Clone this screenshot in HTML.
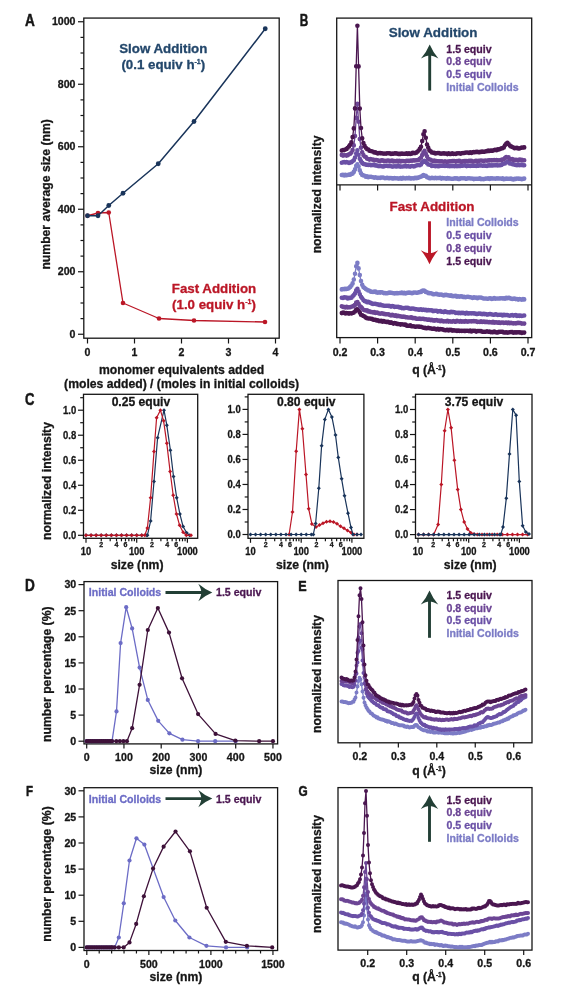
<!DOCTYPE html>
<html><head><meta charset="utf-8"><style>
html,body{margin:0;padding:0;background:#fff;width:564px;height:1000px;overflow:hidden}
svg{display:block;will-change:transform}
text{font-family:"Liberation Sans", sans-serif;stroke-width:0.3px;stroke-linejoin:round}
</style></head><body>
<svg width="564" height="1000" viewBox="0 0 564 1000">
<rect width="564" height="1000" fill="#fff"/>
<text transform="translate(25.06,26.45) scale(0.82,1)" font-size="16.6" text-anchor="start" fill="#161616" stroke="#161616" font-weight="bold" style="stroke-width:0.5px">A</text>
<text transform="translate(299.67,26.20) scale(0.7,1)" font-size="16.9" text-anchor="start" fill="#161616" stroke="#161616" font-weight="bold" style="stroke-width:0.5px">B</text>
<text transform="translate(25.01,405.20) scale(0.77,1)" font-size="17.0" text-anchor="start" fill="#161616" stroke="#161616" font-weight="bold" style="stroke-width:0.5px">C</text>
<text transform="translate(24.98,590.95) scale(0.85,1)" font-size="16.0" text-anchor="start" fill="#161616" stroke="#161616" font-weight="bold" style="stroke-width:0.5px">D</text>
<text transform="translate(298.13,590.80) scale(0.85,1)" font-size="14.8" text-anchor="start" fill="#161616" stroke="#161616" font-weight="bold" style="stroke-width:0.5px">E</text>
<text transform="translate(25.97,795.95) scale(0.75,1)" font-size="15.3" text-anchor="start" fill="#161616" stroke="#161616" font-weight="bold" style="stroke-width:0.5px">F</text>
<text transform="translate(298.49,795.95) scale(0.85,1)" font-size="13.9" text-anchor="start" fill="#161616" stroke="#161616" font-weight="bold" style="stroke-width:0.5px">G</text>
<rect x="83.80" y="18.07" width="195.40" height="320.13" fill="none" stroke="#161616" stroke-width="1.3"/>
<line x1="78.00" y1="334.25" x2="83.80" y2="334.25" stroke="#161616" stroke-width="1.2"/>
<text x="75.50" y="337.75" font-size="10.6" text-anchor="end" fill="#161616" stroke="#161616" font-weight="bold" >0</text>
<line x1="80.50" y1="318.62" x2="83.80" y2="318.62" stroke="#161616" stroke-width="1.2"/>
<line x1="80.50" y1="303.00" x2="83.80" y2="303.00" stroke="#161616" stroke-width="1.2"/>
<line x1="80.50" y1="287.38" x2="83.80" y2="287.38" stroke="#161616" stroke-width="1.2"/>
<line x1="78.00" y1="271.75" x2="83.80" y2="271.75" stroke="#161616" stroke-width="1.2"/>
<text x="75.50" y="275.25" font-size="10.6" text-anchor="end" fill="#161616" stroke="#161616" font-weight="bold" >200</text>
<line x1="80.50" y1="256.12" x2="83.80" y2="256.12" stroke="#161616" stroke-width="1.2"/>
<line x1="80.50" y1="240.50" x2="83.80" y2="240.50" stroke="#161616" stroke-width="1.2"/>
<line x1="80.50" y1="224.88" x2="83.80" y2="224.88" stroke="#161616" stroke-width="1.2"/>
<line x1="78.00" y1="209.25" x2="83.80" y2="209.25" stroke="#161616" stroke-width="1.2"/>
<text x="75.50" y="212.75" font-size="10.6" text-anchor="end" fill="#161616" stroke="#161616" font-weight="bold" >400</text>
<line x1="80.50" y1="193.62" x2="83.80" y2="193.62" stroke="#161616" stroke-width="1.2"/>
<line x1="80.50" y1="178.00" x2="83.80" y2="178.00" stroke="#161616" stroke-width="1.2"/>
<line x1="80.50" y1="162.38" x2="83.80" y2="162.38" stroke="#161616" stroke-width="1.2"/>
<line x1="78.00" y1="146.75" x2="83.80" y2="146.75" stroke="#161616" stroke-width="1.2"/>
<text x="75.50" y="150.25" font-size="10.6" text-anchor="end" fill="#161616" stroke="#161616" font-weight="bold" >600</text>
<line x1="80.50" y1="131.12" x2="83.80" y2="131.12" stroke="#161616" stroke-width="1.2"/>
<line x1="80.50" y1="115.50" x2="83.80" y2="115.50" stroke="#161616" stroke-width="1.2"/>
<line x1="80.50" y1="99.88" x2="83.80" y2="99.88" stroke="#161616" stroke-width="1.2"/>
<line x1="78.00" y1="84.25" x2="83.80" y2="84.25" stroke="#161616" stroke-width="1.2"/>
<text x="75.50" y="87.75" font-size="10.6" text-anchor="end" fill="#161616" stroke="#161616" font-weight="bold" >800</text>
<line x1="80.50" y1="68.62" x2="83.80" y2="68.62" stroke="#161616" stroke-width="1.2"/>
<line x1="80.50" y1="53.00" x2="83.80" y2="53.00" stroke="#161616" stroke-width="1.2"/>
<line x1="80.50" y1="37.38" x2="83.80" y2="37.38" stroke="#161616" stroke-width="1.2"/>
<line x1="78.00" y1="21.75" x2="83.80" y2="21.75" stroke="#161616" stroke-width="1.2"/>
<text x="75.50" y="25.25" font-size="10.6" text-anchor="end" fill="#161616" stroke="#161616" font-weight="bold" >1000</text>
<line x1="87.50" y1="338.20" x2="87.50" y2="343.50" stroke="#161616" stroke-width="1.2"/>
<text x="87.50" y="356.20" font-size="10.6" text-anchor="middle" fill="#161616" stroke="#161616" font-weight="bold" >0</text>
<line x1="134.50" y1="338.20" x2="134.50" y2="343.50" stroke="#161616" stroke-width="1.2"/>
<text x="134.50" y="356.20" font-size="10.6" text-anchor="middle" fill="#161616" stroke="#161616" font-weight="bold" >1</text>
<line x1="181.50" y1="338.20" x2="181.50" y2="343.50" stroke="#161616" stroke-width="1.2"/>
<text x="181.50" y="356.20" font-size="10.6" text-anchor="middle" fill="#161616" stroke="#161616" font-weight="bold" >2</text>
<line x1="228.50" y1="338.20" x2="228.50" y2="343.50" stroke="#161616" stroke-width="1.2"/>
<text x="228.50" y="356.20" font-size="10.6" text-anchor="middle" fill="#161616" stroke="#161616" font-weight="bold" >3</text>
<line x1="275.50" y1="338.20" x2="275.50" y2="343.50" stroke="#161616" stroke-width="1.2"/>
<text x="275.50" y="356.20" font-size="10.6" text-anchor="middle" fill="#161616" stroke="#161616" font-weight="bold" >4</text>
<text transform="translate(50.20,194.40) rotate(-90)" font-size="12.2" text-anchor="middle" fill="#161616" stroke="#161616" font-weight="bold">number average size (nm)</text>
<text x="181.50" y="374.00" font-size="12.2" text-anchor="middle" fill="#161616" stroke="#161616" font-weight="bold" >monomer equivalents added</text>
<text x="181.60" y="388.00" font-size="12.2" text-anchor="middle" fill="#161616" stroke="#161616" font-weight="bold" >(moles added) / (moles in initial colloids)</text>
<polyline points="87.50,215.75 98.00,213.00 108.75,212.50 123.00,303.00 159.00,318.50 194.00,320.50 265.00,322.00" fill="none" stroke="#bb1626" stroke-width="1.3" stroke-linejoin="round" stroke-linecap="round" />
<circle cx="87.50" cy="215.75" r="2.3" fill="#bb1626"/>
<circle cx="98.00" cy="213.00" r="2.3" fill="#bb1626"/>
<circle cx="108.75" cy="212.50" r="2.3" fill="#bb1626"/>
<circle cx="123.00" cy="303.00" r="2.3" fill="#bb1626"/>
<circle cx="159.00" cy="318.50" r="2.3" fill="#bb1626"/>
<circle cx="194.00" cy="320.50" r="2.3" fill="#bb1626"/>
<circle cx="265.00" cy="322.00" r="2.3" fill="#bb1626"/>
<polyline points="87.50,215.75 98.00,215.75 108.75,205.50 123.00,193.25 158.25,163.75 194.00,121.50 265.25,28.75" fill="none" stroke="#19345a" stroke-width="1.5" stroke-linejoin="round" stroke-linecap="round" />
<circle cx="87.50" cy="215.75" r="2.4" fill="#19345a"/>
<circle cx="98.00" cy="215.75" r="2.4" fill="#19345a"/>
<circle cx="108.75" cy="205.50" r="2.4" fill="#19345a"/>
<circle cx="123.00" cy="193.25" r="2.4" fill="#19345a"/>
<circle cx="158.25" cy="163.75" r="2.4" fill="#19345a"/>
<circle cx="194.00" cy="121.50" r="2.4" fill="#19345a"/>
<circle cx="265.25" cy="28.75" r="2.4" fill="#19345a"/>
<text x="163.30" y="53.40" font-size="13.3" text-anchor="middle" fill="#23476b" stroke="#23476b" font-weight="bold" >Slow Addition</text>
<text x="163.3" y="69.2" font-size="13.3" text-anchor="middle" fill="#23476b" stroke="#23476b" font-weight="bold">(0.1 equiv h<tspan font-size="7" dy="-5">-1</tspan><tspan dy="5">)</tspan></text>
<text x="214.00" y="293.40" font-size="13.3" text-anchor="middle" fill="#bb1626" stroke="#bb1626" font-weight="bold" >Fast Addition</text>
<text x="214" y="309.4" font-size="13.3" text-anchor="middle" fill="#bb1626" stroke="#bb1626" font-weight="bold">(1.0 equiv h<tspan font-size="7" dy="-5">-1</tspan><tspan dy="5">)</tspan></text>
<rect x="336.70" y="18.10" width="195.00" height="319.50" fill="none" stroke="#161616" stroke-width="1.3"/>
<line x1="336.70" y1="184.90" x2="531.70" y2="184.90" stroke="#161616" stroke-width="1.2"/>
<line x1="340.00" y1="184.90" x2="340.00" y2="190.50" stroke="#161616" stroke-width="1.2"/>
<line x1="340.00" y1="337.60" x2="340.00" y2="343.50" stroke="#161616" stroke-width="1.2"/>
<text x="340.00" y="356.30" font-size="10.6" text-anchor="middle" fill="#161616" stroke="#161616" font-weight="bold" >0.2</text>
<line x1="377.60" y1="184.90" x2="377.60" y2="190.50" stroke="#161616" stroke-width="1.2"/>
<line x1="377.60" y1="337.60" x2="377.60" y2="343.50" stroke="#161616" stroke-width="1.2"/>
<text x="377.60" y="356.30" font-size="10.6" text-anchor="middle" fill="#161616" stroke="#161616" font-weight="bold" >0.3</text>
<line x1="415.20" y1="184.90" x2="415.20" y2="190.50" stroke="#161616" stroke-width="1.2"/>
<line x1="415.20" y1="337.60" x2="415.20" y2="343.50" stroke="#161616" stroke-width="1.2"/>
<text x="415.20" y="356.30" font-size="10.6" text-anchor="middle" fill="#161616" stroke="#161616" font-weight="bold" >0.4</text>
<line x1="452.80" y1="184.90" x2="452.80" y2="190.50" stroke="#161616" stroke-width="1.2"/>
<line x1="452.80" y1="337.60" x2="452.80" y2="343.50" stroke="#161616" stroke-width="1.2"/>
<text x="452.80" y="356.30" font-size="10.6" text-anchor="middle" fill="#161616" stroke="#161616" font-weight="bold" >0.5</text>
<line x1="490.40" y1="184.90" x2="490.40" y2="190.50" stroke="#161616" stroke-width="1.2"/>
<line x1="490.40" y1="337.60" x2="490.40" y2="343.50" stroke="#161616" stroke-width="1.2"/>
<text x="490.40" y="356.30" font-size="10.6" text-anchor="middle" fill="#161616" stroke="#161616" font-weight="bold" >0.6</text>
<line x1="528.00" y1="184.90" x2="528.00" y2="190.50" stroke="#161616" stroke-width="1.2"/>
<line x1="528.00" y1="337.60" x2="528.00" y2="343.50" stroke="#161616" stroke-width="1.2"/>
<text x="528.00" y="356.30" font-size="10.6" text-anchor="middle" fill="#161616" stroke="#161616" font-weight="bold" >0.7</text>
<text transform="translate(320.50,194.40) rotate(-90)" font-size="12.2" text-anchor="middle" fill="#161616" stroke="#161616" font-weight="bold">normalized intensity</text>
<text x="429" y="374" font-size="12.2" text-anchor="middle" fill="#161616" stroke="#161616" font-weight="bold">q (Å<tspan font-size="6.5" dy="-4.5">-1</tspan><tspan dy="4.5">)</tspan></text>
<polyline points="341.80,175.04 343.00,174.90 344.20,175.36 345.40,174.84 346.60,175.24 347.80,175.02 349.00,174.61 350.20,174.78 351.40,173.94 352.60,173.56 353.80,171.88 355.00,169.42 356.20,165.90 357.40,164.16 358.60,166.50 359.80,170.44 361.00,173.25 362.20,174.94 363.40,175.45 364.60,175.84 365.80,176.75 367.00,176.20 368.20,177.16 369.40,176.83 370.60,176.85 371.80,176.96 373.00,177.24 374.20,177.80 375.40,177.31 376.60,177.75 377.80,177.87 379.00,177.69 380.20,177.89 381.40,177.50 382.60,177.54 383.80,177.71 385.00,178.17 386.20,177.98 387.40,177.90 388.60,178.18 389.80,178.08 391.00,177.97 392.20,178.43 393.40,178.37 394.60,177.98 395.80,178.29 397.00,178.26 398.20,178.58 399.40,178.46 400.60,178.07 401.80,178.70 403.00,177.93 404.20,178.20 405.40,178.51 406.60,177.96 407.80,178.25 409.00,177.84 410.20,178.38 411.40,178.44 412.60,178.24 413.80,178.46 415.00,177.88 416.20,178.11 417.40,177.86 418.60,177.59 419.80,177.07 421.00,176.77 422.20,176.04 423.40,175.09 424.60,175.66 425.80,175.95 427.00,177.21 428.20,177.60 429.40,178.19 430.60,178.22 431.80,177.85 433.00,178.03 434.20,178.34 435.40,177.81 436.60,178.24 437.80,178.00 439.00,177.98 440.20,177.94 441.40,178.60 442.60,178.04 443.80,178.16 445.00,178.30 446.20,178.75 447.40,178.05 448.60,178.39 449.80,178.49 451.00,178.80 452.20,178.76 453.40,178.81 454.60,178.29 455.80,178.43 457.00,178.39 458.20,178.87 459.40,178.95 460.60,178.23 461.80,178.26 463.00,178.32 464.20,178.33 465.40,178.57 466.60,178.67 467.80,178.39 469.00,178.16 470.20,178.55 471.40,178.51 472.60,178.70 473.80,179.05 475.00,178.83 476.20,178.68 477.40,178.78 478.60,178.84 479.80,178.29 481.00,179.06 482.20,178.96 483.40,179.05 484.60,178.99 485.80,178.63 487.00,178.65 488.20,178.39 489.40,178.88 490.60,178.37 491.80,178.38 493.00,178.52 494.20,178.48 495.40,178.65 496.60,178.40 497.80,178.36 499.00,178.51 500.20,178.47 501.40,178.71 502.60,178.42 503.80,179.19 505.00,178.96 506.20,178.55 507.40,178.66 508.60,178.75 509.80,178.77 511.00,178.56 512.20,179.22 513.40,179.36 514.60,178.90 515.80,178.92 517.00,178.57 518.20,178.59 519.40,178.82 520.60,178.76 521.80,179.27 523.00,178.68 524.20,178.56" fill="none" stroke="#7c7cc6" stroke-width="1.3" stroke-linejoin="round" stroke-linecap="round" />
<path d="M341.8 175.0h0M343.0 174.9h0M344.2 175.4h0M345.4 174.8h0M346.6 175.2h0M347.8 175.0h0M349.0 174.6h0M350.2 174.8h0M351.4 173.9h0M352.6 173.6h0M353.8 171.9h0M355.0 169.4h0M356.2 165.9h0M357.4 164.2h0M358.6 166.5h0M359.8 170.4h0M361.0 173.2h0M362.2 174.9h0M363.4 175.5h0M364.6 175.8h0M365.8 176.8h0M367.0 176.2h0M368.2 177.2h0M369.4 176.8h0M370.6 176.8h0M371.8 177.0h0M373.0 177.2h0M374.2 177.8h0M375.4 177.3h0M376.6 177.7h0M377.8 177.9h0M379.0 177.7h0M380.2 177.9h0M381.4 177.5h0M382.6 177.5h0M383.8 177.7h0M385.0 178.2h0M386.2 178.0h0M387.4 177.9h0M388.6 178.2h0M389.8 178.1h0M391.0 178.0h0M392.2 178.4h0M393.4 178.4h0M394.6 178.0h0M395.8 178.3h0M397.0 178.3h0M398.2 178.6h0M399.4 178.5h0M400.6 178.1h0M401.8 178.7h0M403.0 177.9h0M404.2 178.2h0M405.4 178.5h0M406.6 178.0h0M407.8 178.3h0M409.0 177.8h0M410.2 178.4h0M411.4 178.4h0M412.6 178.2h0M413.8 178.5h0M415.0 177.9h0M416.2 178.1h0M417.4 177.9h0M418.6 177.6h0M419.8 177.1h0M421.0 176.8h0M422.2 176.0h0M423.4 175.1h0M424.6 175.7h0M425.8 175.9h0M427.0 177.2h0M428.2 177.6h0M429.4 178.2h0M430.6 178.2h0M431.8 177.9h0M433.0 178.0h0M434.2 178.3h0M435.4 177.8h0M436.6 178.2h0M437.8 178.0h0M439.0 178.0h0M440.2 177.9h0M441.4 178.6h0M442.6 178.0h0M443.8 178.2h0M445.0 178.3h0M446.2 178.7h0M447.4 178.0h0M448.6 178.4h0M449.8 178.5h0M451.0 178.8h0M452.2 178.8h0M453.4 178.8h0M454.6 178.3h0M455.8 178.4h0M457.0 178.4h0M458.2 178.9h0M459.4 178.9h0M460.6 178.2h0M461.8 178.3h0M463.0 178.3h0M464.2 178.3h0M465.4 178.6h0M466.6 178.7h0M467.8 178.4h0M469.0 178.2h0M470.2 178.5h0M471.4 178.5h0M472.6 178.7h0M473.8 179.1h0M475.0 178.8h0M476.2 178.7h0M477.4 178.8h0M478.6 178.8h0M479.8 178.3h0M481.0 179.1h0M482.2 179.0h0M483.4 179.1h0M484.6 179.0h0M485.8 178.6h0M487.0 178.6h0M488.2 178.4h0M489.4 178.9h0M490.6 178.4h0M491.8 178.4h0M493.0 178.5h0M494.2 178.5h0M495.4 178.7h0M496.6 178.4h0M497.8 178.4h0M499.0 178.5h0M500.2 178.5h0M501.4 178.7h0M502.6 178.4h0M503.8 179.2h0M505.0 179.0h0M506.2 178.6h0M507.4 178.7h0M508.6 178.7h0M509.8 178.8h0M511.0 178.6h0M512.2 179.2h0M513.4 179.4h0M514.6 178.9h0M515.8 178.9h0M517.0 178.6h0M518.2 178.6h0M519.4 178.8h0M520.6 178.8h0M521.8 179.3h0M523.0 178.7h0M524.2 178.6h0" stroke="#7c7cc6" stroke-width="4.6" stroke-linecap="round" fill="none"/>
<polyline points="341.80,162.67 343.00,162.35 344.20,162.07 345.40,162.48 346.60,162.05 347.80,162.51 349.00,162.87 350.20,162.63 351.40,162.21 352.60,161.25 353.80,160.19 355.00,157.57 356.20,153.56 357.40,150.29 358.60,154.74 359.80,158.81 361.00,161.13 362.20,162.94 363.40,163.86 364.60,164.24 365.80,164.56 367.00,164.84 368.20,165.00 369.40,164.72 370.60,165.15 371.80,165.14 373.00,164.97 374.20,165.08 375.40,165.40 376.60,165.47 377.80,165.94 379.00,166.24 380.20,165.83 381.40,166.32 382.60,166.41 383.80,166.42 385.00,165.92 386.20,165.82 387.40,165.86 388.60,165.86 389.80,165.89 391.00,166.29 392.20,166.56 393.40,166.52 394.60,166.21 395.80,166.38 397.00,166.52 398.20,165.88 399.40,166.41 400.60,166.63 401.80,166.52 403.00,166.49 404.20,166.23 405.40,165.96 406.60,166.49 407.80,166.06 409.00,166.46 410.20,166.59 411.40,166.03 412.60,165.99 413.80,166.41 415.00,166.12 416.20,165.50 417.40,165.28 418.60,165.02 419.80,165.24 421.00,164.37 422.20,162.43 423.40,161.24 424.60,160.76 425.80,161.96 427.00,163.32 428.20,164.50 429.40,164.70 430.60,164.93 431.80,165.99 433.00,165.83 434.20,165.80 435.40,166.23 436.60,165.82 437.80,166.24 439.00,166.21 440.20,165.67 441.40,165.71 442.60,165.75 443.80,165.71 445.00,166.02 446.20,165.72 447.40,165.86 448.60,165.60 449.80,166.30 451.00,165.79 452.20,165.88 453.40,165.99 454.60,166.27 455.80,165.83 457.00,166.27 458.20,165.88 459.40,165.90 460.60,165.88 461.80,165.42 463.00,165.78 464.20,165.54 465.40,165.37 466.60,166.07 467.80,165.49 469.00,165.75 470.20,165.96 471.40,165.79 472.60,165.57 473.80,165.72 475.00,165.74 476.20,165.93 477.40,165.30 478.60,165.69 479.80,165.39 481.00,165.39 482.20,165.82 483.40,165.56 484.60,165.58 485.80,165.74 487.00,165.85 488.20,165.40 489.40,165.53 490.60,165.40 491.80,165.37 493.00,165.49 494.20,165.23 495.40,165.25 496.60,165.14 497.80,165.47 499.00,165.15 500.20,165.16 501.40,165.01 502.60,164.07 503.80,163.84 505.00,163.44 506.20,162.55 507.40,161.74 508.60,162.36 509.80,163.42 511.00,163.64 512.20,164.13 513.40,164.18 514.60,164.85 515.80,165.03 517.00,165.19 518.20,164.55 519.40,165.08 520.60,165.04 521.80,164.58 523.00,165.25 524.20,165.32" fill="none" stroke="#6a50a6" stroke-width="1.3" stroke-linejoin="round" stroke-linecap="round" />
<path d="M341.8 162.7h0M343.0 162.3h0M344.2 162.1h0M345.4 162.5h0M346.6 162.1h0M347.8 162.5h0M349.0 162.9h0M350.2 162.6h0M351.4 162.2h0M352.6 161.2h0M353.8 160.2h0M355.0 157.6h0M356.2 153.6h0M357.4 150.3h0M358.6 154.7h0M359.8 158.8h0M361.0 161.1h0M362.2 162.9h0M363.4 163.9h0M364.6 164.2h0M365.8 164.6h0M367.0 164.8h0M368.2 165.0h0M369.4 164.7h0M370.6 165.1h0M371.8 165.1h0M373.0 165.0h0M374.2 165.1h0M375.4 165.4h0M376.6 165.5h0M377.8 165.9h0M379.0 166.2h0M380.2 165.8h0M381.4 166.3h0M382.6 166.4h0M383.8 166.4h0M385.0 165.9h0M386.2 165.8h0M387.4 165.9h0M388.6 165.9h0M389.8 165.9h0M391.0 166.3h0M392.2 166.6h0M393.4 166.5h0M394.6 166.2h0M395.8 166.4h0M397.0 166.5h0M398.2 165.9h0M399.4 166.4h0M400.6 166.6h0M401.8 166.5h0M403.0 166.5h0M404.2 166.2h0M405.4 166.0h0M406.6 166.5h0M407.8 166.1h0M409.0 166.5h0M410.2 166.6h0M411.4 166.0h0M412.6 166.0h0M413.8 166.4h0M415.0 166.1h0M416.2 165.5h0M417.4 165.3h0M418.6 165.0h0M419.8 165.2h0M421.0 164.4h0M422.2 162.4h0M423.4 161.2h0M424.6 160.8h0M425.8 162.0h0M427.0 163.3h0M428.2 164.5h0M429.4 164.7h0M430.6 164.9h0M431.8 166.0h0M433.0 165.8h0M434.2 165.8h0M435.4 166.2h0M436.6 165.8h0M437.8 166.2h0M439.0 166.2h0M440.2 165.7h0M441.4 165.7h0M442.6 165.8h0M443.8 165.7h0M445.0 166.0h0M446.2 165.7h0M447.4 165.9h0M448.6 165.6h0M449.8 166.3h0M451.0 165.8h0M452.2 165.9h0M453.4 166.0h0M454.6 166.3h0M455.8 165.8h0M457.0 166.3h0M458.2 165.9h0M459.4 165.9h0M460.6 165.9h0M461.8 165.4h0M463.0 165.8h0M464.2 165.5h0M465.4 165.4h0M466.6 166.1h0M467.8 165.5h0M469.0 165.7h0M470.2 166.0h0M471.4 165.8h0M472.6 165.6h0M473.8 165.7h0M475.0 165.7h0M476.2 165.9h0M477.4 165.3h0M478.6 165.7h0M479.8 165.4h0M481.0 165.4h0M482.2 165.8h0M483.4 165.6h0M484.6 165.6h0M485.8 165.7h0M487.0 165.9h0M488.2 165.4h0M489.4 165.5h0M490.6 165.4h0M491.8 165.4h0M493.0 165.5h0M494.2 165.2h0M495.4 165.3h0M496.6 165.1h0M497.8 165.5h0M499.0 165.2h0M500.2 165.2h0M501.4 165.0h0M502.6 164.1h0M503.8 163.8h0M505.0 163.4h0M506.2 162.5h0M507.4 161.7h0M508.6 162.4h0M509.8 163.4h0M511.0 163.6h0M512.2 164.1h0M513.4 164.2h0M514.6 164.8h0M515.8 165.0h0M517.0 165.2h0M518.2 164.6h0M519.4 165.1h0M520.6 165.0h0M521.8 164.6h0M523.0 165.2h0M524.2 165.3h0" stroke="#6a50a6" stroke-width="4.6" stroke-linecap="round" fill="none"/>
<polyline points="341.80,154.93 343.00,155.62 344.20,155.16 345.40,155.23 346.60,155.59 347.80,155.24 349.00,154.24 350.20,153.78 351.40,152.60 352.60,150.12 353.80,145.45 355.00,136.05 356.20,117.86 357.40,103.86 358.60,121.83 359.80,139.14 361.00,147.56 362.20,152.29 363.40,155.04 364.60,156.47 365.80,157.09 367.00,158.64 368.20,158.99 369.40,159.57 370.60,159.11 371.80,159.51 373.00,159.51 374.20,160.35 375.40,160.03 376.60,160.02 377.80,160.38 379.00,160.90 380.20,160.88 381.40,160.43 382.60,160.38 383.80,161.12 385.00,160.85 386.20,161.00 387.40,160.49 388.60,160.49 389.80,161.09 391.00,160.88 392.20,160.59 393.40,161.39 394.60,161.14 395.80,161.31 397.00,160.68 398.20,161.39 399.40,160.69 400.60,161.42 401.80,161.06 403.00,160.96 404.20,161.16 405.40,161.49 406.60,160.89 407.80,160.75 409.00,161.09 410.20,160.80 411.40,160.64 412.60,160.62 413.80,160.43 415.00,160.44 416.20,160.35 417.40,160.05 418.60,160.00 419.80,158.82 421.00,157.69 422.20,155.12 423.40,152.20 424.60,150.87 425.80,153.67 427.00,156.29 428.20,158.70 429.40,159.55 430.60,159.82 431.80,160.45 433.00,161.11 434.20,160.54 435.40,161.30 436.60,161.04 437.80,161.17 439.00,161.52 440.20,161.16 441.40,161.30 442.60,161.48 443.80,161.77 445.00,161.21 446.20,161.66 447.40,161.55 448.60,161.49 449.80,161.29 451.00,161.23 452.20,160.97 453.40,161.03 454.60,160.97 455.80,161.57 457.00,161.12 458.20,161.03 459.40,160.95 460.60,161.62 461.80,161.63 463.00,161.43 464.20,161.07 465.40,161.01 466.60,161.04 467.80,161.17 469.00,160.88 470.20,161.12 471.40,160.93 472.60,161.54 473.80,161.52 475.00,161.12 476.20,160.82 477.40,161.44 478.60,160.82 479.80,160.84 481.00,160.49 482.20,160.80 483.40,160.85 484.60,160.85 485.80,160.54 487.00,160.78 488.20,160.29 489.40,160.49 490.60,160.29 491.80,160.52 493.00,160.15 494.20,160.08 495.40,160.27 496.60,160.13 497.80,160.35 499.00,160.18 500.20,160.22 501.40,159.90 502.60,159.61 503.80,159.23 505.00,158.00 506.20,157.11 507.40,157.51 508.60,157.41 509.80,158.72 511.00,159.20 512.20,159.01 513.40,159.92 514.60,160.10 515.80,159.94 517.00,160.08 518.20,160.17 519.40,159.58 520.60,159.93 521.80,159.91 523.00,160.20 524.20,160.17" fill="none" stroke="#6c4595" stroke-width="1.3" stroke-linejoin="round" stroke-linecap="round" />
<path d="M341.8 154.9h0M343.0 155.6h0M344.2 155.2h0M345.4 155.2h0M346.6 155.6h0M347.8 155.2h0M349.0 154.2h0M350.2 153.8h0M351.4 152.6h0M352.6 150.1h0M353.8 145.4h0M355.0 136.0h0M356.2 117.9h0M357.4 103.9h0M358.6 121.8h0M359.8 139.1h0M361.0 147.6h0M362.2 152.3h0M363.4 155.0h0M364.6 156.5h0M365.8 157.1h0M367.0 158.6h0M368.2 159.0h0M369.4 159.6h0M370.6 159.1h0M371.8 159.5h0M373.0 159.5h0M374.2 160.4h0M375.4 160.0h0M376.6 160.0h0M377.8 160.4h0M379.0 160.9h0M380.2 160.9h0M381.4 160.4h0M382.6 160.4h0M383.8 161.1h0M385.0 160.8h0M386.2 161.0h0M387.4 160.5h0M388.6 160.5h0M389.8 161.1h0M391.0 160.9h0M392.2 160.6h0M393.4 161.4h0M394.6 161.1h0M395.8 161.3h0M397.0 160.7h0M398.2 161.4h0M399.4 160.7h0M400.6 161.4h0M401.8 161.1h0M403.0 161.0h0M404.2 161.2h0M405.4 161.5h0M406.6 160.9h0M407.8 160.8h0M409.0 161.1h0M410.2 160.8h0M411.4 160.6h0M412.6 160.6h0M413.8 160.4h0M415.0 160.4h0M416.2 160.3h0M417.4 160.1h0M418.6 160.0h0M419.8 158.8h0M421.0 157.7h0M422.2 155.1h0M423.4 152.2h0M424.6 150.9h0M425.8 153.7h0M427.0 156.3h0M428.2 158.7h0M429.4 159.5h0M430.6 159.8h0M431.8 160.5h0M433.0 161.1h0M434.2 160.5h0M435.4 161.3h0M436.6 161.0h0M437.8 161.2h0M439.0 161.5h0M440.2 161.2h0M441.4 161.3h0M442.6 161.5h0M443.8 161.8h0M445.0 161.2h0M446.2 161.7h0M447.4 161.6h0M448.6 161.5h0M449.8 161.3h0M451.0 161.2h0M452.2 161.0h0M453.4 161.0h0M454.6 161.0h0M455.8 161.6h0M457.0 161.1h0M458.2 161.0h0M459.4 160.9h0M460.6 161.6h0M461.8 161.6h0M463.0 161.4h0M464.2 161.1h0M465.4 161.0h0M466.6 161.0h0M467.8 161.2h0M469.0 160.9h0M470.2 161.1h0M471.4 160.9h0M472.6 161.5h0M473.8 161.5h0M475.0 161.1h0M476.2 160.8h0M477.4 161.4h0M478.6 160.8h0M479.8 160.8h0M481.0 160.5h0M482.2 160.8h0M483.4 160.9h0M484.6 160.8h0M485.8 160.5h0M487.0 160.8h0M488.2 160.3h0M489.4 160.5h0M490.6 160.3h0M491.8 160.5h0M493.0 160.2h0M494.2 160.1h0M495.4 160.3h0M496.6 160.1h0M497.8 160.4h0M499.0 160.2h0M500.2 160.2h0M501.4 159.9h0M502.6 159.6h0M503.8 159.2h0M505.0 158.0h0M506.2 157.1h0M507.4 157.5h0M508.6 157.4h0M509.8 158.7h0M511.0 159.2h0M512.2 159.0h0M513.4 159.9h0M514.6 160.1h0M515.8 159.9h0M517.0 160.1h0M518.2 160.2h0M519.4 159.6h0M520.6 159.9h0M521.8 159.9h0M523.0 160.2h0M524.2 160.2h0" stroke="#6c4595" stroke-width="4.6" stroke-linecap="round" fill="none"/>
<polyline points="341.80,150.49 343.00,150.06 344.20,150.05 345.40,149.47 346.60,148.94 347.80,147.74 349.00,146.43 350.20,144.78 351.40,142.17 352.60,137.05 353.80,128.40 355.00,108.40 356.20,66.22 357.40,25.66 358.60,66.39 359.80,108.58 361.00,128.02 362.20,138.17 363.40,143.14 364.60,145.86 365.80,147.76 367.00,149.15 368.20,149.54 369.40,150.85 370.60,150.96 371.80,151.25 373.00,151.78 374.20,152.51 375.40,152.29 376.60,152.99 377.80,153.37 379.00,153.08 380.20,153.08 381.40,153.25 382.60,153.51 383.80,153.65 385.00,153.57 386.20,153.64 387.40,153.18 388.60,153.28 389.80,153.41 391.00,153.88 392.20,153.52 393.40,153.78 394.60,153.30 395.80,153.36 397.00,153.56 398.20,153.94 399.40,153.96 400.60,153.95 401.80,153.60 403.00,153.79 404.20,153.73 405.40,153.71 406.60,153.37 407.80,154.02 409.00,153.33 410.20,153.95 411.40,153.81 412.60,152.83 413.80,153.03 415.00,153.07 416.20,152.79 417.40,151.71 418.60,150.57 419.80,148.89 421.00,146.69 422.20,140.97 423.40,134.16 424.60,131.29 425.80,137.74 427.00,144.51 428.20,147.60 429.40,150.36 430.60,151.33 431.80,152.44 433.00,152.78 434.20,152.70 435.40,153.53 436.60,153.33 437.80,153.04 439.00,153.12 440.20,153.62 441.40,153.63 442.60,153.53 443.80,153.41 445.00,153.61 446.20,153.59 447.40,154.06 448.60,153.30 449.80,153.97 451.00,154.03 452.20,153.36 453.40,154.05 454.60,153.82 455.80,153.94 457.00,153.33 458.20,153.35 459.40,153.30 460.60,153.78 461.80,153.33 463.00,153.05 464.20,153.02 465.40,152.80 466.60,152.50 467.80,152.45 469.00,153.02 470.20,152.42 471.40,152.90 472.60,152.18 473.80,152.09 475.00,152.20 476.20,151.80 477.40,151.85 478.60,152.27 479.80,152.09 481.00,151.91 482.20,151.63 483.40,151.77 484.60,151.68 485.80,151.21 487.00,151.25 488.20,150.53 489.40,151.02 490.60,150.65 491.80,150.79 493.00,150.56 494.20,150.09 495.40,149.71 496.60,150.31 497.80,149.37 499.00,149.41 500.20,148.95 501.40,148.45 502.60,148.17 503.80,147.37 505.00,145.24 506.20,143.87 507.40,142.82 508.60,144.08 509.80,145.46 511.00,146.36 512.20,147.03 513.40,147.45 514.60,148.29 515.80,148.03 517.00,147.82 518.20,148.44 519.40,148.49 520.60,147.96 521.80,147.62 523.00,147.60 524.20,147.43" fill="none" stroke="#4a1650" stroke-width="1.3" stroke-linejoin="round" stroke-linecap="round" />
<path d="M341.8 150.5h0M343.0 150.1h0M344.2 150.1h0M345.4 149.5h0M346.6 148.9h0M347.8 147.7h0M349.0 146.4h0M350.2 144.8h0M351.4 142.2h0M352.6 137.1h0M353.8 128.4h0M355.0 108.4h0M356.2 66.2h0M357.4 25.7h0M358.6 66.4h0M359.8 108.6h0M361.0 128.0h0M362.2 138.2h0M363.4 143.1h0M364.6 145.9h0M365.8 147.8h0M367.0 149.1h0M368.2 149.5h0M369.4 150.8h0M370.6 151.0h0M371.8 151.2h0M373.0 151.8h0M374.2 152.5h0M375.4 152.3h0M376.6 153.0h0M377.8 153.4h0M379.0 153.1h0M380.2 153.1h0M381.4 153.3h0M382.6 153.5h0M383.8 153.6h0M385.0 153.6h0M386.2 153.6h0M387.4 153.2h0M388.6 153.3h0M389.8 153.4h0M391.0 153.9h0M392.2 153.5h0M393.4 153.8h0M394.6 153.3h0M395.8 153.4h0M397.0 153.6h0M398.2 153.9h0M399.4 154.0h0M400.6 153.9h0M401.8 153.6h0M403.0 153.8h0M404.2 153.7h0M405.4 153.7h0M406.6 153.4h0M407.8 154.0h0M409.0 153.3h0M410.2 154.0h0M411.4 153.8h0M412.6 152.8h0M413.8 153.0h0M415.0 153.1h0M416.2 152.8h0M417.4 151.7h0M418.6 150.6h0M419.8 148.9h0M421.0 146.7h0M422.2 141.0h0M423.4 134.2h0M424.6 131.3h0M425.8 137.7h0M427.0 144.5h0M428.2 147.6h0M429.4 150.4h0M430.6 151.3h0M431.8 152.4h0M433.0 152.8h0M434.2 152.7h0M435.4 153.5h0M436.6 153.3h0M437.8 153.0h0M439.0 153.1h0M440.2 153.6h0M441.4 153.6h0M442.6 153.5h0M443.8 153.4h0M445.0 153.6h0M446.2 153.6h0M447.4 154.1h0M448.6 153.3h0M449.8 154.0h0M451.0 154.0h0M452.2 153.4h0M453.4 154.0h0M454.6 153.8h0M455.8 153.9h0M457.0 153.3h0M458.2 153.3h0M459.4 153.3h0M460.6 153.8h0M461.8 153.3h0M463.0 153.0h0M464.2 153.0h0M465.4 152.8h0M466.6 152.5h0M467.8 152.5h0M469.0 153.0h0M470.2 152.4h0M471.4 152.9h0M472.6 152.2h0M473.8 152.1h0M475.0 152.2h0M476.2 151.8h0M477.4 151.9h0M478.6 152.3h0M479.8 152.1h0M481.0 151.9h0M482.2 151.6h0M483.4 151.8h0M484.6 151.7h0M485.8 151.2h0M487.0 151.2h0M488.2 150.5h0M489.4 151.0h0M490.6 150.6h0M491.8 150.8h0M493.0 150.6h0M494.2 150.1h0M495.4 149.7h0M496.6 150.3h0M497.8 149.4h0M499.0 149.4h0M500.2 149.0h0M501.4 148.4h0M502.6 148.2h0M503.8 147.4h0M505.0 145.2h0M506.2 143.9h0M507.4 142.8h0M508.6 144.1h0M509.8 145.5h0M511.0 146.4h0M512.2 147.0h0M513.4 147.5h0M514.6 148.3h0M515.8 148.0h0M517.0 147.8h0M518.2 148.4h0M519.4 148.5h0M520.6 148.0h0M521.8 147.6h0M523.0 147.6h0M524.2 147.4h0" stroke="#4a1650" stroke-width="4.6" stroke-linecap="round" fill="none"/>
<polyline points="341.80,313.10 343.00,312.58 344.20,312.87 345.40,313.44 346.60,313.04 347.80,313.16 349.00,313.56 350.20,313.35 351.40,313.46 352.60,313.01 353.80,312.65 355.00,311.45 356.20,309.58 357.40,309.39 358.60,310.64 359.80,312.39 361.00,314.76 362.20,315.28 363.40,316.01 364.60,316.58 365.80,317.57 367.00,318.20 368.20,318.49 369.40,318.49 370.60,318.68 371.80,318.75 373.00,319.59 374.20,319.79 375.40,319.85 376.60,320.36 377.80,320.42 379.00,321.09 380.20,321.12 381.40,320.90 382.60,321.70 383.80,321.14 385.00,321.79 386.20,321.88 387.40,321.94 388.60,321.98 389.80,322.83 391.00,322.34 392.20,323.02 393.40,323.57 394.60,323.05 395.80,323.29 397.00,323.85 398.20,323.95 399.40,324.26 400.60,324.60 401.80,324.21 403.00,324.52 404.20,324.69 405.40,324.65 406.60,325.58 407.80,325.66 409.00,325.78 410.20,325.31 411.40,326.24 412.60,326.32 413.80,326.24 415.00,326.65 416.20,326.56 417.40,326.51 418.60,326.57 419.80,326.84 421.00,326.82 422.20,327.24 423.40,327.76 424.60,327.86 425.80,328.15 427.00,328.17 428.20,327.91 429.40,328.31 430.60,328.34 431.80,328.80 433.00,328.69 434.20,328.59 435.40,329.05 436.60,329.47 437.80,328.92 439.00,329.63 440.20,328.96 441.40,329.28 442.60,329.36 443.80,329.91 445.00,330.18 446.20,330.09 447.40,329.79 448.60,330.37 449.80,329.95 451.00,329.94 452.20,330.61 453.40,330.42 454.60,330.54 455.80,330.58 457.00,330.91 458.20,330.51 459.40,330.90 460.60,330.82 461.80,331.01 463.00,330.68 464.20,330.99 465.40,330.90 466.60,330.71 467.80,330.66 469.00,331.08 470.20,330.63 471.40,331.43 472.60,330.78 473.80,330.72 475.00,330.84 476.20,331.63 477.40,331.15 478.60,331.01 479.80,330.96 481.00,331.03 482.20,331.66 483.40,331.66 484.60,331.76 485.80,331.84 487.00,331.28 488.20,331.80 489.40,331.64 490.60,332.09 491.80,332.13 493.00,332.23 494.20,331.53 495.40,332.29 496.60,332.37 497.80,332.43 499.00,331.71 500.20,331.84 501.40,331.79 502.60,331.75 503.80,332.52 505.00,332.52 506.20,332.39 507.40,332.60 508.60,332.46 509.80,332.18 511.00,332.05 512.20,332.08 513.40,332.70 514.60,332.24 515.80,332.38 517.00,332.50 518.20,332.18 519.40,332.42 520.60,332.48 521.80,332.91 523.00,332.63 524.20,332.63" fill="none" stroke="#4a1650" stroke-width="1.3" stroke-linejoin="round" stroke-linecap="round" />
<path d="M341.8 313.1h0M343.0 312.6h0M344.2 312.9h0M345.4 313.4h0M346.6 313.0h0M347.8 313.2h0M349.0 313.6h0M350.2 313.3h0M351.4 313.5h0M352.6 313.0h0M353.8 312.6h0M355.0 311.5h0M356.2 309.6h0M357.4 309.4h0M358.6 310.6h0M359.8 312.4h0M361.0 314.8h0M362.2 315.3h0M363.4 316.0h0M364.6 316.6h0M365.8 317.6h0M367.0 318.2h0M368.2 318.5h0M369.4 318.5h0M370.6 318.7h0M371.8 318.7h0M373.0 319.6h0M374.2 319.8h0M375.4 319.8h0M376.6 320.4h0M377.8 320.4h0M379.0 321.1h0M380.2 321.1h0M381.4 320.9h0M382.6 321.7h0M383.8 321.1h0M385.0 321.8h0M386.2 321.9h0M387.4 321.9h0M388.6 322.0h0M389.8 322.8h0M391.0 322.3h0M392.2 323.0h0M393.4 323.6h0M394.6 323.0h0M395.8 323.3h0M397.0 323.9h0M398.2 324.0h0M399.4 324.3h0M400.6 324.6h0M401.8 324.2h0M403.0 324.5h0M404.2 324.7h0M405.4 324.6h0M406.6 325.6h0M407.8 325.7h0M409.0 325.8h0M410.2 325.3h0M411.4 326.2h0M412.6 326.3h0M413.8 326.2h0M415.0 326.7h0M416.2 326.6h0M417.4 326.5h0M418.6 326.6h0M419.8 326.8h0M421.0 326.8h0M422.2 327.2h0M423.4 327.8h0M424.6 327.9h0M425.8 328.1h0M427.0 328.2h0M428.2 327.9h0M429.4 328.3h0M430.6 328.3h0M431.8 328.8h0M433.0 328.7h0M434.2 328.6h0M435.4 329.1h0M436.6 329.5h0M437.8 328.9h0M439.0 329.6h0M440.2 329.0h0M441.4 329.3h0M442.6 329.4h0M443.8 329.9h0M445.0 330.2h0M446.2 330.1h0M447.4 329.8h0M448.6 330.4h0M449.8 329.9h0M451.0 329.9h0M452.2 330.6h0M453.4 330.4h0M454.6 330.5h0M455.8 330.6h0M457.0 330.9h0M458.2 330.5h0M459.4 330.9h0M460.6 330.8h0M461.8 331.0h0M463.0 330.7h0M464.2 331.0h0M465.4 330.9h0M466.6 330.7h0M467.8 330.7h0M469.0 331.1h0M470.2 330.6h0M471.4 331.4h0M472.6 330.8h0M473.8 330.7h0M475.0 330.8h0M476.2 331.6h0M477.4 331.1h0M478.6 331.0h0M479.8 331.0h0M481.0 331.0h0M482.2 331.7h0M483.4 331.7h0M484.6 331.8h0M485.8 331.8h0M487.0 331.3h0M488.2 331.8h0M489.4 331.6h0M490.6 332.1h0M491.8 332.1h0M493.0 332.2h0M494.2 331.5h0M495.4 332.3h0M496.6 332.4h0M497.8 332.4h0M499.0 331.7h0M500.2 331.8h0M501.4 331.8h0M502.6 331.8h0M503.8 332.5h0M505.0 332.5h0M506.2 332.4h0M507.4 332.6h0M508.6 332.5h0M509.8 332.2h0M511.0 332.0h0M512.2 332.1h0M513.4 332.7h0M514.6 332.2h0M515.8 332.4h0M517.0 332.5h0M518.2 332.2h0M519.4 332.4h0M520.6 332.5h0M521.8 332.9h0M523.0 332.6h0M524.2 332.6h0" stroke="#4a1650" stroke-width="4.6" stroke-linecap="round" fill="none"/>
<polyline points="341.80,306.29 343.00,306.90 344.20,307.13 345.40,307.50 346.60,306.88 347.80,307.43 349.00,307.23 350.20,307.29 351.40,306.77 352.60,306.47 353.80,305.88 355.00,304.89 356.20,302.45 357.40,302.12 358.60,303.81 359.80,306.09 361.00,307.09 362.20,308.18 363.40,309.72 364.60,310.34 365.80,310.36 367.00,310.36 368.20,311.48 369.40,311.30 370.60,312.03 371.80,312.03 373.00,312.45 374.20,312.08 375.40,312.86 376.60,312.57 377.80,312.93 379.00,313.52 380.20,313.70 381.40,313.30 382.60,313.51 383.80,313.86 385.00,314.15 386.20,314.21 387.40,314.15 388.60,314.44 389.80,315.05 391.00,315.38 392.20,314.78 393.40,315.43 394.60,315.78 395.80,315.30 397.00,316.19 398.20,315.72 399.40,316.32 400.60,316.44 401.80,316.68 403.00,316.56 404.20,316.82 405.40,317.13 406.60,317.15 407.80,317.52 409.00,317.49 410.20,317.64 411.40,317.42 412.60,318.11 413.80,318.14 415.00,318.06 416.20,318.68 417.40,318.84 418.60,318.69 419.80,318.58 421.00,318.98 422.20,318.79 423.40,318.94 424.60,319.34 425.80,319.16 427.00,319.60 428.20,319.79 429.40,319.48 430.60,320.13 431.80,319.75 433.00,320.44 434.20,320.59 435.40,320.45 436.60,320.14 437.80,320.63 439.00,320.60 440.20,321.20 441.40,320.53 442.60,321.25 443.80,321.43 445.00,321.25 446.20,321.37 447.40,320.85 448.60,321.60 449.80,321.19 451.00,321.64 452.20,321.63 453.40,320.98 454.60,321.56 455.80,321.71 457.00,320.95 458.20,321.22 459.40,321.60 460.60,321.07 461.80,321.75 463.00,321.20 464.20,321.70 465.40,321.10 466.60,321.44 467.80,321.82 469.00,321.20 470.20,321.26 471.40,321.50 472.60,321.35 473.80,321.11 475.00,321.27 476.20,321.28 477.40,322.01 478.60,321.81 479.80,322.04 481.00,321.43 482.20,322.03 483.40,321.47 484.60,321.89 485.80,322.03 487.00,321.83 488.20,322.34 489.40,322.10 490.60,322.17 491.80,322.50 493.00,321.85 494.20,322.70 495.40,322.42 496.60,322.26 497.80,322.68 499.00,322.25 500.20,322.95 501.40,322.64 502.60,322.49 503.80,322.91 505.00,322.68 506.20,322.49 507.40,323.06 508.60,322.48 509.80,323.23 511.00,322.78 512.20,323.18 513.40,323.54 514.60,323.24 515.80,323.36 517.00,323.10 518.20,322.87 519.40,322.96 520.60,323.11 521.80,323.59 523.00,323.47 524.20,323.60" fill="none" stroke="#6c4595" stroke-width="1.3" stroke-linejoin="round" stroke-linecap="round" />
<path d="M341.8 306.3h0M343.0 306.9h0M344.2 307.1h0M345.4 307.5h0M346.6 306.9h0M347.8 307.4h0M349.0 307.2h0M350.2 307.3h0M351.4 306.8h0M352.6 306.5h0M353.8 305.9h0M355.0 304.9h0M356.2 302.5h0M357.4 302.1h0M358.6 303.8h0M359.8 306.1h0M361.0 307.1h0M362.2 308.2h0M363.4 309.7h0M364.6 310.3h0M365.8 310.4h0M367.0 310.4h0M368.2 311.5h0M369.4 311.3h0M370.6 312.0h0M371.8 312.0h0M373.0 312.5h0M374.2 312.1h0M375.4 312.9h0M376.6 312.6h0M377.8 312.9h0M379.0 313.5h0M380.2 313.7h0M381.4 313.3h0M382.6 313.5h0M383.8 313.9h0M385.0 314.1h0M386.2 314.2h0M387.4 314.2h0M388.6 314.4h0M389.8 315.0h0M391.0 315.4h0M392.2 314.8h0M393.4 315.4h0M394.6 315.8h0M395.8 315.3h0M397.0 316.2h0M398.2 315.7h0M399.4 316.3h0M400.6 316.4h0M401.8 316.7h0M403.0 316.6h0M404.2 316.8h0M405.4 317.1h0M406.6 317.2h0M407.8 317.5h0M409.0 317.5h0M410.2 317.6h0M411.4 317.4h0M412.6 318.1h0M413.8 318.1h0M415.0 318.1h0M416.2 318.7h0M417.4 318.8h0M418.6 318.7h0M419.8 318.6h0M421.0 319.0h0M422.2 318.8h0M423.4 318.9h0M424.6 319.3h0M425.8 319.2h0M427.0 319.6h0M428.2 319.8h0M429.4 319.5h0M430.6 320.1h0M431.8 319.7h0M433.0 320.4h0M434.2 320.6h0M435.4 320.4h0M436.6 320.1h0M437.8 320.6h0M439.0 320.6h0M440.2 321.2h0M441.4 320.5h0M442.6 321.2h0M443.8 321.4h0M445.0 321.2h0M446.2 321.4h0M447.4 320.9h0M448.6 321.6h0M449.8 321.2h0M451.0 321.6h0M452.2 321.6h0M453.4 321.0h0M454.6 321.6h0M455.8 321.7h0M457.0 320.9h0M458.2 321.2h0M459.4 321.6h0M460.6 321.1h0M461.8 321.7h0M463.0 321.2h0M464.2 321.7h0M465.4 321.1h0M466.6 321.4h0M467.8 321.8h0M469.0 321.2h0M470.2 321.3h0M471.4 321.5h0M472.6 321.3h0M473.8 321.1h0M475.0 321.3h0M476.2 321.3h0M477.4 322.0h0M478.6 321.8h0M479.8 322.0h0M481.0 321.4h0M482.2 322.0h0M483.4 321.5h0M484.6 321.9h0M485.8 322.0h0M487.0 321.8h0M488.2 322.3h0M489.4 322.1h0M490.6 322.2h0M491.8 322.5h0M493.0 321.8h0M494.2 322.7h0M495.4 322.4h0M496.6 322.3h0M497.8 322.7h0M499.0 322.2h0M500.2 323.0h0M501.4 322.6h0M502.6 322.5h0M503.8 322.9h0M505.0 322.7h0M506.2 322.5h0M507.4 323.1h0M508.6 322.5h0M509.8 323.2h0M511.0 322.8h0M512.2 323.2h0M513.4 323.5h0M514.6 323.2h0M515.8 323.4h0M517.0 323.1h0M518.2 322.9h0M519.4 323.0h0M520.6 323.1h0M521.8 323.6h0M523.0 323.5h0M524.2 323.6h0" stroke="#6c4595" stroke-width="4.6" stroke-linecap="round" fill="none"/>
<polyline points="341.80,297.85 343.00,297.92 344.20,297.40 345.40,297.50 346.60,297.60 347.80,298.39 349.00,297.73 350.20,297.98 351.40,297.70 352.60,296.43 353.80,294.99 355.00,293.37 356.20,290.28 357.40,288.79 358.60,291.32 359.80,294.22 361.00,296.75 362.20,298.23 363.40,300.07 364.60,301.05 365.80,301.43 367.00,302.21 368.20,301.81 369.40,302.36 370.60,302.91 371.80,303.64 373.00,303.91 374.20,303.65 375.40,303.77 376.60,304.16 377.80,304.43 379.00,305.02 380.20,304.54 381.40,305.28 382.60,305.40 383.80,305.65 385.00,305.78 386.20,305.80 387.40,305.71 388.60,305.86 389.80,306.06 391.00,306.59 392.20,306.11 393.40,306.36 394.60,307.01 395.80,306.70 397.00,306.68 398.20,306.79 399.40,307.40 400.60,307.33 401.80,308.06 403.00,308.10 404.20,308.33 405.40,307.81 406.60,307.77 407.80,307.91 409.00,308.40 410.20,308.71 411.40,308.60 412.60,308.53 413.80,308.82 415.00,309.12 416.20,309.29 417.40,309.47 418.60,309.68 419.80,309.63 421.00,309.25 422.20,310.02 423.40,309.64 424.60,310.00 425.80,309.93 427.00,310.37 428.20,310.00 429.40,310.15 430.60,310.26 431.80,310.29 433.00,311.06 434.20,310.89 435.40,310.77 436.60,310.94 437.80,311.59 439.00,311.25 440.20,311.11 441.40,311.73 442.60,311.69 443.80,312.09 445.00,311.39 446.20,311.82 447.40,312.22 448.60,312.33 449.80,312.48 451.00,311.79 452.20,312.10 453.40,312.03 454.60,312.18 455.80,312.96 457.00,312.69 458.20,313.09 459.40,312.66 460.60,313.19 461.80,312.89 463.00,312.79 464.20,313.33 465.40,313.56 466.60,312.87 467.80,313.39 469.00,313.48 470.20,313.19 471.40,313.39 472.60,313.26 473.80,313.38 475.00,313.50 476.20,313.87 477.40,313.99 478.60,313.65 479.80,313.54 481.00,313.89 482.20,314.27 483.40,313.89 484.60,314.06 485.80,314.02 487.00,314.61 488.20,314.44 489.40,314.06 490.60,314.15 491.80,314.46 493.00,314.65 494.20,314.78 495.40,314.34 496.60,314.45 497.80,314.98 499.00,314.77 500.20,314.70 501.40,314.77 502.60,315.39 503.80,314.86 505.00,315.13 506.20,314.99 507.40,315.08 508.60,315.53 509.80,315.69 511.00,315.17 512.20,315.06 513.40,315.58 514.60,315.15 515.80,315.02 517.00,315.87 518.20,315.48 519.40,315.89 520.60,315.56 521.80,316.03 523.00,315.70 524.20,315.48" fill="none" stroke="#6a50a6" stroke-width="1.3" stroke-linejoin="round" stroke-linecap="round" />
<path d="M341.8 297.8h0M343.0 297.9h0M344.2 297.4h0M345.4 297.5h0M346.6 297.6h0M347.8 298.4h0M349.0 297.7h0M350.2 298.0h0M351.4 297.7h0M352.6 296.4h0M353.8 295.0h0M355.0 293.4h0M356.2 290.3h0M357.4 288.8h0M358.6 291.3h0M359.8 294.2h0M361.0 296.7h0M362.2 298.2h0M363.4 300.1h0M364.6 301.1h0M365.8 301.4h0M367.0 302.2h0M368.2 301.8h0M369.4 302.4h0M370.6 302.9h0M371.8 303.6h0M373.0 303.9h0M374.2 303.7h0M375.4 303.8h0M376.6 304.2h0M377.8 304.4h0M379.0 305.0h0M380.2 304.5h0M381.4 305.3h0M382.6 305.4h0M383.8 305.7h0M385.0 305.8h0M386.2 305.8h0M387.4 305.7h0M388.6 305.9h0M389.8 306.1h0M391.0 306.6h0M392.2 306.1h0M393.4 306.4h0M394.6 307.0h0M395.8 306.7h0M397.0 306.7h0M398.2 306.8h0M399.4 307.4h0M400.6 307.3h0M401.8 308.1h0M403.0 308.1h0M404.2 308.3h0M405.4 307.8h0M406.6 307.8h0M407.8 307.9h0M409.0 308.4h0M410.2 308.7h0M411.4 308.6h0M412.6 308.5h0M413.8 308.8h0M415.0 309.1h0M416.2 309.3h0M417.4 309.5h0M418.6 309.7h0M419.8 309.6h0M421.0 309.3h0M422.2 310.0h0M423.4 309.6h0M424.6 310.0h0M425.8 309.9h0M427.0 310.4h0M428.2 310.0h0M429.4 310.2h0M430.6 310.3h0M431.8 310.3h0M433.0 311.1h0M434.2 310.9h0M435.4 310.8h0M436.6 310.9h0M437.8 311.6h0M439.0 311.3h0M440.2 311.1h0M441.4 311.7h0M442.6 311.7h0M443.8 312.1h0M445.0 311.4h0M446.2 311.8h0M447.4 312.2h0M448.6 312.3h0M449.8 312.5h0M451.0 311.8h0M452.2 312.1h0M453.4 312.0h0M454.6 312.2h0M455.8 313.0h0M457.0 312.7h0M458.2 313.1h0M459.4 312.7h0M460.6 313.2h0M461.8 312.9h0M463.0 312.8h0M464.2 313.3h0M465.4 313.6h0M466.6 312.9h0M467.8 313.4h0M469.0 313.5h0M470.2 313.2h0M471.4 313.4h0M472.6 313.3h0M473.8 313.4h0M475.0 313.5h0M476.2 313.9h0M477.4 314.0h0M478.6 313.6h0M479.8 313.5h0M481.0 313.9h0M482.2 314.3h0M483.4 313.9h0M484.6 314.1h0M485.8 314.0h0M487.0 314.6h0M488.2 314.4h0M489.4 314.1h0M490.6 314.1h0M491.8 314.5h0M493.0 314.7h0M494.2 314.8h0M495.4 314.3h0M496.6 314.5h0M497.8 315.0h0M499.0 314.8h0M500.2 314.7h0M501.4 314.8h0M502.6 315.4h0M503.8 314.9h0M505.0 315.1h0M506.2 315.0h0M507.4 315.1h0M508.6 315.5h0M509.8 315.7h0M511.0 315.2h0M512.2 315.1h0M513.4 315.6h0M514.6 315.2h0M515.8 315.0h0M517.0 315.9h0M518.2 315.5h0M519.4 315.9h0M520.6 315.6h0M521.8 316.0h0M523.0 315.7h0M524.2 315.5h0" stroke="#6a50a6" stroke-width="4.6" stroke-linecap="round" fill="none"/>
<polyline points="341.80,289.39 343.00,289.07 344.20,289.08 345.40,288.91 346.60,288.92 347.80,288.81 349.00,288.11 350.20,286.92 351.40,285.53 352.60,283.41 353.80,279.62 355.00,273.78 356.20,266.20 357.40,262.93 358.60,268.38 359.80,275.09 361.00,281.03 362.20,284.68 363.40,287.11 364.60,287.98 365.80,289.03 367.00,289.72 368.20,290.39 369.40,290.84 370.60,291.63 371.80,291.80 373.00,292.05 374.20,291.47 375.40,291.64 376.60,292.40 377.80,292.69 379.00,292.42 380.20,292.62 381.40,292.17 382.60,292.60 383.80,293.14 385.00,293.10 386.20,293.17 387.40,293.31 388.60,292.69 389.80,292.59 391.00,292.65 392.20,293.00 393.40,293.15 394.60,293.39 395.80,293.20 397.00,293.14 398.20,293.24 399.40,292.96 400.60,293.05 401.80,292.58 403.00,293.25 404.20,292.75 405.40,293.36 406.60,293.11 407.80,292.79 409.00,292.63 410.20,292.73 411.40,293.06 412.60,293.10 413.80,292.55 415.00,292.47 416.20,292.81 417.40,292.76 418.60,292.41 419.80,291.99 421.00,291.91 422.20,290.82 423.40,290.63 424.60,290.85 425.80,291.89 427.00,292.31 428.20,293.09 429.40,293.13 430.60,293.22 431.80,293.47 433.00,294.30 434.20,294.24 435.40,294.03 436.60,293.91 437.80,294.46 439.00,294.74 440.20,294.63 441.40,294.60 442.60,295.08 443.80,295.43 445.00,294.91 446.20,294.85 447.40,295.23 448.60,295.41 449.80,295.76 451.00,295.43 452.20,296.08 453.40,296.13 454.60,296.03 455.80,295.86 457.00,296.66 458.20,296.17 459.40,296.73 460.60,296.30 461.80,296.39 463.00,296.98 464.20,296.66 465.40,297.34 466.60,297.03 467.80,296.85 469.00,296.97 470.20,297.23 471.40,297.55 472.60,297.89 473.80,297.25 475.00,297.55 476.20,297.47 477.40,298.23 478.60,297.56 479.80,297.55 481.00,297.62 482.20,297.98 483.40,298.50 484.60,298.55 485.80,298.46 487.00,298.76 488.20,298.75 489.40,298.25 490.60,298.17 491.80,298.88 493.00,298.75 494.20,298.14 495.40,298.74 496.60,298.51 497.80,298.53 499.00,298.50 500.20,298.36 501.40,298.20 502.60,298.41 503.80,298.39 505.00,298.78 506.20,297.79 507.40,298.32 508.60,297.67 509.80,298.10 511.00,298.82 512.20,299.03 513.40,298.83 514.60,298.59 515.80,299.05 517.00,299.03 518.20,299.58 519.40,298.98 520.60,299.18 521.80,299.71 523.00,298.97 524.20,299.36" fill="none" stroke="#7c7cc6" stroke-width="1.3" stroke-linejoin="round" stroke-linecap="round" />
<path d="M341.8 289.4h0M343.0 289.1h0M344.2 289.1h0M345.4 288.9h0M346.6 288.9h0M347.8 288.8h0M349.0 288.1h0M350.2 286.9h0M351.4 285.5h0M352.6 283.4h0M353.8 279.6h0M355.0 273.8h0M356.2 266.2h0M357.4 262.9h0M358.6 268.4h0M359.8 275.1h0M361.0 281.0h0M362.2 284.7h0M363.4 287.1h0M364.6 288.0h0M365.8 289.0h0M367.0 289.7h0M368.2 290.4h0M369.4 290.8h0M370.6 291.6h0M371.8 291.8h0M373.0 292.0h0M374.2 291.5h0M375.4 291.6h0M376.6 292.4h0M377.8 292.7h0M379.0 292.4h0M380.2 292.6h0M381.4 292.2h0M382.6 292.6h0M383.8 293.1h0M385.0 293.1h0M386.2 293.2h0M387.4 293.3h0M388.6 292.7h0M389.8 292.6h0M391.0 292.7h0M392.2 293.0h0M393.4 293.2h0M394.6 293.4h0M395.8 293.2h0M397.0 293.1h0M398.2 293.2h0M399.4 293.0h0M400.6 293.0h0M401.8 292.6h0M403.0 293.2h0M404.2 292.7h0M405.4 293.4h0M406.6 293.1h0M407.8 292.8h0M409.0 292.6h0M410.2 292.7h0M411.4 293.1h0M412.6 293.1h0M413.8 292.5h0M415.0 292.5h0M416.2 292.8h0M417.4 292.8h0M418.6 292.4h0M419.8 292.0h0M421.0 291.9h0M422.2 290.8h0M423.4 290.6h0M424.6 290.8h0M425.8 291.9h0M427.0 292.3h0M428.2 293.1h0M429.4 293.1h0M430.6 293.2h0M431.8 293.5h0M433.0 294.3h0M434.2 294.2h0M435.4 294.0h0M436.6 293.9h0M437.8 294.5h0M439.0 294.7h0M440.2 294.6h0M441.4 294.6h0M442.6 295.1h0M443.8 295.4h0M445.0 294.9h0M446.2 294.8h0M447.4 295.2h0M448.6 295.4h0M449.8 295.8h0M451.0 295.4h0M452.2 296.1h0M453.4 296.1h0M454.6 296.0h0M455.8 295.9h0M457.0 296.7h0M458.2 296.2h0M459.4 296.7h0M460.6 296.3h0M461.8 296.4h0M463.0 297.0h0M464.2 296.7h0M465.4 297.3h0M466.6 297.0h0M467.8 296.8h0M469.0 297.0h0M470.2 297.2h0M471.4 297.5h0M472.6 297.9h0M473.8 297.2h0M475.0 297.6h0M476.2 297.5h0M477.4 298.2h0M478.6 297.6h0M479.8 297.5h0M481.0 297.6h0M482.2 298.0h0M483.4 298.5h0M484.6 298.5h0M485.8 298.5h0M487.0 298.8h0M488.2 298.7h0M489.4 298.3h0M490.6 298.2h0M491.8 298.9h0M493.0 298.7h0M494.2 298.1h0M495.4 298.7h0M496.6 298.5h0M497.8 298.5h0M499.0 298.5h0M500.2 298.4h0M501.4 298.2h0M502.6 298.4h0M503.8 298.4h0M505.0 298.8h0M506.2 297.8h0M507.4 298.3h0M508.6 297.7h0M509.8 298.1h0M511.0 298.8h0M512.2 299.0h0M513.4 298.8h0M514.6 298.6h0M515.8 299.1h0M517.0 299.0h0M518.2 299.6h0M519.4 299.0h0M520.6 299.2h0M521.8 299.7h0M523.0 299.0h0M524.2 299.4h0" stroke="#7c7cc6" stroke-width="4.6" stroke-linecap="round" fill="none"/>
<text x="433.10" y="37.00" font-size="13.4" text-anchor="middle" fill="#23476b" stroke="#23476b" font-weight="bold" >Slow Addition</text>
<line x1="429.7" y1="53.4" x2="429.7" y2="90.6" stroke="#223f35" stroke-width="2.9"/>
<path transform="translate(429.7,44.4)" d="M0,0 Q-3.2,7.6 -8.7,14 Q-3.5,11 0,11 Q3.5,11 8.7,14 Q3.2,7.6 0,0 Z" fill="#223f35"/>
<text x="446.30" y="52.50" font-size="10.6" text-anchor="start" fill="#4a1650" stroke="#4a1650" font-weight="bold" >1.5 equiv</text>
<text x="446.30" y="65.40" font-size="10.6" text-anchor="start" fill="#6c4595" stroke="#6c4595" font-weight="bold" >0.8 equiv</text>
<text x="446.30" y="78.20" font-size="10.6" text-anchor="start" fill="#6a50a6" stroke="#6a50a6" font-weight="bold" >0.5 equiv</text>
<text x="446.30" y="91.10" font-size="10.6" text-anchor="start" fill="#7c7cc6" stroke="#7c7cc6" font-weight="bold" >Initial Colloids</text>
<text x="432.00" y="210.50" font-size="13.4" text-anchor="middle" fill="#bb1626" stroke="#bb1626" font-weight="bold" >Fast Addition</text>
<line x1="429.5" y1="221.3" x2="429.5" y2="255.3" stroke="#bb1626" stroke-width="2.9"/>
<path transform="translate(429.5,264.3) rotate(180)" d="M0,0 Q-3.2,7.6 -8.7,14 Q-3.5,11 0,11 Q3.5,11 8.7,14 Q3.2,7.6 0,0 Z" fill="#bb1626"/>
<text x="446.30" y="226.30" font-size="10.6" text-anchor="start" fill="#7c7cc6" stroke="#7c7cc6" font-weight="bold" >Initial Colloids</text>
<text x="446.30" y="239.20" font-size="10.6" text-anchor="start" fill="#6a50a6" stroke="#6a50a6" font-weight="bold" >0.5 equiv</text>
<text x="446.30" y="252.10" font-size="10.6" text-anchor="start" fill="#6c4595" stroke="#6c4595" font-weight="bold" >0.8 equiv</text>
<text x="446.30" y="265.00" font-size="10.6" text-anchor="start" fill="#4a1650" stroke="#4a1650" font-weight="bold" >1.5 equiv</text>
<rect x="83.50" y="394.30" width="114.20" height="144.00" fill="none" stroke="#161616" stroke-width="1.3"/>
<line x1="78.00" y1="535.30" x2="83.50" y2="535.30" stroke="#161616" stroke-width="1.2"/>
<text transform="translate(76.20,539.00) scale(0.88,1)" font-size="10.8" text-anchor="end" fill="#161616" stroke="#161616" font-weight="bold" >0.0</text>
<line x1="80.20" y1="522.79" x2="83.50" y2="522.79" stroke="#161616" stroke-width="1.2"/>
<line x1="78.00" y1="510.28" x2="83.50" y2="510.28" stroke="#161616" stroke-width="1.2"/>
<text transform="translate(76.20,513.98) scale(0.88,1)" font-size="10.8" text-anchor="end" fill="#161616" stroke="#161616" font-weight="bold" >0.2</text>
<line x1="80.20" y1="497.77" x2="83.50" y2="497.77" stroke="#161616" stroke-width="1.2"/>
<line x1="78.00" y1="485.26" x2="83.50" y2="485.26" stroke="#161616" stroke-width="1.2"/>
<text transform="translate(76.20,488.96) scale(0.88,1)" font-size="10.8" text-anchor="end" fill="#161616" stroke="#161616" font-weight="bold" >0.4</text>
<line x1="80.20" y1="472.75" x2="83.50" y2="472.75" stroke="#161616" stroke-width="1.2"/>
<line x1="78.00" y1="460.24" x2="83.50" y2="460.24" stroke="#161616" stroke-width="1.2"/>
<text transform="translate(76.20,463.94) scale(0.88,1)" font-size="10.8" text-anchor="end" fill="#161616" stroke="#161616" font-weight="bold" >0.6</text>
<line x1="80.20" y1="447.73" x2="83.50" y2="447.73" stroke="#161616" stroke-width="1.2"/>
<line x1="78.00" y1="435.22" x2="83.50" y2="435.22" stroke="#161616" stroke-width="1.2"/>
<text transform="translate(76.20,438.92) scale(0.88,1)" font-size="10.8" text-anchor="end" fill="#161616" stroke="#161616" font-weight="bold" >0.8</text>
<line x1="80.20" y1="422.71" x2="83.50" y2="422.71" stroke="#161616" stroke-width="1.2"/>
<line x1="78.00" y1="410.20" x2="83.50" y2="410.20" stroke="#161616" stroke-width="1.2"/>
<text transform="translate(76.20,413.90) scale(0.88,1)" font-size="10.8" text-anchor="end" fill="#161616" stroke="#161616" font-weight="bold" >1.0</text>
<line x1="80.20" y1="397.69" x2="83.50" y2="397.69" stroke="#161616" stroke-width="1.2"/>
<line x1="86.00" y1="538.30" x2="86.00" y2="542.80" stroke="#161616" stroke-width="1.2"/>
<text transform="translate(86.00,554.60) scale(0.9,1)" font-size="10.4" text-anchor="middle" fill="#161616" stroke="#161616" font-weight="bold" >10</text>
<line x1="101.26" y1="538.30" x2="101.26" y2="541.30" stroke="#161616" stroke-width="1.2"/>
<text x="101.26" y="547.00" font-size="7" text-anchor="middle" fill="#161616" stroke="#161616" font-weight="bold" >2</text>
<line x1="110.19" y1="538.30" x2="110.19" y2="541.30" stroke="#161616" stroke-width="1.2"/>
<line x1="116.52" y1="538.30" x2="116.52" y2="541.30" stroke="#161616" stroke-width="1.2"/>
<text x="116.52" y="547.00" font-size="7" text-anchor="middle" fill="#161616" stroke="#161616" font-weight="bold" >4</text>
<line x1="121.44" y1="538.30" x2="121.44" y2="541.30" stroke="#161616" stroke-width="1.2"/>
<line x1="125.45" y1="538.30" x2="125.45" y2="541.30" stroke="#161616" stroke-width="1.2"/>
<text x="125.45" y="547.00" font-size="7" text-anchor="middle" fill="#161616" stroke="#161616" font-weight="bold" >6</text>
<line x1="128.85" y1="538.30" x2="128.85" y2="541.30" stroke="#161616" stroke-width="1.2"/>
<line x1="131.79" y1="538.30" x2="131.79" y2="541.30" stroke="#161616" stroke-width="1.2"/>
<line x1="134.38" y1="538.30" x2="134.38" y2="541.30" stroke="#161616" stroke-width="1.2"/>
<line x1="136.70" y1="538.30" x2="136.70" y2="542.80" stroke="#161616" stroke-width="1.2"/>
<text transform="translate(136.70,554.60) scale(0.9,1)" font-size="10.4" text-anchor="middle" fill="#161616" stroke="#161616" font-weight="bold" >100</text>
<line x1="151.96" y1="538.30" x2="151.96" y2="541.30" stroke="#161616" stroke-width="1.2"/>
<text x="151.96" y="547.00" font-size="7" text-anchor="middle" fill="#161616" stroke="#161616" font-weight="bold" >2</text>
<line x1="160.89" y1="538.30" x2="160.89" y2="541.30" stroke="#161616" stroke-width="1.2"/>
<line x1="167.22" y1="538.30" x2="167.22" y2="541.30" stroke="#161616" stroke-width="1.2"/>
<text x="167.22" y="547.00" font-size="7" text-anchor="middle" fill="#161616" stroke="#161616" font-weight="bold" >4</text>
<line x1="172.14" y1="538.30" x2="172.14" y2="541.30" stroke="#161616" stroke-width="1.2"/>
<line x1="176.15" y1="538.30" x2="176.15" y2="541.30" stroke="#161616" stroke-width="1.2"/>
<text x="176.15" y="547.00" font-size="7" text-anchor="middle" fill="#161616" stroke="#161616" font-weight="bold" >6</text>
<line x1="179.55" y1="538.30" x2="179.55" y2="541.30" stroke="#161616" stroke-width="1.2"/>
<line x1="182.49" y1="538.30" x2="182.49" y2="541.30" stroke="#161616" stroke-width="1.2"/>
<line x1="185.08" y1="538.30" x2="185.08" y2="541.30" stroke="#161616" stroke-width="1.2"/>
<line x1="187.40" y1="538.30" x2="187.40" y2="542.80" stroke="#161616" stroke-width="1.2"/>
<text transform="translate(187.40,554.60) scale(0.9,1)" font-size="10.4" text-anchor="middle" fill="#161616" stroke="#161616" font-weight="bold" >1000</text>
<text x="137.10" y="569.20" font-size="12.2" text-anchor="middle" fill="#161616" stroke="#161616" font-weight="bold" >size (nm)</text>
<text x="140.90" y="406.20" font-size="12.1" text-anchor="middle" fill="#161616" stroke="#161616" font-weight="bold" >0.25 equiv</text>
<polyline points="86.00,535.30 91.07,535.30 96.14,535.30 101.21,535.30 106.28,535.30 111.35,535.30 116.42,535.30 121.49,535.30 126.56,535.30 131.63,535.30 136.70,535.30 141.77,535.30 146.84,535.30 147.40,535.30 150.60,521.04 154.00,481.51 157.60,437.72 164.00,410.20 166.80,425.21 170.40,450.23 173.50,476.50 176.70,497.77 179.90,514.03 183.10,526.54 186.60,532.80 189.60,535.30" fill="none" stroke="#19345a" stroke-width="1.2" stroke-linejoin="round" stroke-linecap="round" />
<path d="M86.00,533.30L88.00,535.30L86.00,537.30L84.00,535.30Z" fill="#19345a"/>
<path d="M91.07,533.30L93.07,535.30L91.07,537.30L89.07,535.30Z" fill="#19345a"/>
<path d="M96.14,533.30L98.14,535.30L96.14,537.30L94.14,535.30Z" fill="#19345a"/>
<path d="M101.21,533.30L103.21,535.30L101.21,537.30L99.21,535.30Z" fill="#19345a"/>
<path d="M106.28,533.30L108.28,535.30L106.28,537.30L104.28,535.30Z" fill="#19345a"/>
<path d="M111.35,533.30L113.35,535.30L111.35,537.30L109.35,535.30Z" fill="#19345a"/>
<path d="M116.42,533.30L118.42,535.30L116.42,537.30L114.42,535.30Z" fill="#19345a"/>
<path d="M121.49,533.30L123.49,535.30L121.49,537.30L119.49,535.30Z" fill="#19345a"/>
<path d="M126.56,533.30L128.56,535.30L126.56,537.30L124.56,535.30Z" fill="#19345a"/>
<path d="M131.63,533.30L133.63,535.30L131.63,537.30L129.63,535.30Z" fill="#19345a"/>
<path d="M136.70,533.30L138.70,535.30L136.70,537.30L134.70,535.30Z" fill="#19345a"/>
<path d="M141.77,533.30L143.77,535.30L141.77,537.30L139.77,535.30Z" fill="#19345a"/>
<path d="M146.84,533.30L148.84,535.30L146.84,537.30L144.84,535.30Z" fill="#19345a"/>
<path d="M147.40,533.30L149.40,535.30L147.40,537.30L145.40,535.30Z" fill="#19345a"/>
<path d="M150.60,519.04L152.60,521.04L150.60,523.04L148.60,521.04Z" fill="#19345a"/>
<path d="M154.00,479.51L156.00,481.51L154.00,483.51L152.00,481.51Z" fill="#19345a"/>
<path d="M157.60,435.72L159.60,437.72L157.60,439.72L155.60,437.72Z" fill="#19345a"/>
<path d="M164.00,408.20L166.00,410.20L164.00,412.20L162.00,410.20Z" fill="#19345a"/>
<path d="M166.80,423.21L168.80,425.21L166.80,427.21L164.80,425.21Z" fill="#19345a"/>
<path d="M170.40,448.23L172.40,450.23L170.40,452.23L168.40,450.23Z" fill="#19345a"/>
<path d="M173.50,474.50L175.50,476.50L173.50,478.50L171.50,476.50Z" fill="#19345a"/>
<path d="M176.70,495.77L178.70,497.77L176.70,499.77L174.70,497.77Z" fill="#19345a"/>
<path d="M179.90,512.03L181.90,514.03L179.90,516.03L177.90,514.03Z" fill="#19345a"/>
<path d="M183.10,524.54L185.10,526.54L183.10,528.54L181.10,526.54Z" fill="#19345a"/>
<path d="M186.60,530.80L188.60,532.80L186.60,534.80L184.60,532.80Z" fill="#19345a"/>
<path d="M189.60,533.30L191.60,535.30L189.60,537.30L187.60,535.30Z" fill="#19345a"/>
<polyline points="86.00,535.30 91.07,535.30 96.14,535.30 101.21,535.30 106.28,535.30 111.35,535.30 116.42,535.30 121.49,535.30 126.56,535.30 131.63,535.30 136.70,535.30 141.77,535.30 144.80,535.30 147.40,528.04 150.60,497.77 154.00,451.48 156.60,417.71 160.40,410.20 163.60,420.83 166.80,443.35 170.10,471.50 173.20,495.27 176.50,514.03 179.60,525.29 183.10,532.30 186.30,535.30 191.00,535.30" fill="none" stroke="#bb1626" stroke-width="1.2" stroke-linejoin="round" stroke-linecap="round" />
<path d="M86.00,533.30L88.00,535.30L86.00,537.30L84.00,535.30Z" fill="#bb1626"/>
<path d="M91.07,533.30L93.07,535.30L91.07,537.30L89.07,535.30Z" fill="#bb1626"/>
<path d="M96.14,533.30L98.14,535.30L96.14,537.30L94.14,535.30Z" fill="#bb1626"/>
<path d="M101.21,533.30L103.21,535.30L101.21,537.30L99.21,535.30Z" fill="#bb1626"/>
<path d="M106.28,533.30L108.28,535.30L106.28,537.30L104.28,535.30Z" fill="#bb1626"/>
<path d="M111.35,533.30L113.35,535.30L111.35,537.30L109.35,535.30Z" fill="#bb1626"/>
<path d="M116.42,533.30L118.42,535.30L116.42,537.30L114.42,535.30Z" fill="#bb1626"/>
<path d="M121.49,533.30L123.49,535.30L121.49,537.30L119.49,535.30Z" fill="#bb1626"/>
<path d="M126.56,533.30L128.56,535.30L126.56,537.30L124.56,535.30Z" fill="#bb1626"/>
<path d="M131.63,533.30L133.63,535.30L131.63,537.30L129.63,535.30Z" fill="#bb1626"/>
<path d="M136.70,533.30L138.70,535.30L136.70,537.30L134.70,535.30Z" fill="#bb1626"/>
<path d="M141.77,533.30L143.77,535.30L141.77,537.30L139.77,535.30Z" fill="#bb1626"/>
<path d="M144.80,533.30L146.80,535.30L144.80,537.30L142.80,535.30Z" fill="#bb1626"/>
<path d="M147.40,526.04L149.40,528.04L147.40,530.04L145.40,528.04Z" fill="#bb1626"/>
<path d="M150.60,495.77L152.60,497.77L150.60,499.77L148.60,497.77Z" fill="#bb1626"/>
<path d="M154.00,449.48L156.00,451.48L154.00,453.48L152.00,451.48Z" fill="#bb1626"/>
<path d="M156.60,415.71L158.60,417.71L156.60,419.71L154.60,417.71Z" fill="#bb1626"/>
<path d="M160.40,408.20L162.40,410.20L160.40,412.20L158.40,410.20Z" fill="#bb1626"/>
<path d="M163.60,418.83L165.60,420.83L163.60,422.83L161.60,420.83Z" fill="#bb1626"/>
<path d="M166.80,441.35L168.80,443.35L166.80,445.35L164.80,443.35Z" fill="#bb1626"/>
<path d="M170.10,469.50L172.10,471.50L170.10,473.50L168.10,471.50Z" fill="#bb1626"/>
<path d="M173.20,493.27L175.20,495.27L173.20,497.27L171.20,495.27Z" fill="#bb1626"/>
<path d="M176.50,512.03L178.50,514.03L176.50,516.03L174.50,514.03Z" fill="#bb1626"/>
<path d="M179.60,523.29L181.60,525.29L179.60,527.29L177.60,525.29Z" fill="#bb1626"/>
<path d="M183.10,530.30L185.10,532.30L183.10,534.30L181.10,532.30Z" fill="#bb1626"/>
<path d="M186.30,533.30L188.30,535.30L186.30,537.30L184.30,535.30Z" fill="#bb1626"/>
<path d="M191.00,533.30L193.00,535.30L191.00,537.30L189.00,535.30Z" fill="#bb1626"/>
<rect x="248.00" y="394.30" width="115.90" height="144.00" fill="none" stroke="#161616" stroke-width="1.3"/>
<line x1="242.50" y1="534.50" x2="248.00" y2="534.50" stroke="#161616" stroke-width="1.2"/>
<text transform="translate(240.70,538.20) scale(0.88,1)" font-size="10.8" text-anchor="end" fill="#161616" stroke="#161616" font-weight="bold" >0.0</text>
<line x1="244.70" y1="521.99" x2="248.00" y2="521.99" stroke="#161616" stroke-width="1.2"/>
<line x1="242.50" y1="509.48" x2="248.00" y2="509.48" stroke="#161616" stroke-width="1.2"/>
<text transform="translate(240.70,513.18) scale(0.88,1)" font-size="10.8" text-anchor="end" fill="#161616" stroke="#161616" font-weight="bold" >0.2</text>
<line x1="244.70" y1="496.97" x2="248.00" y2="496.97" stroke="#161616" stroke-width="1.2"/>
<line x1="242.50" y1="484.46" x2="248.00" y2="484.46" stroke="#161616" stroke-width="1.2"/>
<text transform="translate(240.70,488.16) scale(0.88,1)" font-size="10.8" text-anchor="end" fill="#161616" stroke="#161616" font-weight="bold" >0.4</text>
<line x1="244.70" y1="471.95" x2="248.00" y2="471.95" stroke="#161616" stroke-width="1.2"/>
<line x1="242.50" y1="459.44" x2="248.00" y2="459.44" stroke="#161616" stroke-width="1.2"/>
<text transform="translate(240.70,463.14) scale(0.88,1)" font-size="10.8" text-anchor="end" fill="#161616" stroke="#161616" font-weight="bold" >0.6</text>
<line x1="244.70" y1="446.93" x2="248.00" y2="446.93" stroke="#161616" stroke-width="1.2"/>
<line x1="242.50" y1="434.42" x2="248.00" y2="434.42" stroke="#161616" stroke-width="1.2"/>
<text transform="translate(240.70,438.12) scale(0.88,1)" font-size="10.8" text-anchor="end" fill="#161616" stroke="#161616" font-weight="bold" >0.8</text>
<line x1="244.70" y1="421.91" x2="248.00" y2="421.91" stroke="#161616" stroke-width="1.2"/>
<line x1="242.50" y1="409.40" x2="248.00" y2="409.40" stroke="#161616" stroke-width="1.2"/>
<text transform="translate(240.70,413.10) scale(0.88,1)" font-size="10.8" text-anchor="end" fill="#161616" stroke="#161616" font-weight="bold" >1.0</text>
<line x1="244.70" y1="396.89" x2="248.00" y2="396.89" stroke="#161616" stroke-width="1.2"/>
<line x1="250.50" y1="538.30" x2="250.50" y2="542.80" stroke="#161616" stroke-width="1.2"/>
<text transform="translate(250.50,554.60) scale(0.9,1)" font-size="10.4" text-anchor="middle" fill="#161616" stroke="#161616" font-weight="bold" >10</text>
<line x1="265.76" y1="538.30" x2="265.76" y2="541.30" stroke="#161616" stroke-width="1.2"/>
<text x="265.76" y="547.00" font-size="7" text-anchor="middle" fill="#161616" stroke="#161616" font-weight="bold" >2</text>
<line x1="274.69" y1="538.30" x2="274.69" y2="541.30" stroke="#161616" stroke-width="1.2"/>
<line x1="281.02" y1="538.30" x2="281.02" y2="541.30" stroke="#161616" stroke-width="1.2"/>
<text x="281.02" y="547.00" font-size="7" text-anchor="middle" fill="#161616" stroke="#161616" font-weight="bold" >4</text>
<line x1="285.94" y1="538.30" x2="285.94" y2="541.30" stroke="#161616" stroke-width="1.2"/>
<line x1="289.95" y1="538.30" x2="289.95" y2="541.30" stroke="#161616" stroke-width="1.2"/>
<text x="289.95" y="547.00" font-size="7" text-anchor="middle" fill="#161616" stroke="#161616" font-weight="bold" >6</text>
<line x1="293.35" y1="538.30" x2="293.35" y2="541.30" stroke="#161616" stroke-width="1.2"/>
<line x1="296.29" y1="538.30" x2="296.29" y2="541.30" stroke="#161616" stroke-width="1.2"/>
<line x1="298.88" y1="538.30" x2="298.88" y2="541.30" stroke="#161616" stroke-width="1.2"/>
<line x1="301.20" y1="538.30" x2="301.20" y2="542.80" stroke="#161616" stroke-width="1.2"/>
<text transform="translate(301.20,554.60) scale(0.9,1)" font-size="10.4" text-anchor="middle" fill="#161616" stroke="#161616" font-weight="bold" >100</text>
<line x1="316.46" y1="538.30" x2="316.46" y2="541.30" stroke="#161616" stroke-width="1.2"/>
<text x="316.46" y="547.00" font-size="7" text-anchor="middle" fill="#161616" stroke="#161616" font-weight="bold" >2</text>
<line x1="325.39" y1="538.30" x2="325.39" y2="541.30" stroke="#161616" stroke-width="1.2"/>
<line x1="331.72" y1="538.30" x2="331.72" y2="541.30" stroke="#161616" stroke-width="1.2"/>
<text x="331.72" y="547.00" font-size="7" text-anchor="middle" fill="#161616" stroke="#161616" font-weight="bold" >4</text>
<line x1="336.64" y1="538.30" x2="336.64" y2="541.30" stroke="#161616" stroke-width="1.2"/>
<line x1="340.65" y1="538.30" x2="340.65" y2="541.30" stroke="#161616" stroke-width="1.2"/>
<text x="340.65" y="547.00" font-size="7" text-anchor="middle" fill="#161616" stroke="#161616" font-weight="bold" >6</text>
<line x1="344.05" y1="538.30" x2="344.05" y2="541.30" stroke="#161616" stroke-width="1.2"/>
<line x1="346.99" y1="538.30" x2="346.99" y2="541.30" stroke="#161616" stroke-width="1.2"/>
<line x1="349.58" y1="538.30" x2="349.58" y2="541.30" stroke="#161616" stroke-width="1.2"/>
<line x1="351.90" y1="538.30" x2="351.90" y2="542.80" stroke="#161616" stroke-width="1.2"/>
<text transform="translate(351.90,554.60) scale(0.9,1)" font-size="10.4" text-anchor="middle" fill="#161616" stroke="#161616" font-weight="bold" >1000</text>
<text x="302.45" y="569.20" font-size="12.2" text-anchor="middle" fill="#161616" stroke="#161616" font-weight="bold" >size (nm)</text>
<text x="306.25" y="406.20" font-size="12.1" text-anchor="middle" fill="#161616" stroke="#161616" font-weight="bold" >0.80 equiv</text>
<polyline points="289.10,534.50 292.50,511.98 296.20,451.31 299.40,409.40 302.40,428.79 306.00,474.45 308.70,508.85 311.90,524.12 316.00,526.99 319.50,525.12 323.00,523.24 326.50,521.74 330.00,521.36 333.50,521.99 337.00,523.87 340.50,526.37 344.00,528.25 347.50,530.50 351.00,532.62 354.00,534.50 357.00,534.50" fill="none" stroke="#bb1626" stroke-width="1.2" stroke-linejoin="round" stroke-linecap="round" />
<path d="M289.10,532.50L291.10,534.50L289.10,536.50L287.10,534.50Z" fill="#bb1626"/>
<path d="M292.50,509.98L294.50,511.98L292.50,513.98L290.50,511.98Z" fill="#bb1626"/>
<path d="M296.20,449.31L298.20,451.31L296.20,453.31L294.20,451.31Z" fill="#bb1626"/>
<path d="M299.40,407.40L301.40,409.40L299.40,411.40L297.40,409.40Z" fill="#bb1626"/>
<path d="M302.40,426.79L304.40,428.79L302.40,430.79L300.40,428.79Z" fill="#bb1626"/>
<path d="M306.00,472.45L308.00,474.45L306.00,476.45L304.00,474.45Z" fill="#bb1626"/>
<path d="M308.70,506.85L310.70,508.85L308.70,510.85L306.70,508.85Z" fill="#bb1626"/>
<path d="M311.90,522.12L313.90,524.12L311.90,526.12L309.90,524.12Z" fill="#bb1626"/>
<path d="M316.00,524.99L318.00,526.99L316.00,528.99L314.00,526.99Z" fill="#bb1626"/>
<path d="M319.50,523.12L321.50,525.12L319.50,527.12L317.50,525.12Z" fill="#bb1626"/>
<path d="M323.00,521.24L325.00,523.24L323.00,525.24L321.00,523.24Z" fill="#bb1626"/>
<path d="M326.50,519.74L328.50,521.74L326.50,523.74L324.50,521.74Z" fill="#bb1626"/>
<path d="M330.00,519.36L332.00,521.36L330.00,523.36L328.00,521.36Z" fill="#bb1626"/>
<path d="M333.50,519.99L335.50,521.99L333.50,523.99L331.50,521.99Z" fill="#bb1626"/>
<path d="M337.00,521.87L339.00,523.87L337.00,525.87L335.00,523.87Z" fill="#bb1626"/>
<path d="M340.50,524.37L342.50,526.37L340.50,528.37L338.50,526.37Z" fill="#bb1626"/>
<path d="M344.00,526.25L346.00,528.25L344.00,530.25L342.00,528.25Z" fill="#bb1626"/>
<path d="M347.50,528.50L349.50,530.50L347.50,532.50L345.50,530.50Z" fill="#bb1626"/>
<path d="M351.00,530.62L353.00,532.62L351.00,534.62L349.00,532.62Z" fill="#bb1626"/>
<path d="M354.00,532.50L356.00,534.50L354.00,536.50L352.00,534.50Z" fill="#bb1626"/>
<path d="M357.00,532.50L359.00,534.50L357.00,536.50L355.00,534.50Z" fill="#bb1626"/>
<polyline points="250.50,534.50 255.57,534.50 260.64,534.50 265.71,534.50 270.78,534.50 275.85,534.50 280.92,534.50 285.99,534.50 291.06,534.50 296.13,534.50 301.20,534.50 306.27,534.50 311.34,534.50 313.30,534.50 315.60,523.49 318.80,488.21 321.60,445.68 324.80,419.41 328.40,409.40 331.90,416.91 335.50,435.05 338.30,457.56 341.60,478.83 344.50,495.72 348.00,513.23 351.00,527.62 353.00,534.50 357.00,534.50 361.00,534.50" fill="none" stroke="#19345a" stroke-width="1.2" stroke-linejoin="round" stroke-linecap="round" />
<path d="M250.50,532.50L252.50,534.50L250.50,536.50L248.50,534.50Z" fill="#19345a"/>
<path d="M255.57,532.50L257.57,534.50L255.57,536.50L253.57,534.50Z" fill="#19345a"/>
<path d="M260.64,532.50L262.64,534.50L260.64,536.50L258.64,534.50Z" fill="#19345a"/>
<path d="M265.71,532.50L267.71,534.50L265.71,536.50L263.71,534.50Z" fill="#19345a"/>
<path d="M270.78,532.50L272.78,534.50L270.78,536.50L268.78,534.50Z" fill="#19345a"/>
<path d="M275.85,532.50L277.85,534.50L275.85,536.50L273.85,534.50Z" fill="#19345a"/>
<path d="M280.92,532.50L282.92,534.50L280.92,536.50L278.92,534.50Z" fill="#19345a"/>
<path d="M285.99,532.50L287.99,534.50L285.99,536.50L283.99,534.50Z" fill="#19345a"/>
<path d="M291.06,532.50L293.06,534.50L291.06,536.50L289.06,534.50Z" fill="#19345a"/>
<path d="M296.13,532.50L298.13,534.50L296.13,536.50L294.13,534.50Z" fill="#19345a"/>
<path d="M301.20,532.50L303.20,534.50L301.20,536.50L299.20,534.50Z" fill="#19345a"/>
<path d="M306.27,532.50L308.27,534.50L306.27,536.50L304.27,534.50Z" fill="#19345a"/>
<path d="M311.34,532.50L313.34,534.50L311.34,536.50L309.34,534.50Z" fill="#19345a"/>
<path d="M313.30,532.50L315.30,534.50L313.30,536.50L311.30,534.50Z" fill="#19345a"/>
<path d="M315.60,521.49L317.60,523.49L315.60,525.49L313.60,523.49Z" fill="#19345a"/>
<path d="M318.80,486.21L320.80,488.21L318.80,490.21L316.80,488.21Z" fill="#19345a"/>
<path d="M321.60,443.68L323.60,445.68L321.60,447.68L319.60,445.68Z" fill="#19345a"/>
<path d="M324.80,417.41L326.80,419.41L324.80,421.41L322.80,419.41Z" fill="#19345a"/>
<path d="M328.40,407.40L330.40,409.40L328.40,411.40L326.40,409.40Z" fill="#19345a"/>
<path d="M331.90,414.91L333.90,416.91L331.90,418.91L329.90,416.91Z" fill="#19345a"/>
<path d="M335.50,433.05L337.50,435.05L335.50,437.05L333.50,435.05Z" fill="#19345a"/>
<path d="M338.30,455.56L340.30,457.56L338.30,459.56L336.30,457.56Z" fill="#19345a"/>
<path d="M341.60,476.83L343.60,478.83L341.60,480.83L339.60,478.83Z" fill="#19345a"/>
<path d="M344.50,493.72L346.50,495.72L344.50,497.72L342.50,495.72Z" fill="#19345a"/>
<path d="M348.00,511.23L350.00,513.23L348.00,515.23L346.00,513.23Z" fill="#19345a"/>
<path d="M351.00,525.62L353.00,527.62L351.00,529.62L349.00,527.62Z" fill="#19345a"/>
<path d="M353.00,532.50L355.00,534.50L353.00,536.50L351.00,534.50Z" fill="#19345a"/>
<path d="M357.00,532.50L359.00,534.50L357.00,536.50L355.00,534.50Z" fill="#19345a"/>
<path d="M361.00,532.50L363.00,534.50L361.00,536.50L359.00,534.50Z" fill="#19345a"/>
<rect x="415.50" y="394.30" width="116.50" height="144.00" fill="none" stroke="#161616" stroke-width="1.3"/>
<line x1="410.00" y1="534.60" x2="415.50" y2="534.60" stroke="#161616" stroke-width="1.2"/>
<text transform="translate(408.20,538.30) scale(0.88,1)" font-size="10.8" text-anchor="end" fill="#161616" stroke="#161616" font-weight="bold" >0.0</text>
<line x1="412.20" y1="522.09" x2="415.50" y2="522.09" stroke="#161616" stroke-width="1.2"/>
<line x1="410.00" y1="509.58" x2="415.50" y2="509.58" stroke="#161616" stroke-width="1.2"/>
<text transform="translate(408.20,513.28) scale(0.88,1)" font-size="10.8" text-anchor="end" fill="#161616" stroke="#161616" font-weight="bold" >0.2</text>
<line x1="412.20" y1="497.07" x2="415.50" y2="497.07" stroke="#161616" stroke-width="1.2"/>
<line x1="410.00" y1="484.56" x2="415.50" y2="484.56" stroke="#161616" stroke-width="1.2"/>
<text transform="translate(408.20,488.26) scale(0.88,1)" font-size="10.8" text-anchor="end" fill="#161616" stroke="#161616" font-weight="bold" >0.4</text>
<line x1="412.20" y1="472.05" x2="415.50" y2="472.05" stroke="#161616" stroke-width="1.2"/>
<line x1="410.00" y1="459.54" x2="415.50" y2="459.54" stroke="#161616" stroke-width="1.2"/>
<text transform="translate(408.20,463.24) scale(0.88,1)" font-size="10.8" text-anchor="end" fill="#161616" stroke="#161616" font-weight="bold" >0.6</text>
<line x1="412.20" y1="447.03" x2="415.50" y2="447.03" stroke="#161616" stroke-width="1.2"/>
<line x1="410.00" y1="434.52" x2="415.50" y2="434.52" stroke="#161616" stroke-width="1.2"/>
<text transform="translate(408.20,438.22) scale(0.88,1)" font-size="10.8" text-anchor="end" fill="#161616" stroke="#161616" font-weight="bold" >0.8</text>
<line x1="412.20" y1="422.01" x2="415.50" y2="422.01" stroke="#161616" stroke-width="1.2"/>
<line x1="410.00" y1="409.50" x2="415.50" y2="409.50" stroke="#161616" stroke-width="1.2"/>
<text transform="translate(408.20,413.20) scale(0.88,1)" font-size="10.8" text-anchor="end" fill="#161616" stroke="#161616" font-weight="bold" >1.0</text>
<line x1="412.20" y1="396.99" x2="415.50" y2="396.99" stroke="#161616" stroke-width="1.2"/>
<line x1="418.00" y1="538.30" x2="418.00" y2="542.80" stroke="#161616" stroke-width="1.2"/>
<text transform="translate(418.00,554.60) scale(0.9,1)" font-size="10.4" text-anchor="middle" fill="#161616" stroke="#161616" font-weight="bold" >10</text>
<line x1="433.26" y1="538.30" x2="433.26" y2="541.30" stroke="#161616" stroke-width="1.2"/>
<text x="433.26" y="547.00" font-size="7" text-anchor="middle" fill="#161616" stroke="#161616" font-weight="bold" >2</text>
<line x1="442.19" y1="538.30" x2="442.19" y2="541.30" stroke="#161616" stroke-width="1.2"/>
<line x1="448.52" y1="538.30" x2="448.52" y2="541.30" stroke="#161616" stroke-width="1.2"/>
<text x="448.52" y="547.00" font-size="7" text-anchor="middle" fill="#161616" stroke="#161616" font-weight="bold" >4</text>
<line x1="453.44" y1="538.30" x2="453.44" y2="541.30" stroke="#161616" stroke-width="1.2"/>
<line x1="457.45" y1="538.30" x2="457.45" y2="541.30" stroke="#161616" stroke-width="1.2"/>
<text x="457.45" y="547.00" font-size="7" text-anchor="middle" fill="#161616" stroke="#161616" font-weight="bold" >6</text>
<line x1="460.85" y1="538.30" x2="460.85" y2="541.30" stroke="#161616" stroke-width="1.2"/>
<line x1="463.79" y1="538.30" x2="463.79" y2="541.30" stroke="#161616" stroke-width="1.2"/>
<line x1="466.38" y1="538.30" x2="466.38" y2="541.30" stroke="#161616" stroke-width="1.2"/>
<line x1="468.70" y1="538.30" x2="468.70" y2="542.80" stroke="#161616" stroke-width="1.2"/>
<text transform="translate(468.70,554.60) scale(0.9,1)" font-size="10.4" text-anchor="middle" fill="#161616" stroke="#161616" font-weight="bold" >100</text>
<line x1="483.96" y1="538.30" x2="483.96" y2="541.30" stroke="#161616" stroke-width="1.2"/>
<text x="483.96" y="547.00" font-size="7" text-anchor="middle" fill="#161616" stroke="#161616" font-weight="bold" >2</text>
<line x1="492.89" y1="538.30" x2="492.89" y2="541.30" stroke="#161616" stroke-width="1.2"/>
<line x1="499.22" y1="538.30" x2="499.22" y2="541.30" stroke="#161616" stroke-width="1.2"/>
<text x="499.22" y="547.00" font-size="7" text-anchor="middle" fill="#161616" stroke="#161616" font-weight="bold" >4</text>
<line x1="504.14" y1="538.30" x2="504.14" y2="541.30" stroke="#161616" stroke-width="1.2"/>
<line x1="508.15" y1="538.30" x2="508.15" y2="541.30" stroke="#161616" stroke-width="1.2"/>
<text x="508.15" y="547.00" font-size="7" text-anchor="middle" fill="#161616" stroke="#161616" font-weight="bold" >6</text>
<line x1="511.55" y1="538.30" x2="511.55" y2="541.30" stroke="#161616" stroke-width="1.2"/>
<line x1="514.49" y1="538.30" x2="514.49" y2="541.30" stroke="#161616" stroke-width="1.2"/>
<line x1="517.08" y1="538.30" x2="517.08" y2="541.30" stroke="#161616" stroke-width="1.2"/>
<line x1="519.40" y1="538.30" x2="519.40" y2="542.80" stroke="#161616" stroke-width="1.2"/>
<text transform="translate(519.40,554.60) scale(0.9,1)" font-size="10.4" text-anchor="middle" fill="#161616" stroke="#161616" font-weight="bold" >1000</text>
<text x="470.25" y="569.20" font-size="12.2" text-anchor="middle" fill="#161616" stroke="#161616" font-weight="bold" >size (nm)</text>
<text x="474.05" y="406.20" font-size="12.1" text-anchor="middle" fill="#161616" stroke="#161616" font-weight="bold" >3.75 equiv</text>
<polyline points="418.50,534.60 423.57,534.60 428.64,534.60 433.71,534.60 438.10,524.59 441.30,484.56 444.60,430.77 447.90,409.50 451.10,427.64 454.40,460.17 457.70,489.56 460.90,509.58 464.20,522.09 467.50,528.97 470.70,532.72 474.00,533.97 477.30,534.60 482.00,534.60 487.07,534.60 492.14,534.60 497.21,534.60 502.28,534.60 507.35,534.60 512.42,534.60 517.49,534.60 522.56,534.60 527.63,534.60" fill="none" stroke="#bb1626" stroke-width="1.2" stroke-linejoin="round" stroke-linecap="round" />
<path d="M418.50,532.60L420.50,534.60L418.50,536.60L416.50,534.60Z" fill="#bb1626"/>
<path d="M423.57,532.60L425.57,534.60L423.57,536.60L421.57,534.60Z" fill="#bb1626"/>
<path d="M428.64,532.60L430.64,534.60L428.64,536.60L426.64,534.60Z" fill="#bb1626"/>
<path d="M433.71,532.60L435.71,534.60L433.71,536.60L431.71,534.60Z" fill="#bb1626"/>
<path d="M438.10,522.59L440.10,524.59L438.10,526.59L436.10,524.59Z" fill="#bb1626"/>
<path d="M441.30,482.56L443.30,484.56L441.30,486.56L439.30,484.56Z" fill="#bb1626"/>
<path d="M444.60,428.77L446.60,430.77L444.60,432.77L442.60,430.77Z" fill="#bb1626"/>
<path d="M447.90,407.50L449.90,409.50L447.90,411.50L445.90,409.50Z" fill="#bb1626"/>
<path d="M451.10,425.64L453.10,427.64L451.10,429.64L449.10,427.64Z" fill="#bb1626"/>
<path d="M454.40,458.17L456.40,460.17L454.40,462.17L452.40,460.17Z" fill="#bb1626"/>
<path d="M457.70,487.56L459.70,489.56L457.70,491.56L455.70,489.56Z" fill="#bb1626"/>
<path d="M460.90,507.58L462.90,509.58L460.90,511.58L458.90,509.58Z" fill="#bb1626"/>
<path d="M464.20,520.09L466.20,522.09L464.20,524.09L462.20,522.09Z" fill="#bb1626"/>
<path d="M467.50,526.97L469.50,528.97L467.50,530.97L465.50,528.97Z" fill="#bb1626"/>
<path d="M470.70,530.72L472.70,532.72L470.70,534.72L468.70,532.72Z" fill="#bb1626"/>
<path d="M474.00,531.97L476.00,533.97L474.00,535.97L472.00,533.97Z" fill="#bb1626"/>
<path d="M477.30,532.60L479.30,534.60L477.30,536.60L475.30,534.60Z" fill="#bb1626"/>
<path d="M482.00,532.60L484.00,534.60L482.00,536.60L480.00,534.60Z" fill="#bb1626"/>
<path d="M487.07,532.60L489.07,534.60L487.07,536.60L485.07,534.60Z" fill="#bb1626"/>
<path d="M492.14,532.60L494.14,534.60L492.14,536.60L490.14,534.60Z" fill="#bb1626"/>
<path d="M497.21,532.60L499.21,534.60L497.21,536.60L495.21,534.60Z" fill="#bb1626"/>
<path d="M502.28,532.60L504.28,534.60L502.28,536.60L500.28,534.60Z" fill="#bb1626"/>
<path d="M507.35,532.60L509.35,534.60L507.35,536.60L505.35,534.60Z" fill="#bb1626"/>
<path d="M512.42,532.60L514.42,534.60L512.42,536.60L510.42,534.60Z" fill="#bb1626"/>
<path d="M517.49,532.60L519.49,534.60L517.49,536.60L515.49,534.60Z" fill="#bb1626"/>
<path d="M522.56,532.60L524.56,534.60L522.56,536.60L520.56,534.60Z" fill="#bb1626"/>
<path d="M527.63,532.60L529.63,534.60L527.63,536.60L525.63,534.60Z" fill="#bb1626"/>
<polyline points="418.50,534.60 423.57,534.60 428.64,534.60 433.71,534.60 438.78,534.60 443.85,534.60 448.92,534.60 453.99,534.60 459.06,534.60 464.13,534.60 469.20,534.60 474.27,534.60 479.34,534.60 484.41,534.60 489.48,534.60 494.55,534.60 499.62,534.60 500.70,534.60 503.00,527.09 506.30,498.32 509.50,453.91 512.80,409.50 516.10,415.13 519.30,481.43 522.60,525.84 525.80,532.10 529.00,533.97" fill="none" stroke="#19345a" stroke-width="1.2" stroke-linejoin="round" stroke-linecap="round" />
<path d="M418.50,532.60L420.50,534.60L418.50,536.60L416.50,534.60Z" fill="#19345a"/>
<path d="M423.57,532.60L425.57,534.60L423.57,536.60L421.57,534.60Z" fill="#19345a"/>
<path d="M428.64,532.60L430.64,534.60L428.64,536.60L426.64,534.60Z" fill="#19345a"/>
<path d="M433.71,532.60L435.71,534.60L433.71,536.60L431.71,534.60Z" fill="#19345a"/>
<path d="M438.78,532.60L440.78,534.60L438.78,536.60L436.78,534.60Z" fill="#19345a"/>
<path d="M443.85,532.60L445.85,534.60L443.85,536.60L441.85,534.60Z" fill="#19345a"/>
<path d="M448.92,532.60L450.92,534.60L448.92,536.60L446.92,534.60Z" fill="#19345a"/>
<path d="M453.99,532.60L455.99,534.60L453.99,536.60L451.99,534.60Z" fill="#19345a"/>
<path d="M459.06,532.60L461.06,534.60L459.06,536.60L457.06,534.60Z" fill="#19345a"/>
<path d="M464.13,532.60L466.13,534.60L464.13,536.60L462.13,534.60Z" fill="#19345a"/>
<path d="M469.20,532.60L471.20,534.60L469.20,536.60L467.20,534.60Z" fill="#19345a"/>
<path d="M474.27,532.60L476.27,534.60L474.27,536.60L472.27,534.60Z" fill="#19345a"/>
<path d="M479.34,532.60L481.34,534.60L479.34,536.60L477.34,534.60Z" fill="#19345a"/>
<path d="M484.41,532.60L486.41,534.60L484.41,536.60L482.41,534.60Z" fill="#19345a"/>
<path d="M489.48,532.60L491.48,534.60L489.48,536.60L487.48,534.60Z" fill="#19345a"/>
<path d="M494.55,532.60L496.55,534.60L494.55,536.60L492.55,534.60Z" fill="#19345a"/>
<path d="M499.62,532.60L501.62,534.60L499.62,536.60L497.62,534.60Z" fill="#19345a"/>
<path d="M500.70,532.60L502.70,534.60L500.70,536.60L498.70,534.60Z" fill="#19345a"/>
<path d="M503.00,525.09L505.00,527.09L503.00,529.09L501.00,527.09Z" fill="#19345a"/>
<path d="M506.30,496.32L508.30,498.32L506.30,500.32L504.30,498.32Z" fill="#19345a"/>
<path d="M509.50,451.91L511.50,453.91L509.50,455.91L507.50,453.91Z" fill="#19345a"/>
<path d="M512.80,407.50L514.80,409.50L512.80,411.50L510.80,409.50Z" fill="#19345a"/>
<path d="M516.10,413.13L518.10,415.13L516.10,417.13L514.10,415.13Z" fill="#19345a"/>
<path d="M519.30,479.43L521.30,481.43L519.30,483.43L517.30,481.43Z" fill="#19345a"/>
<path d="M522.60,523.84L524.60,525.84L522.60,527.84L520.60,525.84Z" fill="#19345a"/>
<path d="M525.80,530.10L527.80,532.10L525.80,534.10L523.80,532.10Z" fill="#19345a"/>
<path d="M529.00,531.97L531.00,533.97L529.00,535.97L527.00,533.97Z" fill="#19345a"/>
<text transform="translate(50.50,481.00) rotate(-90)" font-size="12.2" text-anchor="middle" fill="#161616" stroke="#161616" font-weight="bold">normalized intensity</text>
<rect x="84.00" y="581.60" width="193.60" height="162.30" fill="none" stroke="#161616" stroke-width="1.3"/>
<line x1="78.50" y1="741.20" x2="84.00" y2="741.20" stroke="#161616" stroke-width="1.2"/>
<text x="76.20" y="745.00" font-size="10.6" text-anchor="end" fill="#161616" stroke="#161616" font-weight="bold" >0</text>
<line x1="78.50" y1="715.10" x2="84.00" y2="715.10" stroke="#161616" stroke-width="1.2"/>
<text x="76.20" y="718.90" font-size="10.6" text-anchor="end" fill="#161616" stroke="#161616" font-weight="bold" >5</text>
<line x1="78.50" y1="689.00" x2="84.00" y2="689.00" stroke="#161616" stroke-width="1.2"/>
<text x="76.20" y="692.80" font-size="10.6" text-anchor="end" fill="#161616" stroke="#161616" font-weight="bold" >10</text>
<line x1="78.50" y1="662.90" x2="84.00" y2="662.90" stroke="#161616" stroke-width="1.2"/>
<text x="76.20" y="666.70" font-size="10.6" text-anchor="end" fill="#161616" stroke="#161616" font-weight="bold" >15</text>
<line x1="78.50" y1="636.80" x2="84.00" y2="636.80" stroke="#161616" stroke-width="1.2"/>
<text x="76.20" y="640.60" font-size="10.6" text-anchor="end" fill="#161616" stroke="#161616" font-weight="bold" >20</text>
<line x1="78.50" y1="610.70" x2="84.00" y2="610.70" stroke="#161616" stroke-width="1.2"/>
<text x="76.20" y="614.50" font-size="10.6" text-anchor="end" fill="#161616" stroke="#161616" font-weight="bold" >25</text>
<line x1="78.50" y1="584.60" x2="84.00" y2="584.60" stroke="#161616" stroke-width="1.2"/>
<text x="76.20" y="588.40" font-size="10.6" text-anchor="end" fill="#161616" stroke="#161616" font-weight="bold" >30</text>
<line x1="86.70" y1="743.90" x2="86.70" y2="748.40" stroke="#161616" stroke-width="1.2"/>
<text x="86.70" y="760.90" font-size="10.6" text-anchor="middle" fill="#161616" stroke="#161616" font-weight="bold" >0</text>
<line x1="123.95" y1="743.90" x2="123.95" y2="748.40" stroke="#161616" stroke-width="1.2"/>
<text x="123.95" y="760.90" font-size="10.6" text-anchor="middle" fill="#161616" stroke="#161616" font-weight="bold" >100</text>
<line x1="161.20" y1="743.90" x2="161.20" y2="748.40" stroke="#161616" stroke-width="1.2"/>
<text x="161.20" y="760.90" font-size="10.6" text-anchor="middle" fill="#161616" stroke="#161616" font-weight="bold" >200</text>
<line x1="198.45" y1="743.90" x2="198.45" y2="748.40" stroke="#161616" stroke-width="1.2"/>
<text x="198.45" y="760.90" font-size="10.6" text-anchor="middle" fill="#161616" stroke="#161616" font-weight="bold" >300</text>
<line x1="235.70" y1="743.90" x2="235.70" y2="748.40" stroke="#161616" stroke-width="1.2"/>
<text x="235.70" y="760.90" font-size="10.6" text-anchor="middle" fill="#161616" stroke="#161616" font-weight="bold" >400</text>
<line x1="272.95" y1="743.90" x2="272.95" y2="748.40" stroke="#161616" stroke-width="1.2"/>
<text x="272.95" y="760.90" font-size="10.6" text-anchor="middle" fill="#161616" stroke="#161616" font-weight="bold" >500</text>
<text transform="translate(51.20,674.20) rotate(-90)" font-size="12.2" text-anchor="middle" fill="#161616" stroke="#161616" font-weight="bold">number percentage (%)</text>
<text x="176.00" y="773.50" font-size="12.2" text-anchor="middle" fill="#161616" stroke="#161616" font-weight="bold" >size (nm)</text>
<polyline points="86.70,741.20 88.56,741.20 90.42,741.20 92.29,741.20 94.15,741.20 96.01,741.20 97.88,741.20 99.74,741.20 101.60,741.20 103.46,741.20 105.33,741.20 107.19,741.20 109.05,741.20 112.03,741.20 116.50,711.45 120.60,643.06 126.19,607.20 132.15,628.45 139.59,667.60 147.79,699.96 158.22,720.84 169.39,733.37 182.43,739.63 198.08,741.20 215.21,741.20 235.70,741.20" fill="none" stroke="#6c6cc6" stroke-width="1.3" stroke-linejoin="round" stroke-linecap="round" />
<circle cx="86.70" cy="741.20" r="2.1" fill="#6c6cc6"/>
<circle cx="88.56" cy="741.20" r="2.1" fill="#6c6cc6"/>
<circle cx="90.42" cy="741.20" r="2.1" fill="#6c6cc6"/>
<circle cx="92.29" cy="741.20" r="2.1" fill="#6c6cc6"/>
<circle cx="94.15" cy="741.20" r="2.1" fill="#6c6cc6"/>
<circle cx="96.01" cy="741.20" r="2.1" fill="#6c6cc6"/>
<circle cx="97.88" cy="741.20" r="2.1" fill="#6c6cc6"/>
<circle cx="99.74" cy="741.20" r="2.1" fill="#6c6cc6"/>
<circle cx="101.60" cy="741.20" r="2.1" fill="#6c6cc6"/>
<circle cx="103.46" cy="741.20" r="2.1" fill="#6c6cc6"/>
<circle cx="105.33" cy="741.20" r="2.1" fill="#6c6cc6"/>
<circle cx="107.19" cy="741.20" r="2.1" fill="#6c6cc6"/>
<circle cx="109.05" cy="741.20" r="2.1" fill="#6c6cc6"/>
<circle cx="112.03" cy="741.20" r="2.1" fill="#6c6cc6"/>
<circle cx="116.50" cy="711.45" r="2.1" fill="#6c6cc6"/>
<circle cx="120.60" cy="643.06" r="2.1" fill="#6c6cc6"/>
<circle cx="126.19" cy="607.20" r="2.1" fill="#6c6cc6"/>
<circle cx="132.15" cy="628.45" r="2.1" fill="#6c6cc6"/>
<circle cx="139.59" cy="667.60" r="2.1" fill="#6c6cc6"/>
<circle cx="147.79" cy="699.96" r="2.1" fill="#6c6cc6"/>
<circle cx="158.22" cy="720.84" r="2.1" fill="#6c6cc6"/>
<circle cx="169.39" cy="733.37" r="2.1" fill="#6c6cc6"/>
<circle cx="182.43" cy="739.63" r="2.1" fill="#6c6cc6"/>
<circle cx="198.08" cy="741.20" r="2.1" fill="#6c6cc6"/>
<circle cx="215.21" cy="741.20" r="2.1" fill="#6c6cc6"/>
<circle cx="235.70" cy="741.20" r="2.1" fill="#6c6cc6"/>
<polyline points="86.70,741.20 88.56,741.20 90.42,741.20 92.29,741.20 94.15,741.20 96.01,741.20 97.88,741.20 99.74,741.20 101.60,741.20 103.46,741.20 105.33,741.20 107.19,741.20 109.05,741.20 110.91,741.20 112.03,741.20 116.31,741.20 119.85,741.20 123.39,741.20 126.93,741.20 132.15,728.15 139.59,684.82 147.79,630.01 157.85,608.09 169.02,632.62 182.06,678.30 198.08,714.06 215.58,733.89 235.33,740.68 259.17,741.20 272.95,741.20" fill="none" stroke="#3e1139" stroke-width="1.3" stroke-linejoin="round" stroke-linecap="round" />
<circle cx="86.70" cy="741.20" r="2.1" fill="#3e1139"/>
<circle cx="88.56" cy="741.20" r="2.1" fill="#3e1139"/>
<circle cx="90.42" cy="741.20" r="2.1" fill="#3e1139"/>
<circle cx="92.29" cy="741.20" r="2.1" fill="#3e1139"/>
<circle cx="94.15" cy="741.20" r="2.1" fill="#3e1139"/>
<circle cx="96.01" cy="741.20" r="2.1" fill="#3e1139"/>
<circle cx="97.88" cy="741.20" r="2.1" fill="#3e1139"/>
<circle cx="99.74" cy="741.20" r="2.1" fill="#3e1139"/>
<circle cx="101.60" cy="741.20" r="2.1" fill="#3e1139"/>
<circle cx="103.46" cy="741.20" r="2.1" fill="#3e1139"/>
<circle cx="105.33" cy="741.20" r="2.1" fill="#3e1139"/>
<circle cx="107.19" cy="741.20" r="2.1" fill="#3e1139"/>
<circle cx="109.05" cy="741.20" r="2.1" fill="#3e1139"/>
<circle cx="110.91" cy="741.20" r="2.1" fill="#3e1139"/>
<circle cx="112.03" cy="741.20" r="2.1" fill="#3e1139"/>
<circle cx="116.31" cy="741.20" r="2.1" fill="#3e1139"/>
<circle cx="119.85" cy="741.20" r="2.1" fill="#3e1139"/>
<circle cx="123.39" cy="741.20" r="2.1" fill="#3e1139"/>
<circle cx="126.93" cy="741.20" r="2.1" fill="#3e1139"/>
<circle cx="132.15" cy="728.15" r="2.1" fill="#3e1139"/>
<circle cx="139.59" cy="684.82" r="2.1" fill="#3e1139"/>
<circle cx="147.79" cy="630.01" r="2.1" fill="#3e1139"/>
<circle cx="157.85" cy="608.09" r="2.1" fill="#3e1139"/>
<circle cx="169.02" cy="632.62" r="2.1" fill="#3e1139"/>
<circle cx="182.06" cy="678.30" r="2.1" fill="#3e1139"/>
<circle cx="198.08" cy="714.06" r="2.1" fill="#3e1139"/>
<circle cx="215.58" cy="733.89" r="2.1" fill="#3e1139"/>
<circle cx="235.33" cy="740.68" r="2.1" fill="#3e1139"/>
<circle cx="259.17" cy="741.20" r="2.1" fill="#3e1139"/>
<circle cx="272.95" cy="741.20" r="2.1" fill="#3e1139"/>
<text x="88.80" y="596.30" font-size="10.6" text-anchor="start" fill="#6c6cc6" stroke="#6c6cc6" font-weight="bold" >Initial Colloids</text>
<line x1="165.5" y1="592.5" x2="203.3" y2="592.5" stroke="#223f35" stroke-width="2.9"/>
<path transform="translate(212.3,592.5) rotate(90)" d="M0,0 Q-3.2,7.6 -8.7,14 Q-3.5,11 0,11 Q3.5,11 8.7,14 Q3.2,7.6 0,0 Z" fill="#223f35"/>
<text x="216.00" y="596.30" font-size="10.6" text-anchor="start" fill="#4a1650" stroke="#4a1650" font-weight="bold" >1.5 equiv</text>
<rect x="84.00" y="787.70" width="193.60" height="162.80" fill="none" stroke="#161616" stroke-width="1.3"/>
<line x1="78.50" y1="947.40" x2="84.00" y2="947.40" stroke="#161616" stroke-width="1.2"/>
<text x="76.20" y="951.20" font-size="10.6" text-anchor="end" fill="#161616" stroke="#161616" font-weight="bold" >0</text>
<line x1="78.50" y1="921.30" x2="84.00" y2="921.30" stroke="#161616" stroke-width="1.2"/>
<text x="76.20" y="925.10" font-size="10.6" text-anchor="end" fill="#161616" stroke="#161616" font-weight="bold" >5</text>
<line x1="78.50" y1="895.20" x2="84.00" y2="895.20" stroke="#161616" stroke-width="1.2"/>
<text x="76.20" y="899.00" font-size="10.6" text-anchor="end" fill="#161616" stroke="#161616" font-weight="bold" >10</text>
<line x1="78.50" y1="869.10" x2="84.00" y2="869.10" stroke="#161616" stroke-width="1.2"/>
<text x="76.20" y="872.90" font-size="10.6" text-anchor="end" fill="#161616" stroke="#161616" font-weight="bold" >15</text>
<line x1="78.50" y1="843.00" x2="84.00" y2="843.00" stroke="#161616" stroke-width="1.2"/>
<text x="76.20" y="846.80" font-size="10.6" text-anchor="end" fill="#161616" stroke="#161616" font-weight="bold" >20</text>
<line x1="78.50" y1="816.90" x2="84.00" y2="816.90" stroke="#161616" stroke-width="1.2"/>
<text x="76.20" y="820.70" font-size="10.6" text-anchor="end" fill="#161616" stroke="#161616" font-weight="bold" >25</text>
<line x1="78.50" y1="790.80" x2="84.00" y2="790.80" stroke="#161616" stroke-width="1.2"/>
<text x="76.20" y="794.60" font-size="10.6" text-anchor="end" fill="#161616" stroke="#161616" font-weight="bold" >30</text>
<line x1="86.80" y1="950.50" x2="86.80" y2="955.00" stroke="#161616" stroke-width="1.2"/>
<text x="86.80" y="967.50" font-size="10.6" text-anchor="middle" fill="#161616" stroke="#161616" font-weight="bold" >0</text>
<line x1="99.21" y1="950.50" x2="99.21" y2="953.50" stroke="#161616" stroke-width="1.2"/>
<line x1="111.62" y1="950.50" x2="111.62" y2="953.50" stroke="#161616" stroke-width="1.2"/>
<line x1="124.03" y1="950.50" x2="124.03" y2="953.50" stroke="#161616" stroke-width="1.2"/>
<line x1="136.44" y1="950.50" x2="136.44" y2="953.50" stroke="#161616" stroke-width="1.2"/>
<line x1="148.85" y1="950.50" x2="148.85" y2="955.00" stroke="#161616" stroke-width="1.2"/>
<text x="148.85" y="967.50" font-size="10.6" text-anchor="middle" fill="#161616" stroke="#161616" font-weight="bold" >500</text>
<line x1="161.26" y1="950.50" x2="161.26" y2="953.50" stroke="#161616" stroke-width="1.2"/>
<line x1="173.67" y1="950.50" x2="173.67" y2="953.50" stroke="#161616" stroke-width="1.2"/>
<line x1="186.08" y1="950.50" x2="186.08" y2="953.50" stroke="#161616" stroke-width="1.2"/>
<line x1="198.49" y1="950.50" x2="198.49" y2="953.50" stroke="#161616" stroke-width="1.2"/>
<line x1="210.90" y1="950.50" x2="210.90" y2="955.00" stroke="#161616" stroke-width="1.2"/>
<text x="210.90" y="967.50" font-size="10.6" text-anchor="middle" fill="#161616" stroke="#161616" font-weight="bold" >1000</text>
<line x1="223.31" y1="950.50" x2="223.31" y2="953.50" stroke="#161616" stroke-width="1.2"/>
<line x1="235.72" y1="950.50" x2="235.72" y2="953.50" stroke="#161616" stroke-width="1.2"/>
<line x1="248.13" y1="950.50" x2="248.13" y2="953.50" stroke="#161616" stroke-width="1.2"/>
<line x1="260.54" y1="950.50" x2="260.54" y2="953.50" stroke="#161616" stroke-width="1.2"/>
<line x1="272.95" y1="950.50" x2="272.95" y2="955.00" stroke="#161616" stroke-width="1.2"/>
<text x="272.95" y="967.50" font-size="10.6" text-anchor="middle" fill="#161616" stroke="#161616" font-weight="bold" >1500</text>
<text transform="translate(51.20,874.00) rotate(-90)" font-size="12.2" text-anchor="middle" fill="#161616" stroke="#161616" font-weight="bold">number percentage (%)</text>
<text x="176.00" y="980.70" font-size="12.2" text-anchor="middle" fill="#161616" stroke="#161616" font-weight="bold" >size (nm)</text>
<polyline points="86.80,947.40 89.28,947.40 91.76,947.40 94.25,947.40 96.73,947.40 99.21,947.40 101.69,947.40 104.17,947.40 106.66,947.40 109.14,947.40 111.62,947.40 114.60,947.40 118.82,937.48 123.78,903.29 129.49,860.49 136.44,838.30 144.38,844.57 163.62,897.03 175.28,920.52 189.43,937.48 206.43,945.83 226.04,947.40 247.14,947.40" fill="none" stroke="#6c6cc6" stroke-width="1.3" stroke-linejoin="round" stroke-linecap="round" />
<circle cx="86.80" cy="947.40" r="2.1" fill="#6c6cc6"/>
<circle cx="89.28" cy="947.40" r="2.1" fill="#6c6cc6"/>
<circle cx="91.76" cy="947.40" r="2.1" fill="#6c6cc6"/>
<circle cx="94.25" cy="947.40" r="2.1" fill="#6c6cc6"/>
<circle cx="96.73" cy="947.40" r="2.1" fill="#6c6cc6"/>
<circle cx="99.21" cy="947.40" r="2.1" fill="#6c6cc6"/>
<circle cx="101.69" cy="947.40" r="2.1" fill="#6c6cc6"/>
<circle cx="104.17" cy="947.40" r="2.1" fill="#6c6cc6"/>
<circle cx="106.66" cy="947.40" r="2.1" fill="#6c6cc6"/>
<circle cx="109.14" cy="947.40" r="2.1" fill="#6c6cc6"/>
<circle cx="111.62" cy="947.40" r="2.1" fill="#6c6cc6"/>
<circle cx="114.60" cy="947.40" r="2.1" fill="#6c6cc6"/>
<circle cx="118.82" cy="937.48" r="2.1" fill="#6c6cc6"/>
<circle cx="123.78" cy="903.29" r="2.1" fill="#6c6cc6"/>
<circle cx="129.49" cy="860.49" r="2.1" fill="#6c6cc6"/>
<circle cx="136.44" cy="838.30" r="2.1" fill="#6c6cc6"/>
<circle cx="144.38" cy="844.57" r="2.1" fill="#6c6cc6"/>
<circle cx="163.62" cy="897.03" r="2.1" fill="#6c6cc6"/>
<circle cx="175.28" cy="920.52" r="2.1" fill="#6c6cc6"/>
<circle cx="189.43" cy="937.48" r="2.1" fill="#6c6cc6"/>
<circle cx="206.43" cy="945.83" r="2.1" fill="#6c6cc6"/>
<circle cx="226.04" cy="947.40" r="2.1" fill="#6c6cc6"/>
<circle cx="247.14" cy="947.40" r="2.1" fill="#6c6cc6"/>
<polyline points="86.80,947.40 88.66,947.40 90.52,947.40 92.38,947.40 94.25,947.40 96.11,947.40 97.97,947.40 99.83,947.40 101.69,947.40 103.55,947.40 105.41,947.40 107.28,947.40 109.14,947.40 111.00,947.40 112.24,947.40 114.60,947.40 118.82,947.40 123.66,947.40 129.49,942.39 136.19,923.91 143.89,896.24 153.07,868.58 163.62,846.65 175.53,831.52 189.93,851.35 206.68,907.73 225.79,941.81 246.89,945.83 272.21,947.40" fill="none" stroke="#3e1139" stroke-width="1.3" stroke-linejoin="round" stroke-linecap="round" />
<circle cx="86.80" cy="947.40" r="2.1" fill="#3e1139"/>
<circle cx="88.66" cy="947.40" r="2.1" fill="#3e1139"/>
<circle cx="90.52" cy="947.40" r="2.1" fill="#3e1139"/>
<circle cx="92.38" cy="947.40" r="2.1" fill="#3e1139"/>
<circle cx="94.25" cy="947.40" r="2.1" fill="#3e1139"/>
<circle cx="96.11" cy="947.40" r="2.1" fill="#3e1139"/>
<circle cx="97.97" cy="947.40" r="2.1" fill="#3e1139"/>
<circle cx="99.83" cy="947.40" r="2.1" fill="#3e1139"/>
<circle cx="101.69" cy="947.40" r="2.1" fill="#3e1139"/>
<circle cx="103.55" cy="947.40" r="2.1" fill="#3e1139"/>
<circle cx="105.41" cy="947.40" r="2.1" fill="#3e1139"/>
<circle cx="107.28" cy="947.40" r="2.1" fill="#3e1139"/>
<circle cx="109.14" cy="947.40" r="2.1" fill="#3e1139"/>
<circle cx="111.00" cy="947.40" r="2.1" fill="#3e1139"/>
<circle cx="112.24" cy="947.40" r="2.1" fill="#3e1139"/>
<circle cx="114.60" cy="947.40" r="2.1" fill="#3e1139"/>
<circle cx="118.82" cy="947.40" r="2.1" fill="#3e1139"/>
<circle cx="123.66" cy="947.40" r="2.1" fill="#3e1139"/>
<circle cx="129.49" cy="942.39" r="2.1" fill="#3e1139"/>
<circle cx="136.19" cy="923.91" r="2.1" fill="#3e1139"/>
<circle cx="143.89" cy="896.24" r="2.1" fill="#3e1139"/>
<circle cx="153.07" cy="868.58" r="2.1" fill="#3e1139"/>
<circle cx="163.62" cy="846.65" r="2.1" fill="#3e1139"/>
<circle cx="175.53" cy="831.52" r="2.1" fill="#3e1139"/>
<circle cx="189.93" cy="851.35" r="2.1" fill="#3e1139"/>
<circle cx="206.68" cy="907.73" r="2.1" fill="#3e1139"/>
<circle cx="225.79" cy="941.81" r="2.1" fill="#3e1139"/>
<circle cx="246.89" cy="945.83" r="2.1" fill="#3e1139"/>
<circle cx="272.21" cy="947.40" r="2.1" fill="#3e1139"/>
<text x="88.80" y="802.50" font-size="10.6" text-anchor="start" fill="#6c6cc6" stroke="#6c6cc6" font-weight="bold" >Initial Colloids</text>
<line x1="165.5" y1="798.6" x2="203.3" y2="798.6" stroke="#223f35" stroke-width="2.9"/>
<path transform="translate(212.3,798.6) rotate(90)" d="M0,0 Q-3.2,7.6 -8.7,14 Q-3.5,11 0,11 Q3.5,11 8.7,14 Q3.2,7.6 0,0 Z" fill="#223f35"/>
<text x="216.00" y="802.50" font-size="10.6" text-anchor="start" fill="#4a1650" stroke="#4a1650" font-weight="bold" >1.5 equiv</text>
<rect x="338.00" y="580.50" width="194.00" height="162.30" fill="none" stroke="#161616" stroke-width="1.3"/>
<line x1="359.90" y1="742.80" x2="359.90" y2="747.60" stroke="#161616" stroke-width="1.2"/>
<text x="359.90" y="759.50" font-size="10.6" text-anchor="middle" fill="#161616" stroke="#161616" font-weight="bold" >0.2</text>
<line x1="398.35" y1="742.80" x2="398.35" y2="747.60" stroke="#161616" stroke-width="1.2"/>
<text x="398.35" y="759.50" font-size="10.6" text-anchor="middle" fill="#161616" stroke="#161616" font-weight="bold" >0.3</text>
<line x1="436.80" y1="742.80" x2="436.80" y2="747.60" stroke="#161616" stroke-width="1.2"/>
<text x="436.80" y="759.50" font-size="10.6" text-anchor="middle" fill="#161616" stroke="#161616" font-weight="bold" >0.4</text>
<line x1="475.25" y1="742.80" x2="475.25" y2="747.60" stroke="#161616" stroke-width="1.2"/>
<text x="475.25" y="759.50" font-size="10.6" text-anchor="middle" fill="#161616" stroke="#161616" font-weight="bold" >0.5</text>
<line x1="513.70" y1="742.80" x2="513.70" y2="747.60" stroke="#161616" stroke-width="1.2"/>
<text x="513.70" y="759.50" font-size="10.6" text-anchor="middle" fill="#161616" stroke="#161616" font-weight="bold" >0.6</text>
<text transform="translate(320.50,674.00) rotate(-90)" font-size="12.2" text-anchor="middle" fill="#161616" stroke="#161616" font-weight="bold">normalized intensity</text>
<text x="429" y="775.4" font-size="12.2" text-anchor="middle" fill="#161616" stroke="#161616" font-weight="bold">q (Å<tspan font-size="6.5" dy="-4.5">-1</tspan><tspan dy="4.5">)</tspan></text>
<polyline points="341.50,701.54 342.50,701.42 343.50,702.04 344.50,702.14 345.50,701.89 346.50,702.49 347.50,702.72 348.50,703.17 349.50,702.85 350.50,703.13 351.50,702.79 352.50,702.08 353.50,701.82 354.50,699.51 355.50,697.35 356.50,692.43 357.50,686.57 358.50,680.85 359.50,677.83 360.50,679.43 361.50,684.19 362.50,691.54 363.50,697.67 364.50,702.57 365.50,705.19 366.50,707.58 367.50,709.00 368.50,710.72 369.50,711.36 370.50,713.05 371.50,713.45 372.50,714.32 373.50,715.59 374.50,716.14 375.50,716.40 376.50,717.36 377.50,717.31 378.50,718.37 379.50,718.71 380.50,719.19 381.50,719.44 382.50,719.57 383.50,719.98 384.50,720.33 385.50,721.12 386.50,720.73 387.50,721.79 388.50,721.33 389.50,721.81 390.50,722.17 391.50,723.05 392.50,722.98 393.50,723.16 394.50,723.91 395.50,723.60 396.50,724.08 397.50,724.42 398.50,724.89 399.50,725.16 400.50,725.32 401.50,725.31 402.50,725.55 403.50,725.64 404.50,726.50 405.50,726.57 406.50,726.86 407.50,726.55 408.50,726.97 409.50,727.41 410.50,727.31 411.50,726.88 412.50,727.01 413.50,727.00 414.50,725.78 415.50,725.01 416.50,724.88 417.50,725.95 418.50,727.27 419.50,727.75 420.50,728.60 421.50,729.29 422.50,729.81 423.50,730.32 424.50,730.26 425.50,730.64 426.50,730.72 427.50,731.61 428.50,731.55 429.50,731.14 430.50,732.07 431.50,731.43 432.50,731.82 433.50,732.48 434.50,732.43 435.50,732.49 436.50,732.34 437.50,732.22 438.50,732.72 439.50,732.34 440.50,732.51 441.50,732.76 442.50,732.51 443.50,732.90 444.50,733.32 445.50,733.28 446.50,733.15 447.50,733.31 448.50,733.18 449.50,732.91 450.50,733.33 451.50,733.15 452.50,733.45 453.50,733.58 454.50,733.11 455.50,733.20 456.50,733.28 457.50,732.88 458.50,732.57 459.50,732.86 460.50,732.82 461.50,732.52 462.50,732.24 463.50,732.14 464.50,731.73 465.50,731.43 466.50,730.99 467.50,730.59 468.50,730.59 469.50,729.82 470.50,729.83 471.50,729.87 472.50,729.53 473.50,729.18 474.50,728.58 475.50,728.48 476.50,728.27 477.50,728.17 478.50,727.74 479.50,727.75 480.50,727.74 481.50,726.83 482.50,727.02 483.50,726.89 484.50,726.30 485.50,726.15 486.50,726.34 487.50,725.25 488.50,725.45 489.50,724.85 490.50,725.14 491.50,725.01 492.50,724.35 493.50,723.68 494.50,723.81 495.50,723.47 496.50,723.31 497.50,722.79 498.50,722.56 499.50,722.37 500.50,721.72 501.50,721.23 502.50,721.31 503.50,720.23 504.50,720.23 505.50,719.52 506.50,719.40 507.50,718.36 508.50,718.67 509.50,717.63 510.50,716.87 511.50,716.58 512.50,716.19 513.50,715.35 514.50,715.21 515.50,714.70 516.50,714.45 517.50,713.63 518.50,713.04 519.50,712.50 520.50,712.46 521.50,712.14 522.50,711.27 523.50,710.50 524.50,710.54 525.50,709.69" fill="none" stroke="#7c7cc6" stroke-width="1.3" stroke-linejoin="round" stroke-linecap="round" />
<path d="M341.5 701.5h0M342.5 701.4h0M343.5 702.0h0M344.5 702.1h0M345.5 701.9h0M346.5 702.5h0M347.5 702.7h0M348.5 703.2h0M349.5 702.9h0M350.5 703.1h0M351.5 702.8h0M352.5 702.1h0M353.5 701.8h0M354.5 699.5h0M355.5 697.4h0M356.5 692.4h0M357.5 686.6h0M358.5 680.9h0M359.5 677.8h0M360.5 679.4h0M361.5 684.2h0M362.5 691.5h0M363.5 697.7h0M364.5 702.6h0M365.5 705.2h0M366.5 707.6h0M367.5 709.0h0M368.5 710.7h0M369.5 711.4h0M370.5 713.0h0M371.5 713.5h0M372.5 714.3h0M373.5 715.6h0M374.5 716.1h0M375.5 716.4h0M376.5 717.4h0M377.5 717.3h0M378.5 718.4h0M379.5 718.7h0M380.5 719.2h0M381.5 719.4h0M382.5 719.6h0M383.5 720.0h0M384.5 720.3h0M385.5 721.1h0M386.5 720.7h0M387.5 721.8h0M388.5 721.3h0M389.5 721.8h0M390.5 722.2h0M391.5 723.0h0M392.5 723.0h0M393.5 723.2h0M394.5 723.9h0M395.5 723.6h0M396.5 724.1h0M397.5 724.4h0M398.5 724.9h0M399.5 725.2h0M400.5 725.3h0M401.5 725.3h0M402.5 725.5h0M403.5 725.6h0M404.5 726.5h0M405.5 726.6h0M406.5 726.9h0M407.5 726.5h0M408.5 727.0h0M409.5 727.4h0M410.5 727.3h0M411.5 726.9h0M412.5 727.0h0M413.5 727.0h0M414.5 725.8h0M415.5 725.0h0M416.5 724.9h0M417.5 725.9h0M418.5 727.3h0M419.5 727.8h0M420.5 728.6h0M421.5 729.3h0M422.5 729.8h0M423.5 730.3h0M424.5 730.3h0M425.5 730.6h0M426.5 730.7h0M427.5 731.6h0M428.5 731.6h0M429.5 731.1h0M430.5 732.1h0M431.5 731.4h0M432.5 731.8h0M433.5 732.5h0M434.5 732.4h0M435.5 732.5h0M436.5 732.3h0M437.5 732.2h0M438.5 732.7h0M439.5 732.3h0M440.5 732.5h0M441.5 732.8h0M442.5 732.5h0M443.5 732.9h0M444.5 733.3h0M445.5 733.3h0M446.5 733.2h0M447.5 733.3h0M448.5 733.2h0M449.5 732.9h0M450.5 733.3h0M451.5 733.2h0M452.5 733.4h0M453.5 733.6h0M454.5 733.1h0M455.5 733.2h0M456.5 733.3h0M457.5 732.9h0M458.5 732.6h0M459.5 732.9h0M460.5 732.8h0M461.5 732.5h0M462.5 732.2h0M463.5 732.1h0M464.5 731.7h0M465.5 731.4h0M466.5 731.0h0M467.5 730.6h0M468.5 730.6h0M469.5 729.8h0M470.5 729.8h0M471.5 729.9h0M472.5 729.5h0M473.5 729.2h0M474.5 728.6h0M475.5 728.5h0M476.5 728.3h0M477.5 728.2h0M478.5 727.7h0M479.5 727.7h0M480.5 727.7h0M481.5 726.8h0M482.5 727.0h0M483.5 726.9h0M484.5 726.3h0M485.5 726.2h0M486.5 726.3h0M487.5 725.3h0M488.5 725.5h0M489.5 724.8h0M490.5 725.1h0M491.5 725.0h0M492.5 724.4h0M493.5 723.7h0M494.5 723.8h0M495.5 723.5h0M496.5 723.3h0M497.5 722.8h0M498.5 722.6h0M499.5 722.4h0M500.5 721.7h0M501.5 721.2h0M502.5 721.3h0M503.5 720.2h0M504.5 720.2h0M505.5 719.5h0M506.5 719.4h0M507.5 718.4h0M508.5 718.7h0M509.5 717.6h0M510.5 716.9h0M511.5 716.6h0M512.5 716.2h0M513.5 715.3h0M514.5 715.2h0M515.5 714.7h0M516.5 714.4h0M517.5 713.6h0M518.5 713.0h0M519.5 712.5h0M520.5 712.5h0M521.5 712.1h0M522.5 711.3h0M523.5 710.5h0M524.5 710.5h0M525.5 709.7h0" stroke="#7c7cc6" stroke-width="4.0" stroke-linecap="round" fill="none"/>
<polyline points="341.50,684.12 342.50,684.32 343.50,685.16 344.50,685.44 345.50,685.54 346.50,685.64 347.50,685.98 348.50,685.95 349.50,686.90 350.50,686.63 351.50,687.10 352.50,687.28 353.50,686.78 354.50,684.79 355.50,680.68 356.50,673.59 357.50,662.48 358.50,651.04 359.50,641.46 360.50,640.56 361.50,647.65 362.50,660.39 363.50,673.12 364.50,683.31 365.50,689.60 366.50,693.23 367.50,696.10 368.50,697.21 369.50,698.40 370.50,699.54 371.50,700.70 372.50,701.56 373.50,702.54 374.50,703.23 375.50,703.62 376.50,704.76 377.50,705.33 378.50,705.23 379.50,706.53 380.50,707.21 381.50,707.69 382.50,707.70 383.50,708.90 384.50,709.30 385.50,709.31 386.50,709.87 387.50,711.27 388.50,711.55 389.50,711.73 390.50,712.13 391.50,712.70 392.50,713.30 393.50,714.31 394.50,714.43 395.50,714.76 396.50,715.94 397.50,716.33 398.50,716.25 399.50,717.38 400.50,717.59 401.50,718.20 402.50,718.55 403.50,719.18 404.50,719.50 405.50,719.94 406.50,719.73 407.50,720.50 408.50,720.62 409.50,720.99 410.50,720.75 411.50,720.94 412.50,720.09 413.50,718.71 414.50,716.80 415.50,714.33 416.50,713.50 417.50,714.78 418.50,718.06 419.50,720.18 420.50,722.17 421.50,723.32 422.50,724.17 423.50,725.08 424.50,724.82 425.50,726.00 426.50,726.04 427.50,726.48 428.50,726.89 429.50,727.35 430.50,727.21 431.50,727.52 432.50,728.26 433.50,727.70 434.50,728.43 435.50,728.64 436.50,728.29 437.50,728.99 438.50,729.22 439.50,729.58 440.50,729.16 441.50,729.85 442.50,729.51 443.50,729.54 444.50,729.94 445.50,729.16 446.50,729.77 447.50,729.67 448.50,729.39 449.50,729.83 450.50,729.35 451.50,729.40 452.50,729.39 453.50,729.55 454.50,728.97 455.50,729.09 456.50,728.99 457.50,729.01 458.50,729.15 459.50,728.55 460.50,728.91 461.50,728.39 462.50,728.33 463.50,727.97 464.50,728.01 465.50,728.26 466.50,727.78 467.50,727.70 468.50,727.08 469.50,726.84 470.50,726.59 471.50,726.60 472.50,726.38 473.50,726.23 474.50,725.26 475.50,725.56 476.50,725.37 477.50,724.68 478.50,723.82 479.50,723.59 480.50,722.80 481.50,722.37 482.50,722.30 483.50,721.12 484.50,720.03 485.50,718.82 486.50,717.74 487.50,717.02 488.50,717.29 489.50,717.72 490.50,718.00 491.50,717.90 492.50,717.80 493.50,717.08 494.50,717.12 495.50,716.51 496.50,716.32 497.50,715.23 498.50,714.79 499.50,714.13 500.50,714.24 501.50,713.80 502.50,712.97 503.50,712.10 504.50,711.88 505.50,711.20 506.50,710.33 507.50,709.38 508.50,708.73 509.50,708.14 510.50,707.34 511.50,706.72 512.50,706.19 513.50,705.72 514.50,704.19 515.50,703.92 516.50,702.70 517.50,702.04 518.50,701.92 519.50,700.97 520.50,700.54 521.50,699.38 522.50,698.27 523.50,697.88 524.50,697.35 525.50,696.96" fill="none" stroke="#6a50a6" stroke-width="1.3" stroke-linejoin="round" stroke-linecap="round" />
<path d="M341.5 684.1h0M342.5 684.3h0M343.5 685.2h0M344.5 685.4h0M345.5 685.5h0M346.5 685.6h0M347.5 686.0h0M348.5 686.0h0M349.5 686.9h0M350.5 686.6h0M351.5 687.1h0M352.5 687.3h0M353.5 686.8h0M354.5 684.8h0M355.5 680.7h0M356.5 673.6h0M357.5 662.5h0M358.5 651.0h0M359.5 641.5h0M360.5 640.6h0M361.5 647.7h0M362.5 660.4h0M363.5 673.1h0M364.5 683.3h0M365.5 689.6h0M366.5 693.2h0M367.5 696.1h0M368.5 697.2h0M369.5 698.4h0M370.5 699.5h0M371.5 700.7h0M372.5 701.6h0M373.5 702.5h0M374.5 703.2h0M375.5 703.6h0M376.5 704.8h0M377.5 705.3h0M378.5 705.2h0M379.5 706.5h0M380.5 707.2h0M381.5 707.7h0M382.5 707.7h0M383.5 708.9h0M384.5 709.3h0M385.5 709.3h0M386.5 709.9h0M387.5 711.3h0M388.5 711.6h0M389.5 711.7h0M390.5 712.1h0M391.5 712.7h0M392.5 713.3h0M393.5 714.3h0M394.5 714.4h0M395.5 714.8h0M396.5 715.9h0M397.5 716.3h0M398.5 716.3h0M399.5 717.4h0M400.5 717.6h0M401.5 718.2h0M402.5 718.5h0M403.5 719.2h0M404.5 719.5h0M405.5 719.9h0M406.5 719.7h0M407.5 720.5h0M408.5 720.6h0M409.5 721.0h0M410.5 720.7h0M411.5 720.9h0M412.5 720.1h0M413.5 718.7h0M414.5 716.8h0M415.5 714.3h0M416.5 713.5h0M417.5 714.8h0M418.5 718.1h0M419.5 720.2h0M420.5 722.2h0M421.5 723.3h0M422.5 724.2h0M423.5 725.1h0M424.5 724.8h0M425.5 726.0h0M426.5 726.0h0M427.5 726.5h0M428.5 726.9h0M429.5 727.3h0M430.5 727.2h0M431.5 727.5h0M432.5 728.3h0M433.5 727.7h0M434.5 728.4h0M435.5 728.6h0M436.5 728.3h0M437.5 729.0h0M438.5 729.2h0M439.5 729.6h0M440.5 729.2h0M441.5 729.9h0M442.5 729.5h0M443.5 729.5h0M444.5 729.9h0M445.5 729.2h0M446.5 729.8h0M447.5 729.7h0M448.5 729.4h0M449.5 729.8h0M450.5 729.4h0M451.5 729.4h0M452.5 729.4h0M453.5 729.5h0M454.5 729.0h0M455.5 729.1h0M456.5 729.0h0M457.5 729.0h0M458.5 729.2h0M459.5 728.6h0M460.5 728.9h0M461.5 728.4h0M462.5 728.3h0M463.5 728.0h0M464.5 728.0h0M465.5 728.3h0M466.5 727.8h0M467.5 727.7h0M468.5 727.1h0M469.5 726.8h0M470.5 726.6h0M471.5 726.6h0M472.5 726.4h0M473.5 726.2h0M474.5 725.3h0M475.5 725.6h0M476.5 725.4h0M477.5 724.7h0M478.5 723.8h0M479.5 723.6h0M480.5 722.8h0M481.5 722.4h0M482.5 722.3h0M483.5 721.1h0M484.5 720.0h0M485.5 718.8h0M486.5 717.7h0M487.5 717.0h0M488.5 717.3h0M489.5 717.7h0M490.5 718.0h0M491.5 717.9h0M492.5 717.8h0M493.5 717.1h0M494.5 717.1h0M495.5 716.5h0M496.5 716.3h0M497.5 715.2h0M498.5 714.8h0M499.5 714.1h0M500.5 714.2h0M501.5 713.8h0M502.5 713.0h0M503.5 712.1h0M504.5 711.9h0M505.5 711.2h0M506.5 710.3h0M507.5 709.4h0M508.5 708.7h0M509.5 708.1h0M510.5 707.3h0M511.5 706.7h0M512.5 706.2h0M513.5 705.7h0M514.5 704.2h0M515.5 703.9h0M516.5 702.7h0M517.5 702.0h0M518.5 701.9h0M519.5 701.0h0M520.5 700.5h0M521.5 699.4h0M522.5 698.3h0M523.5 697.9h0M524.5 697.4h0M525.5 697.0h0" stroke="#6a50a6" stroke-width="4.0" stroke-linecap="round" fill="none"/>
<polyline points="341.50,681.08 342.50,680.86 343.50,681.02 344.50,680.95 345.50,681.64 346.50,681.46 347.50,681.62 348.50,681.73 349.50,681.97 350.50,682.83 351.50,682.50 352.50,683.20 353.50,681.74 354.50,680.31 355.50,674.69 356.50,665.49 357.50,652.80 358.50,637.37 359.50,626.41 360.50,624.11 361.50,633.22 362.50,649.27 363.50,664.82 364.50,677.06 365.50,684.68 366.50,688.45 367.50,691.35 368.50,692.95 369.50,693.89 370.50,695.33 371.50,695.64 372.50,697.10 373.50,697.59 374.50,697.57 375.50,698.15 376.50,699.30 377.50,700.01 378.50,699.89 379.50,700.64 380.50,701.55 381.50,701.57 382.50,702.72 383.50,702.89 384.50,703.01 385.50,703.78 386.50,704.46 387.50,704.82 388.50,705.51 389.50,705.51 390.50,706.56 391.50,706.63 392.50,707.34 393.50,707.77 394.50,708.02 395.50,708.43 396.50,709.22 397.50,709.78 398.50,710.06 399.50,710.27 400.50,710.42 401.50,710.60 402.50,711.80 403.50,711.92 404.50,712.37 405.50,712.25 406.50,712.79 407.50,713.37 408.50,713.43 409.50,713.32 410.50,712.99 411.50,712.79 412.50,712.52 413.50,710.78 414.50,708.95 415.50,706.22 416.50,705.17 417.50,706.86 418.50,709.50 419.50,711.82 420.50,713.81 421.50,715.13 422.50,716.09 423.50,716.89 424.50,717.42 425.50,717.04 426.50,718.07 427.50,718.32 428.50,718.62 429.50,718.58 430.50,718.51 431.50,719.22 432.50,719.35 433.50,719.39 434.50,719.74 435.50,719.36 436.50,719.23 437.50,719.75 438.50,720.05 439.50,719.58 440.50,720.12 441.50,720.32 442.50,719.70 443.50,720.03 444.50,720.07 445.50,719.83 446.50,719.54 447.50,719.51 448.50,719.89 449.50,719.84 450.50,719.45 451.50,719.02 452.50,719.56 453.50,719.42 454.50,718.81 455.50,719.00 456.50,719.15 457.50,718.99 458.50,718.51 459.50,718.32 460.50,718.25 461.50,717.72 462.50,717.54 463.50,717.35 464.50,717.62 465.50,717.11 466.50,717.09 467.50,716.73 468.50,716.61 469.50,716.04 470.50,715.71 471.50,716.32 472.50,715.51 473.50,715.00 474.50,715.20 475.50,715.06 476.50,714.18 477.50,714.25 478.50,713.67 479.50,713.44 480.50,712.57 481.50,712.12 482.50,712.44 483.50,711.70 484.50,710.61 485.50,709.84 486.50,708.78 487.50,708.84 488.50,708.49 489.50,709.01 490.50,708.79 491.50,708.67 492.50,708.55 493.50,707.60 494.50,707.06 495.50,706.85 496.50,706.45 497.50,705.98 498.50,705.56 499.50,705.62 500.50,705.51 501.50,704.75 502.50,704.79 503.50,704.35 504.50,703.17 505.50,703.24 506.50,702.64 507.50,701.97 508.50,702.31 509.50,701.25 510.50,701.10 511.50,700.74 512.50,700.60 513.50,699.91 514.50,699.23 515.50,698.85 516.50,698.15 517.50,698.44 518.50,698.04 519.50,696.91 520.50,696.31 521.50,696.08 522.50,695.73 523.50,695.80 524.50,695.37 525.50,694.88" fill="none" stroke="#6c4595" stroke-width="1.3" stroke-linejoin="round" stroke-linecap="round" />
<path d="M341.5 681.1h0M342.5 680.9h0M343.5 681.0h0M344.5 681.0h0M345.5 681.6h0M346.5 681.5h0M347.5 681.6h0M348.5 681.7h0M349.5 682.0h0M350.5 682.8h0M351.5 682.5h0M352.5 683.2h0M353.5 681.7h0M354.5 680.3h0M355.5 674.7h0M356.5 665.5h0M357.5 652.8h0M358.5 637.4h0M359.5 626.4h0M360.5 624.1h0M361.5 633.2h0M362.5 649.3h0M363.5 664.8h0M364.5 677.1h0M365.5 684.7h0M366.5 688.5h0M367.5 691.4h0M368.5 692.9h0M369.5 693.9h0M370.5 695.3h0M371.5 695.6h0M372.5 697.1h0M373.5 697.6h0M374.5 697.6h0M375.5 698.2h0M376.5 699.3h0M377.5 700.0h0M378.5 699.9h0M379.5 700.6h0M380.5 701.6h0M381.5 701.6h0M382.5 702.7h0M383.5 702.9h0M384.5 703.0h0M385.5 703.8h0M386.5 704.5h0M387.5 704.8h0M388.5 705.5h0M389.5 705.5h0M390.5 706.6h0M391.5 706.6h0M392.5 707.3h0M393.5 707.8h0M394.5 708.0h0M395.5 708.4h0M396.5 709.2h0M397.5 709.8h0M398.5 710.1h0M399.5 710.3h0M400.5 710.4h0M401.5 710.6h0M402.5 711.8h0M403.5 711.9h0M404.5 712.4h0M405.5 712.2h0M406.5 712.8h0M407.5 713.4h0M408.5 713.4h0M409.5 713.3h0M410.5 713.0h0M411.5 712.8h0M412.5 712.5h0M413.5 710.8h0M414.5 708.9h0M415.5 706.2h0M416.5 705.2h0M417.5 706.9h0M418.5 709.5h0M419.5 711.8h0M420.5 713.8h0M421.5 715.1h0M422.5 716.1h0M423.5 716.9h0M424.5 717.4h0M425.5 717.0h0M426.5 718.1h0M427.5 718.3h0M428.5 718.6h0M429.5 718.6h0M430.5 718.5h0M431.5 719.2h0M432.5 719.3h0M433.5 719.4h0M434.5 719.7h0M435.5 719.4h0M436.5 719.2h0M437.5 719.8h0M438.5 720.1h0M439.5 719.6h0M440.5 720.1h0M441.5 720.3h0M442.5 719.7h0M443.5 720.0h0M444.5 720.1h0M445.5 719.8h0M446.5 719.5h0M447.5 719.5h0M448.5 719.9h0M449.5 719.8h0M450.5 719.5h0M451.5 719.0h0M452.5 719.6h0M453.5 719.4h0M454.5 718.8h0M455.5 719.0h0M456.5 719.1h0M457.5 719.0h0M458.5 718.5h0M459.5 718.3h0M460.5 718.3h0M461.5 717.7h0M462.5 717.5h0M463.5 717.3h0M464.5 717.6h0M465.5 717.1h0M466.5 717.1h0M467.5 716.7h0M468.5 716.6h0M469.5 716.0h0M470.5 715.7h0M471.5 716.3h0M472.5 715.5h0M473.5 715.0h0M474.5 715.2h0M475.5 715.1h0M476.5 714.2h0M477.5 714.3h0M478.5 713.7h0M479.5 713.4h0M480.5 712.6h0M481.5 712.1h0M482.5 712.4h0M483.5 711.7h0M484.5 710.6h0M485.5 709.8h0M486.5 708.8h0M487.5 708.8h0M488.5 708.5h0M489.5 709.0h0M490.5 708.8h0M491.5 708.7h0M492.5 708.5h0M493.5 707.6h0M494.5 707.1h0M495.5 706.8h0M496.5 706.5h0M497.5 706.0h0M498.5 705.6h0M499.5 705.6h0M500.5 705.5h0M501.5 704.7h0M502.5 704.8h0M503.5 704.3h0M504.5 703.2h0M505.5 703.2h0M506.5 702.6h0M507.5 702.0h0M508.5 702.3h0M509.5 701.3h0M510.5 701.1h0M511.5 700.7h0M512.5 700.6h0M513.5 699.9h0M514.5 699.2h0M515.5 698.8h0M516.5 698.2h0M517.5 698.4h0M518.5 698.0h0M519.5 696.9h0M520.5 696.3h0M521.5 696.1h0M522.5 695.7h0M523.5 695.8h0M524.5 695.4h0M525.5 694.9h0" stroke="#6c4595" stroke-width="4.0" stroke-linecap="round" fill="none"/>
<polyline points="341.50,677.41 342.50,678.41 343.50,678.68 344.50,678.96 345.50,679.59 346.50,679.08 347.50,679.46 348.50,680.30 349.50,680.73 350.50,680.71 351.50,680.53 352.50,680.74 353.50,680.24 354.50,677.36 355.50,671.64 356.50,659.51 357.50,639.95 358.50,616.23 359.50,595.28 360.50,588.25 361.50,599.11 362.50,622.16 363.50,645.55 364.50,664.64 365.50,675.33 366.50,680.81 367.50,684.23 368.50,685.08 369.50,686.96 370.50,688.18 371.50,689.55 372.50,690.26 373.50,691.88 374.50,692.81 375.50,694.63 376.50,695.42 377.50,696.01 378.50,696.59 379.50,697.17 380.50,698.24 381.50,698.53 382.50,699.23 383.50,699.32 384.50,699.89 385.50,700.22 386.50,701.27 387.50,701.56 388.50,701.58 389.50,702.57 390.50,702.34 391.50,702.74 392.50,702.76 393.50,703.09 394.50,703.82 395.50,703.58 396.50,703.64 397.50,704.14 398.50,704.21 399.50,704.94 400.50,704.41 401.50,705.36 402.50,704.69 403.50,705.58 404.50,705.50 405.50,705.17 406.50,705.47 407.50,705.30 408.50,705.21 409.50,704.99 410.50,704.81 411.50,704.78 412.50,703.75 413.50,701.94 414.50,698.43 415.50,695.19 416.50,694.03 417.50,695.43 418.50,699.89 419.50,702.70 420.50,705.50 421.50,706.08 422.50,707.80 423.50,708.10 424.50,708.47 425.50,708.79 426.50,709.90 427.50,709.94 428.50,709.91 429.50,710.39 430.50,711.04 431.50,710.63 432.50,711.15 433.50,710.94 434.50,711.16 435.50,711.85 436.50,711.96 437.50,711.65 438.50,711.69 439.50,711.83 440.50,712.43 441.50,712.46 442.50,712.38 443.50,712.43 444.50,712.90 445.50,713.09 446.50,713.28 447.50,713.15 448.50,712.87 449.50,712.79 450.50,713.41 451.50,713.12 452.50,713.36 453.50,712.69 454.50,713.25 455.50,712.68 456.50,712.97 457.50,712.81 458.50,712.30 459.50,711.68 460.50,712.28 461.50,711.68 462.50,711.82 463.50,711.05 464.50,710.75 465.50,711.09 466.50,710.42 467.50,709.98 468.50,709.90 469.50,709.83 470.50,709.02 471.50,709.20 472.50,708.84 473.50,708.60 474.50,707.93 475.50,708.14 476.50,707.89 477.50,707.58 478.50,706.72 479.50,706.68 480.50,705.95 481.50,705.80 482.50,704.63 483.50,704.71 484.50,703.99 485.50,702.66 486.50,701.86 487.50,701.51 488.50,701.62 489.50,701.35 490.50,702.29 491.50,701.56 492.50,701.36 493.50,701.06 494.50,700.93 495.50,701.14 496.50,700.11 497.50,699.84 498.50,700.04 499.50,699.25 500.50,698.74 501.50,698.91 502.50,698.53 503.50,698.12 504.50,697.91 505.50,697.00 506.50,697.32 507.50,696.80 508.50,695.82 509.50,695.51 510.50,695.46 511.50,695.08 512.50,694.50 513.50,693.97 514.50,693.84 515.50,693.21 516.50,693.23 517.50,693.09 518.50,692.06 519.50,692.05 520.50,691.82 521.50,690.91 522.50,691.12 523.50,690.84 524.50,689.96 525.50,689.60" fill="none" stroke="#4a1650" stroke-width="1.3" stroke-linejoin="round" stroke-linecap="round" />
<path d="M341.5 677.4h0M342.5 678.4h0M343.5 678.7h0M344.5 679.0h0M345.5 679.6h0M346.5 679.1h0M347.5 679.5h0M348.5 680.3h0M349.5 680.7h0M350.5 680.7h0M351.5 680.5h0M352.5 680.7h0M353.5 680.2h0M354.5 677.4h0M355.5 671.6h0M356.5 659.5h0M357.5 639.9h0M358.5 616.2h0M359.5 595.3h0M360.5 588.3h0M361.5 599.1h0M362.5 622.2h0M363.5 645.6h0M364.5 664.6h0M365.5 675.3h0M366.5 680.8h0M367.5 684.2h0M368.5 685.1h0M369.5 687.0h0M370.5 688.2h0M371.5 689.6h0M372.5 690.3h0M373.5 691.9h0M374.5 692.8h0M375.5 694.6h0M376.5 695.4h0M377.5 696.0h0M378.5 696.6h0M379.5 697.2h0M380.5 698.2h0M381.5 698.5h0M382.5 699.2h0M383.5 699.3h0M384.5 699.9h0M385.5 700.2h0M386.5 701.3h0M387.5 701.6h0M388.5 701.6h0M389.5 702.6h0M390.5 702.3h0M391.5 702.7h0M392.5 702.8h0M393.5 703.1h0M394.5 703.8h0M395.5 703.6h0M396.5 703.6h0M397.5 704.1h0M398.5 704.2h0M399.5 704.9h0M400.5 704.4h0M401.5 705.4h0M402.5 704.7h0M403.5 705.6h0M404.5 705.5h0M405.5 705.2h0M406.5 705.5h0M407.5 705.3h0M408.5 705.2h0M409.5 705.0h0M410.5 704.8h0M411.5 704.8h0M412.5 703.8h0M413.5 701.9h0M414.5 698.4h0M415.5 695.2h0M416.5 694.0h0M417.5 695.4h0M418.5 699.9h0M419.5 702.7h0M420.5 705.5h0M421.5 706.1h0M422.5 707.8h0M423.5 708.1h0M424.5 708.5h0M425.5 708.8h0M426.5 709.9h0M427.5 709.9h0M428.5 709.9h0M429.5 710.4h0M430.5 711.0h0M431.5 710.6h0M432.5 711.1h0M433.5 710.9h0M434.5 711.2h0M435.5 711.9h0M436.5 712.0h0M437.5 711.6h0M438.5 711.7h0M439.5 711.8h0M440.5 712.4h0M441.5 712.5h0M442.5 712.4h0M443.5 712.4h0M444.5 712.9h0M445.5 713.1h0M446.5 713.3h0M447.5 713.2h0M448.5 712.9h0M449.5 712.8h0M450.5 713.4h0M451.5 713.1h0M452.5 713.4h0M453.5 712.7h0M454.5 713.3h0M455.5 712.7h0M456.5 713.0h0M457.5 712.8h0M458.5 712.3h0M459.5 711.7h0M460.5 712.3h0M461.5 711.7h0M462.5 711.8h0M463.5 711.1h0M464.5 710.7h0M465.5 711.1h0M466.5 710.4h0M467.5 710.0h0M468.5 709.9h0M469.5 709.8h0M470.5 709.0h0M471.5 709.2h0M472.5 708.8h0M473.5 708.6h0M474.5 707.9h0M475.5 708.1h0M476.5 707.9h0M477.5 707.6h0M478.5 706.7h0M479.5 706.7h0M480.5 705.9h0M481.5 705.8h0M482.5 704.6h0M483.5 704.7h0M484.5 704.0h0M485.5 702.7h0M486.5 701.9h0M487.5 701.5h0M488.5 701.6h0M489.5 701.4h0M490.5 702.3h0M491.5 701.6h0M492.5 701.4h0M493.5 701.1h0M494.5 700.9h0M495.5 701.1h0M496.5 700.1h0M497.5 699.8h0M498.5 700.0h0M499.5 699.2h0M500.5 698.7h0M501.5 698.9h0M502.5 698.5h0M503.5 698.1h0M504.5 697.9h0M505.5 697.0h0M506.5 697.3h0M507.5 696.8h0M508.5 695.8h0M509.5 695.5h0M510.5 695.5h0M511.5 695.1h0M512.5 694.5h0M513.5 694.0h0M514.5 693.8h0M515.5 693.2h0M516.5 693.2h0M517.5 693.1h0M518.5 692.1h0M519.5 692.1h0M520.5 691.8h0M521.5 690.9h0M522.5 691.1h0M523.5 690.8h0M524.5 690.0h0M525.5 689.6h0" stroke="#4a1650" stroke-width="4.0" stroke-linecap="round" fill="none"/>
<line x1="429.5" y1="599.5" x2="429.5" y2="637.8" stroke="#223f35" stroke-width="2.9"/>
<path transform="translate(429.5,590.5)" d="M0,0 Q-3.2,7.6 -8.7,14 Q-3.5,11 0,11 Q3.5,11 8.7,14 Q3.2,7.6 0,0 Z" fill="#223f35"/>
<text x="446.50" y="598.80" font-size="10.6" text-anchor="start" fill="#4a1650" stroke="#4a1650" font-weight="bold" >1.5 equiv</text>
<text x="446.50" y="611.60" font-size="10.6" text-anchor="start" fill="#6c4595" stroke="#6c4595" font-weight="bold" >0.8 equiv</text>
<text x="446.50" y="624.40" font-size="10.6" text-anchor="start" fill="#6a50a6" stroke="#6a50a6" font-weight="bold" >0.5 equiv</text>
<text x="446.50" y="637.20" font-size="10.6" text-anchor="start" fill="#7c7cc6" stroke="#7c7cc6" font-weight="bold" >Initial Colloids</text>
<rect x="338.00" y="787.60" width="194.00" height="162.50" fill="none" stroke="#161616" stroke-width="1.3"/>
<line x1="367.70" y1="950.10" x2="367.70" y2="954.90" stroke="#161616" stroke-width="1.2"/>
<text x="367.70" y="966.80" font-size="10.6" text-anchor="middle" fill="#161616" stroke="#161616" font-weight="bold" >0.2</text>
<line x1="406.70" y1="950.10" x2="406.70" y2="954.90" stroke="#161616" stroke-width="1.2"/>
<text x="406.70" y="966.80" font-size="10.6" text-anchor="middle" fill="#161616" stroke="#161616" font-weight="bold" >0.3</text>
<line x1="445.70" y1="950.10" x2="445.70" y2="954.90" stroke="#161616" stroke-width="1.2"/>
<text x="445.70" y="966.80" font-size="10.6" text-anchor="middle" fill="#161616" stroke="#161616" font-weight="bold" >0.4</text>
<line x1="484.70" y1="950.10" x2="484.70" y2="954.90" stroke="#161616" stroke-width="1.2"/>
<text x="484.70" y="966.80" font-size="10.6" text-anchor="middle" fill="#161616" stroke="#161616" font-weight="bold" >0.5</text>
<line x1="523.70" y1="950.10" x2="523.70" y2="954.90" stroke="#161616" stroke-width="1.2"/>
<text x="523.70" y="966.80" font-size="10.6" text-anchor="middle" fill="#161616" stroke="#161616" font-weight="bold" >0.6</text>
<text transform="translate(320.50,874.00) rotate(-90)" font-size="12.2" text-anchor="middle" fill="#161616" stroke="#161616" font-weight="bold">normalized intensity</text>
<text x="429" y="981" font-size="12.2" text-anchor="middle" fill="#161616" stroke="#161616" font-weight="bold">q (Å<tspan font-size="6.5" dy="-4.5">-1</tspan><tspan dy="4.5">)</tspan></text>
<polyline points="341.00,922.28 342.00,922.36 343.00,922.60 344.00,923.45 345.00,923.66 346.00,923.62 347.00,923.88 348.00,924.32 349.00,924.75 350.00,925.58 351.00,925.75 352.00,926.17 353.00,926.39 354.00,926.70 355.00,926.25 356.00,926.89 357.00,927.47 358.00,927.55 359.00,926.92 360.00,926.85 361.00,926.46 362.00,924.95 363.00,922.34 364.00,915.55 365.00,902.00 366.00,893.77 367.00,908.52 368.00,919.51 369.00,925.19 370.00,927.51 371.00,929.16 372.00,929.93 373.00,930.90 374.00,931.64 375.00,932.24 376.00,932.01 377.00,933.05 378.00,933.16 379.00,933.94 380.00,933.98 381.00,934.62 382.00,935.36 383.00,935.48 384.00,935.54 385.00,936.17 386.00,936.47 387.00,937.31 388.00,937.09 389.00,937.47 390.00,938.13 391.00,937.99 392.00,938.75 393.00,939.39 394.00,939.29 395.00,939.35 396.00,939.79 397.00,940.10 398.00,939.97 399.00,940.14 400.00,940.31 401.00,940.59 402.00,940.81 403.00,940.80 404.00,940.84 405.00,940.77 406.00,941.23 407.00,941.55 408.00,941.38 409.00,941.38 410.00,941.49 411.00,941.13 412.00,941.62 413.00,941.44 414.00,941.56 415.00,941.65 416.00,941.53 417.00,941.34 418.00,941.13 419.00,940.82 420.00,940.64 421.00,940.24 422.00,940.76 423.00,940.96 424.00,941.91 425.00,942.84 426.00,942.62 427.00,943.19 428.00,943.36 429.00,943.38 430.00,944.20 431.00,943.75 432.00,944.34 433.00,943.95 434.00,944.02 435.00,944.89 436.00,944.65 437.00,944.45 438.00,944.87 439.00,945.05 440.00,945.44 441.00,944.99 442.00,945.21 443.00,945.98 444.00,945.88 445.00,945.45 446.00,945.71 447.00,945.82 448.00,946.21 449.00,946.27 450.00,946.59 451.00,946.67 452.00,946.50 453.00,946.81 454.00,946.91 455.00,947.03 456.00,946.86 457.00,947.22 458.00,947.23 459.00,947.48 460.00,946.82 461.00,947.53 462.00,946.78 463.00,947.47 464.00,947.30 465.00,947.20 466.00,947.58 467.00,947.16 468.00,946.94 469.00,947.16 470.00,947.10 471.00,946.71 472.00,946.35 473.00,946.26 474.00,946.10 475.00,946.16 476.00,945.60 477.00,945.50 478.00,945.46 479.00,945.11 480.00,944.85 481.00,945.06 482.00,944.90 483.00,944.35 484.00,944.05 485.00,943.53 486.00,943.33 487.00,942.82 488.00,942.80 489.00,942.42 490.00,941.73 491.00,942.40 492.00,941.83 493.00,942.23 494.00,942.10 495.00,942.05 496.00,941.18 497.00,941.18 498.00,941.40 499.00,940.37 500.00,940.17 501.00,940.40 502.00,940.11 503.00,940.25 504.00,939.87 505.00,939.42 506.00,939.59 507.00,938.91 508.00,938.66 509.00,938.57 510.00,938.05 511.00,937.77 512.00,937.74 513.00,937.27 514.00,937.56 515.00,937.07 516.00,936.69 517.00,936.06 518.00,936.07 519.00,935.85 520.00,935.75 521.00,935.52 522.00,935.56 523.00,935.40 524.00,934.73 525.00,934.46 526.00,934.39 527.00,934.50 528.00,933.68" fill="none" stroke="#7c7cc6" stroke-width="1.3" stroke-linejoin="round" stroke-linecap="round" />
<path d="M341.0 922.3h0M342.0 922.4h0M343.0 922.6h0M344.0 923.4h0M345.0 923.7h0M346.0 923.6h0M347.0 923.9h0M348.0 924.3h0M349.0 924.8h0M350.0 925.6h0M351.0 925.8h0M352.0 926.2h0M353.0 926.4h0M354.0 926.7h0M355.0 926.2h0M356.0 926.9h0M357.0 927.5h0M358.0 927.6h0M359.0 926.9h0M360.0 926.9h0M361.0 926.5h0M362.0 924.9h0M363.0 922.3h0M364.0 915.5h0M365.0 902.0h0M366.0 893.8h0M367.0 908.5h0M368.0 919.5h0M369.0 925.2h0M370.0 927.5h0M371.0 929.2h0M372.0 929.9h0M373.0 930.9h0M374.0 931.6h0M375.0 932.2h0M376.0 932.0h0M377.0 933.0h0M378.0 933.2h0M379.0 933.9h0M380.0 934.0h0M381.0 934.6h0M382.0 935.4h0M383.0 935.5h0M384.0 935.5h0M385.0 936.2h0M386.0 936.5h0M387.0 937.3h0M388.0 937.1h0M389.0 937.5h0M390.0 938.1h0M391.0 938.0h0M392.0 938.7h0M393.0 939.4h0M394.0 939.3h0M395.0 939.4h0M396.0 939.8h0M397.0 940.1h0M398.0 940.0h0M399.0 940.1h0M400.0 940.3h0M401.0 940.6h0M402.0 940.8h0M403.0 940.8h0M404.0 940.8h0M405.0 940.8h0M406.0 941.2h0M407.0 941.5h0M408.0 941.4h0M409.0 941.4h0M410.0 941.5h0M411.0 941.1h0M412.0 941.6h0M413.0 941.4h0M414.0 941.6h0M415.0 941.6h0M416.0 941.5h0M417.0 941.3h0M418.0 941.1h0M419.0 940.8h0M420.0 940.6h0M421.0 940.2h0M422.0 940.8h0M423.0 941.0h0M424.0 941.9h0M425.0 942.8h0M426.0 942.6h0M427.0 943.2h0M428.0 943.4h0M429.0 943.4h0M430.0 944.2h0M431.0 943.7h0M432.0 944.3h0M433.0 944.0h0M434.0 944.0h0M435.0 944.9h0M436.0 944.6h0M437.0 944.4h0M438.0 944.9h0M439.0 945.0h0M440.0 945.4h0M441.0 945.0h0M442.0 945.2h0M443.0 946.0h0M444.0 945.9h0M445.0 945.4h0M446.0 945.7h0M447.0 945.8h0M448.0 946.2h0M449.0 946.3h0M450.0 946.6h0M451.0 946.7h0M452.0 946.5h0M453.0 946.8h0M454.0 946.9h0M455.0 947.0h0M456.0 946.9h0M457.0 947.2h0M458.0 947.2h0M459.0 947.5h0M460.0 946.8h0M461.0 947.5h0M462.0 946.8h0M463.0 947.5h0M464.0 947.3h0M465.0 947.2h0M466.0 947.6h0M467.0 947.2h0M468.0 946.9h0M469.0 947.2h0M470.0 947.1h0M471.0 946.7h0M472.0 946.4h0M473.0 946.3h0M474.0 946.1h0M475.0 946.2h0M476.0 945.6h0M477.0 945.5h0M478.0 945.5h0M479.0 945.1h0M480.0 944.9h0M481.0 945.1h0M482.0 944.9h0M483.0 944.3h0M484.0 944.0h0M485.0 943.5h0M486.0 943.3h0M487.0 942.8h0M488.0 942.8h0M489.0 942.4h0M490.0 941.7h0M491.0 942.4h0M492.0 941.8h0M493.0 942.2h0M494.0 942.1h0M495.0 942.0h0M496.0 941.2h0M497.0 941.2h0M498.0 941.4h0M499.0 940.4h0M500.0 940.2h0M501.0 940.4h0M502.0 940.1h0M503.0 940.2h0M504.0 939.9h0M505.0 939.4h0M506.0 939.6h0M507.0 938.9h0M508.0 938.7h0M509.0 938.6h0M510.0 938.1h0M511.0 937.8h0M512.0 937.7h0M513.0 937.3h0M514.0 937.6h0M515.0 937.1h0M516.0 936.7h0M517.0 936.1h0M518.0 936.1h0M519.0 935.8h0M520.0 935.7h0M521.0 935.5h0M522.0 935.6h0M523.0 935.4h0M524.0 934.7h0M525.0 934.5h0M526.0 934.4h0M527.0 934.5h0M528.0 933.7h0" stroke="#7c7cc6" stroke-width="4.0" stroke-linecap="round" fill="none"/>
<polyline points="341.00,912.49 342.00,913.05 343.00,912.78 344.00,913.22 345.00,914.12 346.00,914.29 347.00,914.31 348.00,914.25 349.00,915.25 350.00,915.34 351.00,915.73 352.00,916.14 353.00,916.28 354.00,916.07 355.00,916.00 356.00,916.25 357.00,916.50 358.00,916.44 359.00,915.98 360.00,915.57 361.00,915.20 362.00,913.67 363.00,910.31 364.00,903.77 365.00,888.09 366.00,878.39 367.00,895.46 368.00,907.79 369.00,912.75 370.00,915.74 371.00,916.63 372.00,917.87 373.00,919.06 374.00,919.40 375.00,919.97 376.00,919.98 377.00,920.66 378.00,921.10 379.00,921.22 380.00,921.93 381.00,922.19 382.00,922.96 383.00,922.94 384.00,923.14 385.00,923.23 386.00,923.60 387.00,924.48 388.00,924.23 389.00,924.55 390.00,924.94 391.00,925.57 392.00,926.15 393.00,926.26 394.00,926.72 395.00,926.33 396.00,926.55 397.00,927.48 398.00,927.31 399.00,927.88 400.00,927.75 401.00,927.77 402.00,928.03 403.00,928.03 404.00,928.90 405.00,928.74 406.00,928.65 407.00,928.86 408.00,928.90 409.00,928.71 410.00,929.55 411.00,929.35 412.00,929.77 413.00,929.36 414.00,929.57 415.00,929.25 416.00,929.03 417.00,929.70 418.00,929.36 419.00,928.37 420.00,928.17 421.00,927.60 422.00,927.57 423.00,928.82 424.00,930.01 425.00,930.20 426.00,931.04 427.00,930.72 428.00,931.10 429.00,931.61 430.00,931.34 431.00,931.57 432.00,932.22 433.00,932.00 434.00,932.39 435.00,931.98 436.00,931.99 437.00,932.20 438.00,932.03 439.00,932.65 440.00,931.86 441.00,931.99 442.00,931.75 443.00,932.52 444.00,932.75 445.00,933.07 446.00,933.00 447.00,933.25 448.00,934.05 449.00,933.78 450.00,933.82 451.00,933.89 452.00,934.07 453.00,934.10 454.00,933.97 455.00,934.56 456.00,934.27 457.00,934.07 458.00,934.49 459.00,933.83 460.00,933.84 461.00,934.18 462.00,933.37 463.00,933.48 464.00,933.65 465.00,933.44 466.00,932.67 467.00,932.65 468.00,932.78 469.00,932.28 470.00,932.60 471.00,931.72 472.00,932.18 473.00,931.56 474.00,931.10 475.00,931.09 476.00,930.58 477.00,930.87 478.00,930.24 479.00,930.59 480.00,930.08 481.00,929.64 482.00,929.29 483.00,929.36 484.00,928.75 485.00,929.07 486.00,928.10 487.00,928.13 488.00,927.82 489.00,927.24 490.00,927.44 491.00,926.92 492.00,927.03 493.00,926.79 494.00,926.37 495.00,926.23 496.00,925.73 497.00,925.59 498.00,925.96 499.00,925.24 500.00,925.30 501.00,924.56 502.00,924.71 503.00,924.28 504.00,924.16 505.00,923.72 506.00,923.27 507.00,923.23 508.00,922.91 509.00,922.56 510.00,922.84 511.00,922.20 512.00,922.06 513.00,922.26 514.00,921.89 515.00,921.74 516.00,921.47 517.00,920.56 518.00,920.44 519.00,919.98 520.00,920.31 521.00,920.06 522.00,919.53 523.00,919.34 524.00,919.32 525.00,919.12 526.00,918.48 527.00,918.78 528.00,918.10" fill="none" stroke="#6a50a6" stroke-width="1.3" stroke-linejoin="round" stroke-linecap="round" />
<path d="M341.0 912.5h0M342.0 913.1h0M343.0 912.8h0M344.0 913.2h0M345.0 914.1h0M346.0 914.3h0M347.0 914.3h0M348.0 914.2h0M349.0 915.2h0M350.0 915.3h0M351.0 915.7h0M352.0 916.1h0M353.0 916.3h0M354.0 916.1h0M355.0 916.0h0M356.0 916.2h0M357.0 916.5h0M358.0 916.4h0M359.0 916.0h0M360.0 915.6h0M361.0 915.2h0M362.0 913.7h0M363.0 910.3h0M364.0 903.8h0M365.0 888.1h0M366.0 878.4h0M367.0 895.5h0M368.0 907.8h0M369.0 912.7h0M370.0 915.7h0M371.0 916.6h0M372.0 917.9h0M373.0 919.1h0M374.0 919.4h0M375.0 920.0h0M376.0 920.0h0M377.0 920.7h0M378.0 921.1h0M379.0 921.2h0M380.0 921.9h0M381.0 922.2h0M382.0 923.0h0M383.0 922.9h0M384.0 923.1h0M385.0 923.2h0M386.0 923.6h0M387.0 924.5h0M388.0 924.2h0M389.0 924.6h0M390.0 924.9h0M391.0 925.6h0M392.0 926.2h0M393.0 926.3h0M394.0 926.7h0M395.0 926.3h0M396.0 926.5h0M397.0 927.5h0M398.0 927.3h0M399.0 927.9h0M400.0 927.8h0M401.0 927.8h0M402.0 928.0h0M403.0 928.0h0M404.0 928.9h0M405.0 928.7h0M406.0 928.7h0M407.0 928.9h0M408.0 928.9h0M409.0 928.7h0M410.0 929.5h0M411.0 929.4h0M412.0 929.8h0M413.0 929.4h0M414.0 929.6h0M415.0 929.2h0M416.0 929.0h0M417.0 929.7h0M418.0 929.4h0M419.0 928.4h0M420.0 928.2h0M421.0 927.6h0M422.0 927.6h0M423.0 928.8h0M424.0 930.0h0M425.0 930.2h0M426.0 931.0h0M427.0 930.7h0M428.0 931.1h0M429.0 931.6h0M430.0 931.3h0M431.0 931.6h0M432.0 932.2h0M433.0 932.0h0M434.0 932.4h0M435.0 932.0h0M436.0 932.0h0M437.0 932.2h0M438.0 932.0h0M439.0 932.6h0M440.0 931.9h0M441.0 932.0h0M442.0 931.8h0M443.0 932.5h0M444.0 932.8h0M445.0 933.1h0M446.0 933.0h0M447.0 933.2h0M448.0 934.1h0M449.0 933.8h0M450.0 933.8h0M451.0 933.9h0M452.0 934.1h0M453.0 934.1h0M454.0 934.0h0M455.0 934.6h0M456.0 934.3h0M457.0 934.1h0M458.0 934.5h0M459.0 933.8h0M460.0 933.8h0M461.0 934.2h0M462.0 933.4h0M463.0 933.5h0M464.0 933.6h0M465.0 933.4h0M466.0 932.7h0M467.0 932.6h0M468.0 932.8h0M469.0 932.3h0M470.0 932.6h0M471.0 931.7h0M472.0 932.2h0M473.0 931.6h0M474.0 931.1h0M475.0 931.1h0M476.0 930.6h0M477.0 930.9h0M478.0 930.2h0M479.0 930.6h0M480.0 930.1h0M481.0 929.6h0M482.0 929.3h0M483.0 929.4h0M484.0 928.7h0M485.0 929.1h0M486.0 928.1h0M487.0 928.1h0M488.0 927.8h0M489.0 927.2h0M490.0 927.4h0M491.0 926.9h0M492.0 927.0h0M493.0 926.8h0M494.0 926.4h0M495.0 926.2h0M496.0 925.7h0M497.0 925.6h0M498.0 926.0h0M499.0 925.2h0M500.0 925.3h0M501.0 924.6h0M502.0 924.7h0M503.0 924.3h0M504.0 924.2h0M505.0 923.7h0M506.0 923.3h0M507.0 923.2h0M508.0 922.9h0M509.0 922.6h0M510.0 922.8h0M511.0 922.2h0M512.0 922.1h0M513.0 922.3h0M514.0 921.9h0M515.0 921.7h0M516.0 921.5h0M517.0 920.6h0M518.0 920.4h0M519.0 920.0h0M520.0 920.3h0M521.0 920.1h0M522.0 919.5h0M523.0 919.3h0M524.0 919.3h0M525.0 919.1h0M526.0 918.5h0M527.0 918.8h0M528.0 918.1h0" stroke="#6a50a6" stroke-width="4.0" stroke-linecap="round" fill="none"/>
<polyline points="341.00,899.25 342.00,899.17 343.00,899.44 344.00,900.48 345.00,900.65 346.00,900.96 347.00,900.67 348.00,900.99 349.00,901.40 350.00,901.73 351.00,902.10 352.00,902.44 353.00,902.37 354.00,902.82 355.00,903.28 356.00,902.97 357.00,903.56 358.00,903.21 359.00,903.06 360.00,902.12 361.00,901.30 362.00,899.69 363.00,895.68 364.00,887.29 365.00,871.90 366.00,863.00 367.00,879.22 368.00,892.11 369.00,899.11 370.00,902.08 371.00,903.43 372.00,904.82 373.00,905.58 374.00,906.89 375.00,906.95 376.00,908.11 377.00,908.44 378.00,908.31 379.00,909.30 380.00,909.47 381.00,910.23 382.00,910.73 383.00,910.67 384.00,910.93 385.00,912.12 386.00,912.08 387.00,912.96 388.00,913.16 389.00,913.62 390.00,914.11 391.00,914.33 392.00,914.57 393.00,914.60 394.00,915.55 395.00,915.68 396.00,916.11 397.00,916.82 398.00,916.43 399.00,917.33 400.00,917.00 401.00,917.92 402.00,918.32 403.00,918.14 404.00,918.69 405.00,919.36 406.00,919.34 407.00,919.52 408.00,919.50 409.00,919.55 410.00,920.02 411.00,920.25 412.00,920.21 413.00,920.41 414.00,920.31 415.00,920.81 416.00,920.66 417.00,920.01 418.00,919.52 419.00,918.91 420.00,917.65 421.00,917.24 422.00,917.22 423.00,918.50 424.00,920.18 425.00,920.28 426.00,921.15 427.00,921.26 428.00,921.91 429.00,921.83 430.00,922.13 431.00,921.67 432.00,922.18 433.00,922.15 434.00,922.05 435.00,922.32 436.00,922.35 437.00,921.63 438.00,921.64 439.00,921.45 440.00,920.92 441.00,920.50 442.00,920.89 443.00,921.37 444.00,922.35 445.00,922.53 446.00,922.54 447.00,922.99 448.00,923.35 449.00,923.46 450.00,923.46 451.00,923.54 452.00,923.64 453.00,924.65 454.00,924.54 455.00,924.02 456.00,924.64 457.00,924.90 458.00,924.52 459.00,924.06 460.00,924.31 461.00,924.15 462.00,923.81 463.00,924.01 464.00,923.40 465.00,924.10 466.00,923.72 467.00,923.57 468.00,923.71 469.00,923.31 470.00,922.81 471.00,922.66 472.00,922.41 473.00,922.16 474.00,922.67 475.00,922.57 476.00,921.92 477.00,921.65 478.00,921.89 479.00,921.90 480.00,921.79 481.00,920.92 482.00,921.27 483.00,921.10 484.00,920.78 485.00,920.14 486.00,919.70 487.00,919.90 488.00,919.01 489.00,918.65 490.00,918.61 491.00,918.46 492.00,918.96 493.00,918.46 494.00,918.25 495.00,918.64 496.00,918.58 497.00,918.62 498.00,918.37 499.00,918.38 500.00,918.25 501.00,917.67 502.00,917.50 503.00,917.02 504.00,916.96 505.00,917.03 506.00,916.40 507.00,916.76 508.00,916.11 509.00,916.17 510.00,916.46 511.00,915.48 512.00,915.25 513.00,915.43 514.00,915.02 515.00,915.31 516.00,914.48 517.00,915.05 518.00,914.88 519.00,914.64 520.00,914.13 521.00,913.82 522.00,913.98 523.00,913.67 524.00,913.41 525.00,913.16 526.00,913.08 527.00,913.11 528.00,913.08" fill="none" stroke="#6c4595" stroke-width="1.3" stroke-linejoin="round" stroke-linecap="round" />
<path d="M341.0 899.2h0M342.0 899.2h0M343.0 899.4h0M344.0 900.5h0M345.0 900.7h0M346.0 901.0h0M347.0 900.7h0M348.0 901.0h0M349.0 901.4h0M350.0 901.7h0M351.0 902.1h0M352.0 902.4h0M353.0 902.4h0M354.0 902.8h0M355.0 903.3h0M356.0 903.0h0M357.0 903.6h0M358.0 903.2h0M359.0 903.1h0M360.0 902.1h0M361.0 901.3h0M362.0 899.7h0M363.0 895.7h0M364.0 887.3h0M365.0 871.9h0M366.0 863.0h0M367.0 879.2h0M368.0 892.1h0M369.0 899.1h0M370.0 902.1h0M371.0 903.4h0M372.0 904.8h0M373.0 905.6h0M374.0 906.9h0M375.0 907.0h0M376.0 908.1h0M377.0 908.4h0M378.0 908.3h0M379.0 909.3h0M380.0 909.5h0M381.0 910.2h0M382.0 910.7h0M383.0 910.7h0M384.0 910.9h0M385.0 912.1h0M386.0 912.1h0M387.0 913.0h0M388.0 913.2h0M389.0 913.6h0M390.0 914.1h0M391.0 914.3h0M392.0 914.6h0M393.0 914.6h0M394.0 915.6h0M395.0 915.7h0M396.0 916.1h0M397.0 916.8h0M398.0 916.4h0M399.0 917.3h0M400.0 917.0h0M401.0 917.9h0M402.0 918.3h0M403.0 918.1h0M404.0 918.7h0M405.0 919.4h0M406.0 919.3h0M407.0 919.5h0M408.0 919.5h0M409.0 919.6h0M410.0 920.0h0M411.0 920.3h0M412.0 920.2h0M413.0 920.4h0M414.0 920.3h0M415.0 920.8h0M416.0 920.7h0M417.0 920.0h0M418.0 919.5h0M419.0 918.9h0M420.0 917.7h0M421.0 917.2h0M422.0 917.2h0M423.0 918.5h0M424.0 920.2h0M425.0 920.3h0M426.0 921.2h0M427.0 921.3h0M428.0 921.9h0M429.0 921.8h0M430.0 922.1h0M431.0 921.7h0M432.0 922.2h0M433.0 922.2h0M434.0 922.1h0M435.0 922.3h0M436.0 922.4h0M437.0 921.6h0M438.0 921.6h0M439.0 921.4h0M440.0 920.9h0M441.0 920.5h0M442.0 920.9h0M443.0 921.4h0M444.0 922.4h0M445.0 922.5h0M446.0 922.5h0M447.0 923.0h0M448.0 923.3h0M449.0 923.5h0M450.0 923.5h0M451.0 923.5h0M452.0 923.6h0M453.0 924.6h0M454.0 924.5h0M455.0 924.0h0M456.0 924.6h0M457.0 924.9h0M458.0 924.5h0M459.0 924.1h0M460.0 924.3h0M461.0 924.2h0M462.0 923.8h0M463.0 924.0h0M464.0 923.4h0M465.0 924.1h0M466.0 923.7h0M467.0 923.6h0M468.0 923.7h0M469.0 923.3h0M470.0 922.8h0M471.0 922.7h0M472.0 922.4h0M473.0 922.2h0M474.0 922.7h0M475.0 922.6h0M476.0 921.9h0M477.0 921.7h0M478.0 921.9h0M479.0 921.9h0M480.0 921.8h0M481.0 920.9h0M482.0 921.3h0M483.0 921.1h0M484.0 920.8h0M485.0 920.1h0M486.0 919.7h0M487.0 919.9h0M488.0 919.0h0M489.0 918.6h0M490.0 918.6h0M491.0 918.5h0M492.0 919.0h0M493.0 918.5h0M494.0 918.3h0M495.0 918.6h0M496.0 918.6h0M497.0 918.6h0M498.0 918.4h0M499.0 918.4h0M500.0 918.3h0M501.0 917.7h0M502.0 917.5h0M503.0 917.0h0M504.0 917.0h0M505.0 917.0h0M506.0 916.4h0M507.0 916.8h0M508.0 916.1h0M509.0 916.2h0M510.0 916.5h0M511.0 915.5h0M512.0 915.3h0M513.0 915.4h0M514.0 915.0h0M515.0 915.3h0M516.0 914.5h0M517.0 915.1h0M518.0 914.9h0M519.0 914.6h0M520.0 914.1h0M521.0 913.8h0M522.0 914.0h0M523.0 913.7h0M524.0 913.4h0M525.0 913.2h0M526.0 913.1h0M527.0 913.1h0M528.0 913.1h0" stroke="#6c4595" stroke-width="4.0" stroke-linecap="round" fill="none"/>
<polyline points="341.00,885.62 342.00,885.22 343.00,885.59 344.00,885.98 345.00,886.33 346.00,886.37 347.00,886.44 348.00,886.52 349.00,886.88 350.00,887.11 351.00,887.62 352.00,887.54 353.00,887.37 354.00,887.21 355.00,886.78 356.00,885.86 357.00,885.17 358.00,883.26 359.00,882.01 360.00,879.23 361.00,874.62 362.00,867.63 363.00,855.36 364.00,833.08 365.00,803.17 366.00,791.12 367.00,815.72 368.00,844.86 369.00,862.40 370.00,873.24 371.00,880.19 372.00,884.24 373.00,886.88 374.00,889.61 375.00,891.07 376.00,892.66 377.00,893.67 378.00,894.75 379.00,895.62 380.00,896.17 381.00,896.53 382.00,897.15 383.00,898.30 384.00,898.47 385.00,898.53 386.00,899.63 387.00,899.48 388.00,899.71 389.00,900.47 390.00,900.56 391.00,901.10 392.00,901.47 393.00,901.48 394.00,902.07 395.00,901.93 396.00,902.55 397.00,902.87 398.00,902.64 399.00,903.16 400.00,903.06 401.00,903.58 402.00,904.14 403.00,904.03 404.00,904.33 405.00,904.51 406.00,904.06 407.00,904.96 408.00,904.81 409.00,904.33 410.00,905.03 411.00,904.67 412.00,904.46 413.00,905.10 414.00,904.61 415.00,904.56 416.00,903.57 417.00,903.44 418.00,901.59 419.00,899.77 420.00,897.07 421.00,894.64 422.00,896.26 423.00,898.90 424.00,901.47 425.00,903.44 426.00,904.19 427.00,905.25 428.00,905.44 429.00,905.98 430.00,905.92 431.00,906.41 432.00,906.49 433.00,905.95 434.00,906.53 435.00,906.19 436.00,906.55 437.00,906.39 438.00,906.33 439.00,905.34 440.00,905.04 441.00,904.96 442.00,905.39 443.00,905.92 444.00,905.98 445.00,906.99 446.00,906.89 447.00,907.58 448.00,908.04 449.00,907.62 450.00,908.54 451.00,908.48 452.00,908.26 453.00,908.35 454.00,908.71 455.00,909.19 456.00,909.07 457.00,908.75 458.00,908.75 459.00,908.90 460.00,909.58 461.00,909.07 462.00,909.43 463.00,909.22 464.00,909.58 465.00,909.30 466.00,909.08 467.00,909.71 468.00,909.37 469.00,909.46 470.00,909.50 471.00,909.55 472.00,908.63 473.00,908.82 474.00,908.54 475.00,908.73 476.00,908.92 477.00,908.71 478.00,907.86 479.00,907.82 480.00,908.20 481.00,907.86 482.00,907.35 483.00,907.12 484.00,906.43 485.00,906.52 486.00,905.36 487.00,904.70 488.00,903.00 489.00,901.10 490.00,901.04 491.00,901.97 492.00,903.84 493.00,904.48 494.00,904.54 495.00,904.97 496.00,905.30 497.00,905.47 498.00,905.58 499.00,905.38 500.00,905.29 501.00,904.90 502.00,905.33 503.00,905.01 504.00,904.62 505.00,904.90 506.00,905.26 507.00,904.29 508.00,904.25 509.00,904.60 510.00,904.11 511.00,903.98 512.00,904.06 513.00,903.71 514.00,903.85 515.00,903.68 516.00,903.94 517.00,903.83 518.00,902.84 519.00,903.18 520.00,903.23 521.00,903.19 522.00,902.97 523.00,902.71 524.00,902.57 525.00,902.20 526.00,901.99 527.00,902.32 528.00,902.26" fill="none" stroke="#4a1650" stroke-width="1.3" stroke-linejoin="round" stroke-linecap="round" />
<path d="M341.0 885.6h0M342.0 885.2h0M343.0 885.6h0M344.0 886.0h0M345.0 886.3h0M346.0 886.4h0M347.0 886.4h0M348.0 886.5h0M349.0 886.9h0M350.0 887.1h0M351.0 887.6h0M352.0 887.5h0M353.0 887.4h0M354.0 887.2h0M355.0 886.8h0M356.0 885.9h0M357.0 885.2h0M358.0 883.3h0M359.0 882.0h0M360.0 879.2h0M361.0 874.6h0M362.0 867.6h0M363.0 855.4h0M364.0 833.1h0M365.0 803.2h0M366.0 791.1h0M367.0 815.7h0M368.0 844.9h0M369.0 862.4h0M370.0 873.2h0M371.0 880.2h0M372.0 884.2h0M373.0 886.9h0M374.0 889.6h0M375.0 891.1h0M376.0 892.7h0M377.0 893.7h0M378.0 894.8h0M379.0 895.6h0M380.0 896.2h0M381.0 896.5h0M382.0 897.1h0M383.0 898.3h0M384.0 898.5h0M385.0 898.5h0M386.0 899.6h0M387.0 899.5h0M388.0 899.7h0M389.0 900.5h0M390.0 900.6h0M391.0 901.1h0M392.0 901.5h0M393.0 901.5h0M394.0 902.1h0M395.0 901.9h0M396.0 902.6h0M397.0 902.9h0M398.0 902.6h0M399.0 903.2h0M400.0 903.1h0M401.0 903.6h0M402.0 904.1h0M403.0 904.0h0M404.0 904.3h0M405.0 904.5h0M406.0 904.1h0M407.0 905.0h0M408.0 904.8h0M409.0 904.3h0M410.0 905.0h0M411.0 904.7h0M412.0 904.5h0M413.0 905.1h0M414.0 904.6h0M415.0 904.6h0M416.0 903.6h0M417.0 903.4h0M418.0 901.6h0M419.0 899.8h0M420.0 897.1h0M421.0 894.6h0M422.0 896.3h0M423.0 898.9h0M424.0 901.5h0M425.0 903.4h0M426.0 904.2h0M427.0 905.2h0M428.0 905.4h0M429.0 906.0h0M430.0 905.9h0M431.0 906.4h0M432.0 906.5h0M433.0 906.0h0M434.0 906.5h0M435.0 906.2h0M436.0 906.6h0M437.0 906.4h0M438.0 906.3h0M439.0 905.3h0M440.0 905.0h0M441.0 905.0h0M442.0 905.4h0M443.0 905.9h0M444.0 906.0h0M445.0 907.0h0M446.0 906.9h0M447.0 907.6h0M448.0 908.0h0M449.0 907.6h0M450.0 908.5h0M451.0 908.5h0M452.0 908.3h0M453.0 908.3h0M454.0 908.7h0M455.0 909.2h0M456.0 909.1h0M457.0 908.7h0M458.0 908.8h0M459.0 908.9h0M460.0 909.6h0M461.0 909.1h0M462.0 909.4h0M463.0 909.2h0M464.0 909.6h0M465.0 909.3h0M466.0 909.1h0M467.0 909.7h0M468.0 909.4h0M469.0 909.5h0M470.0 909.5h0M471.0 909.6h0M472.0 908.6h0M473.0 908.8h0M474.0 908.5h0M475.0 908.7h0M476.0 908.9h0M477.0 908.7h0M478.0 907.9h0M479.0 907.8h0M480.0 908.2h0M481.0 907.9h0M482.0 907.4h0M483.0 907.1h0M484.0 906.4h0M485.0 906.5h0M486.0 905.4h0M487.0 904.7h0M488.0 903.0h0M489.0 901.1h0M490.0 901.0h0M491.0 902.0h0M492.0 903.8h0M493.0 904.5h0M494.0 904.5h0M495.0 905.0h0M496.0 905.3h0M497.0 905.5h0M498.0 905.6h0M499.0 905.4h0M500.0 905.3h0M501.0 904.9h0M502.0 905.3h0M503.0 905.0h0M504.0 904.6h0M505.0 904.9h0M506.0 905.3h0M507.0 904.3h0M508.0 904.3h0M509.0 904.6h0M510.0 904.1h0M511.0 904.0h0M512.0 904.1h0M513.0 903.7h0M514.0 903.9h0M515.0 903.7h0M516.0 903.9h0M517.0 903.8h0M518.0 902.8h0M519.0 903.2h0M520.0 903.2h0M521.0 903.2h0M522.0 903.0h0M523.0 902.7h0M524.0 902.6h0M525.0 902.2h0M526.0 902.0h0M527.0 902.3h0M528.0 902.3h0" stroke="#4a1650" stroke-width="4.0" stroke-linecap="round" fill="none"/>
<line x1="429.5" y1="804" x2="429.5" y2="841.8" stroke="#223f35" stroke-width="2.9"/>
<path transform="translate(429.5,795)" d="M0,0 Q-3.2,7.6 -8.7,14 Q-3.5,11 0,11 Q3.5,11 8.7,14 Q3.2,7.6 0,0 Z" fill="#223f35"/>
<text x="446.50" y="803.50" font-size="10.6" text-anchor="start" fill="#4a1650" stroke="#4a1650" font-weight="bold" >1.5 equiv</text>
<text x="446.50" y="816.30" font-size="10.6" text-anchor="start" fill="#6c4595" stroke="#6c4595" font-weight="bold" >0.8 equiv</text>
<text x="446.50" y="829.10" font-size="10.6" text-anchor="start" fill="#6a50a6" stroke="#6a50a6" font-weight="bold" >0.5 equiv</text>
<text x="446.50" y="841.90" font-size="10.6" text-anchor="start" fill="#7c7cc6" stroke="#7c7cc6" font-weight="bold" >Initial Colloids</text>
</svg></body></html>
